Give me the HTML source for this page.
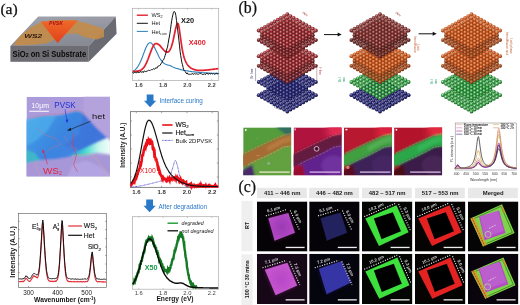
<!DOCTYPE html><html><head><meta charset="utf-8"><title>Figure</title><style>html,body{margin:0;padding:0;background:#fff;width:520px;height:305px;overflow:hidden}svg{display:block}text{font-family:'Liberation Sans', Arial, sans-serif}.sf{font-family:'Liberation Serif', 'Times New Roman', serif}</style></head><body>
<svg width="520" height="305" viewBox="0 0 520 305">
<defs><filter id="bl1" x="-20%" y="-20%" width="140%" height="140%"><feGaussianBlur stdDeviation="1"/></filter><filter id="bl2" x="-20%" y="-20%" width="140%" height="140%"><feGaussianBlur stdDeviation="2"/></filter><filter id="bl05" x="-20%" y="-20%" width="140%" height="140%"><feGaussianBlur stdDeviation="0.5"/></filter></defs>
<rect width="520" height="305" fill="#fff"/>
<text class="sf" x="0.4" y="13.6" font-size="15.6" fill="#111" stroke="#111" stroke-width="0.25">(a)</text>
<defs><linearGradient id="topf" x1="0" y1="0" x2="0.3" y2="1"><stop offset="0" stop-color="#a0a3ae"/><stop offset="1" stop-color="#888a94"/></linearGradient><linearGradient id="pvg" x1="0" y1="0" x2="0" y2="1"><stop offset="0" stop-color="#ee6a2a"/><stop offset="1" stop-color="#e2401a"/></linearGradient></defs>
<g>
<polygon points="38.2,16.6 115.7,16.6 88.8,46 10.4,46" fill="url(#topf)"/>
<rect x="10.4" y="46" width="78.4" height="15.8" fill="#6d6d73"/>
<polygon points="88.8,46 115.7,16.6 116.6,33.8 88.8,61.8" fill="#6a6a72"/>
<polygon filter="url(#bl05)" points="14,44 20,36 30,28 40,22.5 52,20 72,20 86,23 100,27.5 104,30 104,37 97,39.5 86,37.5 76,33.5 66,34 56,39 46,43.5 30,45 16,45.5" fill="#c48c48" opacity="0.9"/>
<polygon filter="url(#bl05)" points="40.5,21.5 78,20.2 57.5,43" fill="url(#pvg)"/>
<text x="49" y="25" font-size="4.6" font-weight="bold" font-style="italic" fill="#a3141a" textLength="14" lengthAdjust="spacingAndGlyphs">PVSK</text>
<text x="24.2" y="38" font-size="5.2" font-weight="bold" font-style="italic" fill="#2e1c0e" textLength="18" lengthAdjust="spacingAndGlyphs">WS2</text>
<text x="12.6" y="56.9" font-size="8.6" font-weight="bold" fill="#0a0a0a" textLength="73.6" lengthAdjust="spacingAndGlyphs">SiO<tspan font-size="6">2</tspan> on Si Substrate</text>
</g>
<g>
<rect x="132.4" y="8.3" width="86.3" height="72.2" fill="none" stroke="#aaa" stroke-width="0.7"/>
<line x1="138.8" y1="80.5" x2="138.8" y2="79" stroke="#999" stroke-width="0.5"/>
<line x1="138.8" y1="8.3" x2="138.8" y2="9.8" stroke="#999" stroke-width="0.5"/>
<text x="138.8" y="87.2" font-size="5.8" font-weight="bold" fill="#444" text-anchor="middle">1.6</text>
<line x1="163.1" y1="80.5" x2="163.1" y2="79" stroke="#999" stroke-width="0.5"/>
<line x1="163.1" y1="8.3" x2="163.1" y2="9.8" stroke="#999" stroke-width="0.5"/>
<text x="163.1" y="87.2" font-size="5.8" font-weight="bold" fill="#444" text-anchor="middle">1.8</text>
<line x1="187.4" y1="80.5" x2="187.4" y2="79" stroke="#999" stroke-width="0.5"/>
<line x1="187.4" y1="8.3" x2="187.4" y2="9.8" stroke="#999" stroke-width="0.5"/>
<text x="187.4" y="87.2" font-size="5.8" font-weight="bold" fill="#444" text-anchor="middle">2.0</text>
<line x1="211.7" y1="80.5" x2="211.7" y2="79" stroke="#999" stroke-width="0.5"/>
<line x1="211.7" y1="8.3" x2="211.7" y2="9.8" stroke="#999" stroke-width="0.5"/>
<text x="211.7" y="87.2" font-size="5.8" font-weight="bold" fill="#444" text-anchor="middle">2.2</text>
<path d="M132.7,71.5 133.3,71.2 133.9,70.8 134.5,70.3 135.1,69.8 135.7,69.2 136.3,68.6 136.9,67.8 137.5,67 138.1,66.1 138.7,65.1 139.3,64 139.9,62.8 140.5,61.5 141.1,60.2 141.7,58.7 142.3,57.2 142.9,55.6 143.5,54 144.1,52.4 144.7,50.8 145.3,49.3 145.9,47.8 146.5,46.5 147.1,45.4 147.7,44.4 148.3,43.6 148.9,43.1 149.5,42.8 150.1,42.7 150.7,42.8 151.3,43.2 151.9,43.7 152.5,44.3 153.1,45.1 153.7,46.1 154.3,47.1 154.9,48.3 155.5,49.5 156.1,50.8 156.7,52 157.3,53.3 157.9,54.5 158.5,55.7 159.1,56.9 159.7,58 160.3,59 160.9,59.9 161.5,60.7 162.1,61.5 162.7,62.1 163.3,62.7 163.9,63.2 164.5,63.6 165.1,64 165.7,64.3 166.3,64.5 166.9,64.7 167.5,64.9 168.1,65.1 168.7,65.2 169.3,65.3 169.9,65.5 170.5,65.8 171.1,66.1 171.7,66.5 172.3,66.8 172.9,67 173.5,67.3 174.1,67.5 174.7,67.8 175.3,68 175.9,68.2 176.5,68.4 177.1,68.6 177.7,68.8 178.3,68.9 178.9,69.1 179.5,69.3 180.1,69.4 180.7,69.6 181.3,69.7 181.9,69.9 182.5,70 183.1,70.1 183.7,70.3 184.3,70.4 184.9,70.5 185.5,70.6 186.1,70.7 186.7,70.8 187.3,70.9 187.9,71 188.5,71.1 189.1,71.2 189.7,71.3 190.3,71.4 190.9,71.5 191.5,71.6 192.1,71.7 192.7,71.7 193.3,71.8 193.9,71.9 194.5,71.9 195.1,72 195.7,72.1 196.3,72.1 196.9,72.2 197.5,72.3 198.1,72.3 198.7,72.4 199.3,72.4 199.9,72.5 200.5,72.5 201.1,72.6 201.7,72.6 202.3,72.7 202.9,72.7 203.5,72.8 204.1,72.8 204.7,72.8 205.3,72.9 205.9,72.9 206.5,72.9 207.1,73 207.7,73 208.3,73 208.9,73.1 209.5,73.1 210.1,73.1 210.7,73.2 211.3,73.2 211.9,73.2 212.5,73.2 213.1,73.3 213.7,73.3 214.3,73.3 214.9,73.3 215.5,73.4 216.1,73.4 216.7,73.4 217.3,73.4 217.9,73.4 218.5,73.5" fill="none" stroke="#2a7fb8" stroke-width="1.1"/>
<path d="M132.7,71.5 133.2,71.4 133.7,71.4 134.2,71.4 134.7,71.4 135.2,71.4 135.7,71.3 136.2,71.3 136.7,71.2 137.2,71.2 137.7,71.1 138.2,71 138.7,70.9 139.2,70.8 139.7,70.6 140.2,70.4 140.7,70.2 141.2,69.9 141.7,69.5 142.2,69.1 142.7,68.7 143.2,68.2 143.7,67.6 144.2,66.9 144.7,66.2 145.2,65.3 145.7,64.4 146.2,63.4 146.7,62.4 147.2,61.2 147.7,60 148.2,58.7 148.7,57.4 149.2,56 149.7,54.6 150.2,53.3 150.7,51.9 151.2,50.6 151.7,49.3 152.2,48.2 152.7,47.1 153.2,46.1 153.7,45.3 154.2,44.6 154.7,44.1 155.2,43.8 155.7,43.6 156.2,43.6 156.7,43.6 157.2,43.7 157.7,43.9 158.2,44.2 158.7,44.6 159.2,45 159.7,45.4 160.2,45.9 160.7,46.5 161.2,47.1 161.7,47.7 162.2,48.3 162.7,48.9 163.2,49.5 163.7,50 164.2,50.5 164.7,51 165.2,51.4 165.7,51.8 166.2,52 166.7,52.2 167.2,52.2 167.7,52.1 168.2,51.9 168.7,51.6 169.2,51.1 169.7,50.4 170.2,49.5 170.7,48.5 171.2,47.2 171.7,45.7 172.2,44.1 172.7,42.2 173.2,40.1 173.7,37.8 174.2,35.4 174.7,33 175.2,30.6 175.7,28.3 176.2,26.4 176.7,24.9 177.2,23.9 177.7,23.5 178.2,24 178.7,25.7 179.2,28.4 179.7,31.8 180.2,35.5 180.7,39.2 181.2,42.7 181.7,46 182.2,49 182.7,51.6 183.2,53.9 183.7,55.9 184.2,57.7 184.7,59.2 185.2,60.5 185.7,61.7 186.2,62.7 186.7,63.6 187.2,64.4 187.7,65.1 188.2,65.7 188.7,66.2 189.2,66.7 189.7,67.1 190.2,67.5 190.7,67.9 191.2,68.2 191.7,68.5 192.2,68.7 192.7,68.9 193.2,69.2 193.7,69.3 194.2,69.5 194.7,69.7 195.2,69.8 195.7,70 196.2,70.1 196.7,70.2 197.2,70.3 197.7,70.4 198.2,70.4 198.7,70.4 199.2,70.4 199.7,70.4 200.2,70.4 200.7,70.4 201.2,70.4 201.7,70.4 202.2,70.4 202.7,70.3 203.2,70.3 203.7,70.3 204.2,70.2 204.7,70.2 205.2,70.1 205.7,70.1 206.2,70.1 206.7,70 207.2,70 207.7,69.9 208.2,69.9 208.7,69.8 209.2,69.8 209.7,69.7 210.2,69.6 210.7,69.6 211.2,69.5 211.7,69.5 212.2,69.4 212.7,69.3 213.2,69.3 213.7,69.2 214.2,69.2 214.7,69.1 215.2,69 215.7,69 216.2,68.9 216.7,68.8 217.2,68.8 217.7,68.7 218.2,68.6" fill="none" stroke="#e2202e" stroke-width="1.7"/>
<path d="M132.7,72.2 133.3,73.2 133.9,73.1 134.5,72.3 135.1,72.6 135.7,72.5 136.3,72.7 136.9,72.9 137.5,71.9 138.1,71.7 138.7,72.8 139.3,72.2 139.9,72.6 140.5,71.4 141.1,72 141.7,72.3 142.3,71.5 142.9,72.5 143.5,72.3 144.1,71 144.7,70.9 145.3,71.6 145.9,72 146.5,71.1 147.1,70.8 147.7,70.9 148.3,70.3 148.9,70.4 149.5,70.5 150.1,70.5 150.7,69.9 151.3,69.7 151.9,69.5 152.5,69.6 153.1,69.2 153.7,68.5 154.3,69.4 154.9,68.7 155.5,68.5 156.1,67.5 156.7,68.3 157.3,67.7 157.9,66.2 158.5,66 159.1,66 159.7,65.4 160.3,65.1 160.9,63.6 161.5,63.3 162.1,62.2 162.7,60.7 163.3,59.9 163.9,59.1 164.5,57.6 165.1,55.5 165.7,53.8 166.3,50.9 166.9,48.9 167.5,47.1 168.1,43.6 168.7,40 169.3,37 169.9,33.4 170.5,29.3 171.1,24.8 171.7,20.8 172.3,17.3 172.9,14.7 173.5,12.3 174.1,11.3 174.7,11.8 175.3,12.9 175.9,15.7 176.5,20.4 177.1,25.4 177.7,29.9 178.3,35 178.9,40.1 179.5,45.8 180.1,51.3 180.7,55.5 181.3,59.1 181.9,62.8 182.5,64.7 183.1,67.4 183.7,69.8 184.3,70.6 184.9,71.5 185.5,72 186.1,72.9 186.7,73.9 187.3,72.8 187.9,74.1 188.5,74.3 189.1,74.4 189.7,74.3 190.3,74.4 190.9,74 191.5,74.1 192.1,73.9 192.7,73.4 193.3,74.5 193.9,74.1 194.5,73.6 195.1,74 195.7,74 196.3,73.8 196.9,73.8 197.5,74.1 198.1,74.2 198.7,74.2 199.3,73.9 199.9,73.3 200.5,73.6 201.1,73.5 201.7,74.1 202.3,74.5 202.9,74.4 203.5,74.4 204.1,74.4 204.7,73.7 205.3,74.5 205.9,74.2 206.5,73.4 207.1,73.3 207.7,73.3 208.3,74.4 208.9,73.6 209.5,73.5 210.1,74.2 210.7,73.8 211.3,73.4 211.9,73.5 212.5,74 213.1,73.5 213.7,73.7 214.3,74.3 214.9,73.9 215.5,73.8 216.1,74 216.7,73.3 217.3,73.8 217.9,73.9 218.5,73.6" fill="none" stroke="#111" stroke-width="1"/>
<line x1="136.8" y1="15.2" x2="147.9" y2="15.2" stroke="#e2202e" stroke-width="1.4"/>
<line x1="136.8" y1="23.3" x2="147.9" y2="23.3" stroke="#111" stroke-width="1"/>
<line x1="136.8" y1="31.4" x2="147.9" y2="31.4" stroke="#2a7fb8" stroke-width="1"/>
<text x="151.4" y="17.3" font-size="5.6" fill="#222">WS<tspan font-size="3.8" dy="1">2</tspan></text>
<text x="151.4" y="25.4" font-size="5.6" fill="#222">Het</text>
<text x="151.4" y="33.5" font-size="5.6" fill="#222">Het<tspan font-size="3.5" dy="1">cure</tspan></text>
<text x="181.1" y="23" font-size="7.6" font-weight="bold" fill="#111" textLength="13.1" lengthAdjust="spacingAndGlyphs">X20</text>
<text x="188.8" y="45" font-size="7.6" font-weight="bold" fill="#e2202e" textLength="16.9" lengthAdjust="spacingAndGlyphs">X400</text>
</g>
<path d="M146.7,94.5 h6.8 v6.3 h2.7 l-6.1,6.4 l-6.1,-6.4 h2.7 z" fill="#2a78c8"/>
<text x="159.4" y="103" font-size="6.3" fill="#2a78c8" textLength="43.4" lengthAdjust="spacingAndGlyphs">Interface curing</text>
<path d="M146.2,199.5 h6.8 v6.3 h2.7 l-6.1,6.4 l-6.1,-6.4 h2.7 z" fill="#2a78c8"/>
<text x="158.4" y="208.6" font-size="6.4" fill="#2a78c8" textLength="48.6" lengthAdjust="spacingAndGlyphs">After degradation</text>
<g>
<rect x="130.6" y="111.7" width="87.6" height="75.6" fill="none" stroke="#555" stroke-width="0.7"/>
<line x1="136.3" y1="187.3" x2="136.3" y2="185.8" stroke="#555" stroke-width="0.5"/>
<line x1="136.3" y1="111.7" x2="136.3" y2="113.2" stroke="#555" stroke-width="0.5"/>
<text x="136.3" y="194" font-size="6" font-weight="bold" fill="#333" text-anchor="middle">1.6</text>
<line x1="161.6" y1="187.3" x2="161.6" y2="185.8" stroke="#555" stroke-width="0.5"/>
<line x1="161.6" y1="111.7" x2="161.6" y2="113.2" stroke="#555" stroke-width="0.5"/>
<text x="161.6" y="194" font-size="6" font-weight="bold" fill="#333" text-anchor="middle">1.8</text>
<line x1="186.9" y1="187.3" x2="186.9" y2="185.8" stroke="#555" stroke-width="0.5"/>
<line x1="186.9" y1="111.7" x2="186.9" y2="113.2" stroke="#555" stroke-width="0.5"/>
<text x="186.9" y="194" font-size="6" font-weight="bold" fill="#333" text-anchor="middle">2.0</text>
<line x1="212.2" y1="187.3" x2="212.2" y2="185.8" stroke="#555" stroke-width="0.5"/>
<line x1="212.2" y1="111.7" x2="212.2" y2="113.2" stroke="#555" stroke-width="0.5"/>
<text x="212.2" y="194" font-size="6" font-weight="bold" fill="#333" text-anchor="middle">2.2</text>
<line x1="130.6" y1="121" x2="132" y2="121" stroke="#555" stroke-width="0.5"/>
<line x1="218.2" y1="121" x2="216.8" y2="121" stroke="#555" stroke-width="0.5"/>
<line x1="130.6" y1="135" x2="132" y2="135" stroke="#555" stroke-width="0.5"/>
<line x1="218.2" y1="135" x2="216.8" y2="135" stroke="#555" stroke-width="0.5"/>
<line x1="130.6" y1="149" x2="132" y2="149" stroke="#555" stroke-width="0.5"/>
<line x1="218.2" y1="149" x2="216.8" y2="149" stroke="#555" stroke-width="0.5"/>
<line x1="130.6" y1="163" x2="132" y2="163" stroke="#555" stroke-width="0.5"/>
<line x1="218.2" y1="163" x2="216.8" y2="163" stroke="#555" stroke-width="0.5"/>
<line x1="130.6" y1="177" x2="132" y2="177" stroke="#555" stroke-width="0.5"/>
<line x1="218.2" y1="177" x2="216.8" y2="177" stroke="#555" stroke-width="0.5"/>
<text transform="translate(125.4,145.2) rotate(-90)" font-size="6.7" font-weight="bold" fill="#222" text-anchor="middle" textLength="45" lengthAdjust="spacingAndGlyphs">Intensity (A.U.)</text>
<path d="M130.8,187.2 C132.3,187 136.8,186.6 140,186 C143.2,185.4 146.7,184.6 150,183.8 C153.3,183 157.3,182 160,181.2 C162.7,180.4 164.3,180.1 166,179.2 C167.7,178.2 168.9,177.4 170,175.5 C171.1,173.6 171.9,170 172.8,167.5 C173.7,165 174.5,160.7 175.3,160.5 C176.1,160.3 176.8,163.8 177.6,166.5 C178.3,169.2 179,173.8 179.8,176.5 C180.6,179.2 181.3,181.4 182.3,183 C183.3,184.6 184.7,185.6 186,186.3 C187.3,187 189.3,186.9 190,187" fill="none" stroke="#4a4ad0" stroke-width="0.85" stroke-dasharray="0.9,0.45"/>
<path d="M130.9,184.2 131.2,184.7 131.5,184.1 131.8,184.4 132.1,184.2 132.4,182.6 132.7,182.1 133,183.8 133.3,182 133.6,181.6 133.9,183.1 134.2,181.3 134.5,181.8 134.8,180.3 135.1,180.2 135.4,178.3 135.7,179 136,179 136.3,177.4 136.6,177.3 136.9,176.3 137.2,173.7 137.5,175 137.8,173.6 138.1,171.8 138.4,169.9 138.7,171.7 139,169.3 139.3,169.1 139.6,168.6 139.9,167 140.2,166.6 140.5,163.5 140.8,163.9 141.1,161.3 141.4,162.1 141.7,160.7 142,156.3 142.3,155.2 142.6,154.3 142.9,156.4 143.2,152.9 143.5,152.6 143.8,150 144.1,149.8 144.4,148.2 144.7,147 145,147.1 145.3,146.2 145.6,147 145.9,145.1 146.2,145.6 146.5,144.6 146.8,144.7 147.1,142.4 147.4,139.2 147.7,142.6 148,142.9 148.3,142.3 148.6,140.4 148.9,141.1 149.2,138.4 149.5,141.9 149.8,140.7 150.1,139.5 150.4,138.7 150.7,143.4 151,144.7 151.3,140.6 151.6,145 151.9,143.8 152.2,143.3 152.5,145 152.8,148.4 153.1,149.9 153.4,146.9 153.7,150.8 154,149.3 154.3,153.6 154.6,153 154.9,156.6 155.2,158.3 155.5,157.4 155.8,160.7 156.1,159 156.4,159.3 156.7,162.5 157,161.5 157.3,163.3 157.6,165.2 157.9,167 158.2,166.4 158.5,167 158.8,170.8 159.1,169.8 159.4,172.8 159.7,173.3 160,172.4 160.3,173.4 160.6,174.3 160.9,175.3 161.2,175.7 161.5,176.1 161.8,176.8 162.1,178.1 162.4,177.3 162.7,177.5 163,178.6 163.3,177.5 163.6,178 163.9,180 164.2,179 164.5,179.2 164.8,177.9 165.1,179.1 165.4,179.6 165.7,178.2 166,179.8 166.3,179.9 166.6,178.3 166.9,179.9 167.2,179.4 167.5,179.9 167.8,179 168.1,179.9 168.4,180 168.7,178 169,178 169.3,179.6 169.6,180.3 169.9,178.3 170.2,178.8 170.5,179.1 170.8,178.3 171.1,178.4 171.4,178.2 171.7,178.3 172,178.9 172.3,178 172.6,178.2 172.9,179.2 173.2,177.2 173.5,178.7 173.8,179.1 174.1,177.9 174.4,177.7 174.7,179.3 175,177.8 175.3,177.7 175.6,178.4 175.9,179.2 176.2,177.6 176.5,178.3 176.8,178.4 177.1,179.9 177.4,178.9 177.7,180.1 178,178.4 178.3,178.9 178.6,179.9 178.9,180.6 179.2,179.6 179.5,179.1 179.8,179 180.1,180.2 180.4,179.5 180.7,181.2 181,181.5 181.3,179.9 181.6,180.3 181.9,181.9 182.2,181.6 182.5,182.2 182.8,181.1 183.1,180.8 183.4,181.3 183.7,182.8 184,181.6 184.3,182 184.6,182.3 184.9,182.5 185.2,182.6 185.5,184 185.8,182.3 186.1,182.1 186.4,184.5 186.7,184.5 187,184.8 187.3,183.7 187.6,185 187.9,185.1 188.2,183.5 188.5,184.9 188.8,185.2 189.1,184.9 189.4,184.7 189.7,184.3 190,184.5 190.3,184.3 190.6,184 190.9,185.3 191.2,184.7 191.5,186 191.8,184.3 192.1,186.4 192.4,185.9 192.7,186.4 193,186.4 193.3,186.4 193.6,185.9 193.9,184.7 194.2,186.4 194.5,185.2 194.8,185.5 195.1,186.4 195.4,186.1 195.7,185.9 196,186.4 196.3,186.4 196.6,185.8 196.9,185.6 197.2,186.4 197.5,186.2 197.8,186.4 198.1,185.9 198.4,185.6 198.7,186.4 199,186.4 199.3,185.6 199.6,186.4 199.9,186.4 200.2,186.4 200.5,186.4 200.8,185.3 201.1,186.4 201.4,186.4 201.7,185.4 202,185.9 202.3,185.9 202.6,186.4 202.9,186.3 203.2,186.4 203.5,186.4 203.8,185.4 204.1,185.5 204.4,185.7 204.7,185.6 205,185.5 205.3,186.4 205.6,186.4 205.9,185.6 206.2,186.4 206.5,186.1 206.8,186.1 207.1,186.2 207.4,186.4 207.7,186.4 208,186.2 208.3,185.8 208.6,186.1 208.9,185.7 209.2,186.4 209.5,186.4 209.8,186.2 210.1,185.6 210.4,185.8 210.7,186.2 211,186.4 211.3,186.4 211.6,186.2 211.9,186.4 212.2,186.4 212.5,186.3 212.8,186.2 213.1,186.4 213.4,186.4 213.7,186.3 214,186.4 214.3,186.4 214.6,185.9 214.9,186.4 215.2,186.4 215.5,185.6 215.8,186.3 216.1,186.3 216.4,186.4 216.7,186.4 217,186.2 217.3,186.4 217.6,186.4 217.9,186" fill="none" stroke="#ee1018" stroke-width="2.6"/>
<path d="M130.9,183.3 131.4,182.8 131.9,182.1 132.4,181.3 132.9,180.5 133.4,179.5 133.9,178.5 134.4,177.3 134.9,176 135.4,174.5 135.9,172.9 136.4,171.2 136.9,169.3 137.4,167.3 137.9,165.2 138.4,162.9 138.9,160.6 139.4,158.1 139.9,155.5 140.4,152.8 140.9,150.1 141.4,147.4 141.9,144.6 142.4,141.9 142.9,139.2 143.4,136.6 143.9,134.1 144.4,131.7 144.9,129.4 145.4,127.4 145.9,125.6 146.4,124 146.9,122.6 147.4,121.6 147.9,120.8 148.4,120.4 148.9,120.2 149.4,120.3 149.9,120.6 150.4,121 150.9,121.6 151.4,122.4 151.9,123.3 152.4,124.4 152.9,125.6 153.4,127 153.9,128.4 154.4,130 154.9,131.6 155.4,133.3 155.9,135.1 156.4,136.9 156.9,138.7 157.4,140.5 157.9,142.4 158.4,144.2 158.9,146.1 159.4,147.9 159.9,149.6 160.4,151.3 160.9,153 161.4,154.6 161.9,156.2 162.4,157.7 162.9,159.1 163.4,160.5 163.9,161.8 164.4,163 164.9,164.2 165.4,165.3 165.9,166.4 166.4,167.4 166.9,168.3 167.4,169.2 167.9,170 168.4,170.8 168.9,171.6 169.4,172.3 169.9,173 170.4,173.6 170.9,174.2 171.4,174.8 171.9,175.3 172.4,175.8 172.9,176.3 173.4,176.8 173.9,177.3 174.4,177.7 174.9,178.1 175.4,178.5 175.9,178.9 176.4,179.3 176.9,179.6 177.4,180 177.9,180.3 178.4,180.6 178.9,180.9 179.4,181.2 179.9,181.5 180.4,181.8 180.9,182 181.4,182.3 181.9,182.5 182.4,182.7 182.9,182.9 183.4,183.1 183.9,183.3 184.4,183.5 184.9,183.7 185.4,183.9 185.9,184 186.4,184.2 186.9,184.3 187.4,184.5 187.9,184.6 188.4,184.7 188.9,184.8 189.4,185 189.9,185.1 190.4,185.2 190.9,185.3 191.4,185.3 191.9,185.4 192.4,185.5 192.9,185.6 193.4,185.6 193.9,185.7 194.4,185.8 194.9,185.8 195.4,185.9 195.9,185.9 196.4,186 196.9,186 197.4,186.1 197.9,186.1 198.4,186.1 198.9,186.2 199.4,186.2 199.9,186.2 200.4,186.2 200.9,186.3 201.4,186.3 201.9,186.3 202.4,186.3 202.9,186.3 203.4,186.3 203.9,186.4 204.4,186.4 204.9,186.4 205.4,186.4 205.9,186.4 206.4,186.4 206.9,186.4 207.4,186.4 207.9,186.4 208.4,186.4 208.9,186.4 209.4,186.5 209.9,186.5 210.4,186.5 210.9,186.5 211.4,186.5 211.9,186.5 212.4,186.5 212.9,186.5 213.4,186.5 213.9,186.5 214.4,186.5 214.9,186.5 215.4,186.5 215.9,186.5 216.4,186.5 216.9,186.5 217.4,186.5 217.9,186.5" fill="none" stroke="#111" stroke-width="1.2"/>
<line x1="162.2" y1="125" x2="172.5" y2="125" stroke="#ee1018" stroke-width="1.6"/>
<line x1="162.2" y1="133" x2="172.5" y2="133" stroke="#111" stroke-width="1.2"/>
<line x1="162.2" y1="140.4" x2="172.5" y2="140.4" stroke="#4a4ad0" stroke-width="0.9" stroke-dasharray="0.9,0.5"/>
<text x="175.5" y="127.4" font-size="6.6" fill="#111" stroke="#111" stroke-width="0.15">WS<tspan font-size="4.4" dy="1">2</tspan></text>
<text x="175.5" y="135.4" font-size="6.6" fill="#111" stroke="#111" stroke-width="0.15">Het<tspan font-size="4.4" dy="1">cure</tspan></text>
<text x="175.5" y="142.6" font-size="6.2" fill="#222" textLength="36.8" lengthAdjust="spacingAndGlyphs">Bulk 2DPVSK</text>
<text x="140" y="172.9" font-size="6.6" fill="#ee1018" textLength="15.8" lengthAdjust="spacingAndGlyphs">X100</text>
</g>
<g>
<rect x="132.4" y="216.7" width="86.3" height="72.5" fill="none" stroke="#aaa" stroke-width="0.7"/>
<line x1="138.8" y1="289.2" x2="138.8" y2="287.8" stroke="#999" stroke-width="0.5"/>
<line x1="138.8" y1="216.7" x2="138.8" y2="218.1" stroke="#999" stroke-width="0.5"/>
<text x="138.8" y="295.2" font-size="5.8" fill="#444" text-anchor="middle">1.6</text>
<line x1="163.1" y1="289.2" x2="163.1" y2="287.8" stroke="#999" stroke-width="0.5"/>
<line x1="163.1" y1="216.7" x2="163.1" y2="218.1" stroke="#999" stroke-width="0.5"/>
<text x="163.1" y="295.2" font-size="5.8" fill="#444" text-anchor="middle">1.8</text>
<line x1="187.4" y1="289.2" x2="187.4" y2="287.8" stroke="#999" stroke-width="0.5"/>
<line x1="187.4" y1="216.7" x2="187.4" y2="218.1" stroke="#999" stroke-width="0.5"/>
<text x="187.4" y="295.2" font-size="5.8" fill="#444" text-anchor="middle">2.0</text>
<line x1="211.7" y1="289.2" x2="211.7" y2="287.8" stroke="#999" stroke-width="0.5"/>
<line x1="211.7" y1="216.7" x2="211.7" y2="218.1" stroke="#999" stroke-width="0.5"/>
<text x="211.7" y="295.2" font-size="5.8" fill="#444" text-anchor="middle">2.2</text>
<path d="M132.6,284.3 132.9,284.2 133.2,283.9 133.5,283.8 133.8,282.9 134.1,282.9 134.4,280.4 134.7,280.8 135,281.4 135.3,280.1 135.6,280.1 135.9,277.5 136.2,277.7 136.5,276.4 136.8,276.4 137.1,275.7 137.4,273.3 137.7,273 138,272.2 138.3,273.2 138.6,271.8 138.9,268.9 139.2,269.9 139.5,266.8 139.8,267.2 140.1,264.5 140.4,262.9 140.7,264.8 141,261.3 141.3,260.2 141.6,261.9 141.9,260.3 142.2,256.9 142.5,258.4 142.8,255.5 143.1,254.9 143.4,251.8 143.7,253.8 144,251.7 144.3,251.8 144.6,250.5 144.9,246.7 145.2,246 145.5,244.2 145.8,243.1 146.1,241.9 146.4,242.2 146.7,243 147,239.3 147.3,242.1 147.6,239.8 147.9,239.2 148.2,241.4 148.5,239.3 148.8,238.2 149.1,238.9 149.4,239.9 149.7,236.5 150,241.3 150.3,236.4 150.6,240.3 150.9,241 151.2,236.9 151.5,241.2 151.8,239.4 152.1,240.8 152.4,238.3 152.7,239 153,240.2 153.3,244.6 153.6,241.5 153.9,244.8 154.2,246.3 154.5,247.1 154.8,244.9 155.1,245.7 155.4,247.3 155.7,249.2 156,247 156.3,250.7 156.6,251.8 156.9,252.9 157.2,250.2 157.5,254.9 157.8,252.2 158.1,254.2 158.4,256.1 158.7,258.2 159,256.8 159.3,259.9 159.6,259.3 159.9,259.3 160.2,260.1 160.5,260.4 160.8,260.8 161.1,261.9 161.4,264.5 161.7,266.3 162,264.1 162.3,264.4 162.6,268.1 162.9,267.2 163.2,267.3 163.5,267.3 163.8,268.9 164.1,270.1 164.4,269.3 164.7,269.6 165,268.8 165.3,271.6 165.6,269.2 165.9,270.7 166.2,271.9 166.5,269.8 166.8,271.6 167.1,272.2 167.4,271.2 167.7,271.5 168,269.2 168.3,269.9 168.6,268.7 168.9,270.4 169.2,268.3 169.5,268.3 169.8,269.4 170.1,268.4 170.4,268.1 170.7,265.6 171,265 171.3,264.9 171.6,263.2 171.9,261.6 172.2,261 172.5,259 172.8,258.7 173.1,260 173.4,258.8 173.7,256.3 174,254.6 174.3,252.7 174.6,250.4 174.9,249.9 175.2,250.9 175.5,250.1 175.8,246.6 176.1,247.4 176.4,246.2 176.7,244.6 177,243.4 177.3,242.8 177.6,239.8 177.9,240.6 178.2,237.5 178.5,237.7 178.8,238.4 179.1,237.3 179.4,234.5 179.7,237.6 180,235.5 180.3,234.8 180.6,231.3 180.9,234.2 181.2,232.4 181.5,234.8 181.8,233.9 182.1,236.3 182.4,236.1 182.7,237.9 183,236.7 183.3,239.8 183.6,241.9 183.9,244.2 184.2,243.8 184.5,248.3 184.8,250.6 185.1,252 185.4,255.5 185.7,257.7 186,258.2 186.3,260.6 186.6,261.5 186.9,266.1 187.2,268.4 187.5,268.9 187.8,271.4 188.1,273.3 188.4,274.9 188.7,274.9 189,277.9 189.3,278.7 189.6,280 189.9,280.5 190.2,281.9 190.5,283 190.8,283.5 191.1,284.3 191.4,283.4 191.7,284.2 192,285.2 192.3,286 192.6,285.4 192.9,286.6 193.2,286.7 193.5,285.8 193.8,286.8 194.1,286.5 194.4,286.3 194.7,286.5 195,286.9 195.3,286.7 195.6,286.8 195.9,286.6 196.2,287.4 196.5,287.3 196.8,287.8" fill="none" stroke="#147a24" stroke-width="2.4"/>
<path d="M132.6,284 133.1,283.4 133.6,282.7 134.1,281.9 134.6,281.1 135.1,280.1 135.6,279.1 136.1,278 136.6,276.8 137.1,275.5 137.6,274.1 138.1,272.6 138.6,271 139.1,269.3 139.6,267.6 140.1,265.8 140.6,263.9 141.1,262 141.6,260.1 142.1,258.1 142.6,256.1 143.1,254.2 143.6,252.3 144.1,250.5 144.6,248.7 145.1,247 145.6,245.4 146.1,244 146.6,242.7 147.1,241.6 147.6,240.6 148.1,239.9 148.6,239.3 149.1,239 149.6,238.8 150.1,238.9 150.6,239.1 151.1,239.5 151.6,240 152.1,240.8 152.6,241.6 153.1,242.6 153.6,243.8 154.1,245 154.6,246.4 155.1,247.8 155.6,249.3 156.1,250.9 156.6,252.5 157.1,254.1 157.6,255.7 158.1,257.4 158.6,259 159.1,260.6 159.6,262.1 160.1,263.6 160.6,265.1 161.1,266.5 161.6,267.8 162.1,269.1 162.6,270.2 163.1,271.4 163.6,272.4 164.1,273.4 164.6,274.3 165.1,275.2 165.6,275.9 166.1,276.7 166.6,277.3 167.1,278 167.6,278.5 168.1,279 168.6,279.5 169.1,280 169.6,280.4 170.1,280.8 170.6,281.1 171.1,281.4 171.6,281.7 172.1,282 172.6,282.2 173.1,282.5 173.6,282.7 174.1,282.8 174.6,283 175.1,283.1 175.6,283.2 176.1,283.2 176.6,283.3 177.1,283.2 177.6,283.2 178.1,283.2 178.6,283.1 179.1,283 179.6,283 180.1,282.9 180.6,282.9 181.1,283 181.6,283 182.1,283.1 182.6,283.3 183.1,283.5 183.6,283.7 184.1,284 184.6,284.3 185.1,284.6 185.6,284.9 186.1,285.2 186.6,285.5 187.1,285.7 187.6,286 188.1,286.2 188.6,286.4 189.1,286.6 189.6,286.7 190.1,286.9 190.6,287 191.1,287.1 191.6,287.1 192.1,287.2 192.6,287.3 193.1,287.3 193.6,287.4 194.1,287.4 194.6,287.5 195.1,287.5 195.6,287.5 196.1,287.6 196.6,287.6 197.1,287.6 197.6,287.7 198.1,287.7 198.6,287.7 199.1,287.7 199.6,287.7 200.1,287.8 200.6,287.8 201.1,287.8 201.6,287.8 202.1,287.8 202.6,287.8 203.1,287.9 203.6,287.9 204.1,287.9 204.6,287.9 205.1,287.9 205.6,287.9 206.1,287.9 206.6,287.9 207.1,287.9 207.6,287.9 208.1,287.9 208.6,287.9 209.1,287.9 209.6,288 210.1,288 210.6,288 211.1,288 211.6,288 212.1,288 212.6,288 213.1,288 213.6,288 214.1,288 214.6,288 215.1,288 215.6,288 216.1,288 216.6,288 217.1,288 217.6,288 218.1,288" fill="none" stroke="#0a0a0a" stroke-width="1.4"/>
<line x1="167.5" y1="223.2" x2="178" y2="223.2" stroke="#2aa040" stroke-width="1.5"/>
<line x1="167.5" y1="230.8" x2="178" y2="230.8" stroke="#111" stroke-width="1.3"/>
<text x="181.6" y="225.2" font-size="5.6" fill="#222" font-style="italic" textLength="22" lengthAdjust="spacingAndGlyphs">degraded</text>
<text x="181.6" y="232.8" font-size="5.6" fill="#222" font-style="italic" textLength="31.8" lengthAdjust="spacingAndGlyphs">not degraded</text>
<text x="144.7" y="269.5" font-size="7.6" font-weight="bold" fill="#1a9a4a" textLength="12.8" lengthAdjust="spacingAndGlyphs">X50</text>
<text x="156.4" y="301.3" font-size="7" font-weight="bold" fill="#1a1a1a" textLength="37.2" lengthAdjust="spacingAndGlyphs">Energy (eV)</text>
</g>
<g>
<rect x="18.5" y="213.3" width="87.9" height="74.2" fill="none" stroke="#555" stroke-width="0.6"/>
<text x="28.5" y="295.2" font-size="6.4" fill="#222" text-anchor="middle">300</text>
<line x1="28.5" y1="287.5" x2="28.5" y2="286" stroke="#555" stroke-width="0.5"/>
<text x="57.6" y="295.2" font-size="6.4" fill="#222" text-anchor="middle">400</text>
<line x1="57.6" y1="287.5" x2="57.6" y2="286" stroke="#555" stroke-width="0.5"/>
<text x="86.7" y="295.2" font-size="6.4" fill="#222" text-anchor="middle">500</text>
<line x1="86.7" y1="287.5" x2="86.7" y2="286" stroke="#555" stroke-width="0.5"/>
<line x1="18.5" y1="221.4" x2="19.8" y2="221.4" stroke="#555" stroke-width="0.5"/>
<line x1="106.4" y1="221.4" x2="105.1" y2="221.4" stroke="#555" stroke-width="0.5"/>
<line x1="18.5" y1="229.6" x2="19.8" y2="229.6" stroke="#555" stroke-width="0.5"/>
<line x1="106.4" y1="229.6" x2="105.1" y2="229.6" stroke="#555" stroke-width="0.5"/>
<line x1="18.5" y1="238.6" x2="19.8" y2="238.6" stroke="#555" stroke-width="0.5"/>
<line x1="106.4" y1="238.6" x2="105.1" y2="238.6" stroke="#555" stroke-width="0.5"/>
<line x1="18.5" y1="247" x2="19.8" y2="247" stroke="#555" stroke-width="0.5"/>
<line x1="106.4" y1="247" x2="105.1" y2="247" stroke="#555" stroke-width="0.5"/>
<line x1="18.5" y1="255.5" x2="19.8" y2="255.5" stroke="#555" stroke-width="0.5"/>
<line x1="106.4" y1="255.5" x2="105.1" y2="255.5" stroke="#555" stroke-width="0.5"/>
<line x1="18.5" y1="264" x2="19.8" y2="264" stroke="#555" stroke-width="0.5"/>
<line x1="106.4" y1="264" x2="105.1" y2="264" stroke="#555" stroke-width="0.5"/>
<line x1="18.5" y1="272.5" x2="19.8" y2="272.5" stroke="#555" stroke-width="0.5"/>
<line x1="106.4" y1="272.5" x2="105.1" y2="272.5" stroke="#555" stroke-width="0.5"/>
<text transform="translate(14.8,251.9) rotate(-90)" font-size="7" font-weight="bold" fill="#222" text-anchor="middle" textLength="51.5" lengthAdjust="spacingAndGlyphs">Intensity (A.U.)</text>
<path d="M18.8,281.5 19.1,281.6 19.4,281.8 19.7,281.5 20,281.6 20.3,281.6 20.6,281.4 20.9,281.6 21.2,281.6 21.5,281.7 21.8,281.3 22.1,281.4 22.4,281.3 22.7,281.7 23,281.6 23.3,281.1 23.6,281.6 23.9,281.4 24.2,281 24.5,280.6 24.8,280 25.1,279.4 25.4,279.3 25.7,278.6 26,278.5 26.3,278.4 26.6,278.4 26.9,278.9 27.2,279.2 27.5,279.9 27.8,280.2 28.1,280.6 28.4,280.9 28.7,281.2 29,281.2 29.3,281.1 29.6,281.5 29.9,281.4 30.2,281.2 30.5,280.8 30.8,280.3 31.1,279.8 31.4,279.4 31.7,278.7 32,278.6 32.3,277.8 32.6,277.5 32.9,276.7 33.2,276.6 33.5,276.3 33.8,275.6 34.1,275.7 34.4,276.2 34.7,276.1 35,276.7 35.3,276.5 35.6,276.6 35.9,277.1 36.2,277.4 36.5,277.3 36.8,277.3 37.1,277.5 37.4,277.8 37.7,277.4 38,276.6 38.3,275.9 38.6,274.7 38.9,273.1 39.2,271.5 39.5,268.6 39.8,265.7 40.1,262 40.4,257.8 40.7,253.7 41,248.6 41.3,243.9 41.6,238.4 41.9,233.3 42.2,228.1 42.5,224.1 42.8,222.9 43.1,224.4 43.4,228.2 43.7,233.6 44,238.4 44.3,243.7 44.6,249 44.9,253.7 45.2,257.9 45.5,262.5 45.8,265.7 46.1,269 46.4,272 46.7,274 47,275.8 47.3,277.1 47.6,278.2 47.9,279.3 48.2,279.7 48.5,280.4 48.8,280.5 49.1,280.8 49.4,281.3 49.7,281.1 50,281.2 50.3,281.4 50.6,281.1 50.9,281.1 51.2,281.5 51.5,281.5 51.8,281.2 52.1,281.2 52.4,281.5 52.7,281.6 53,281.2 53.3,281.6 53.6,281.6 53.9,281.4 54.2,281.3 54.5,281.1 54.8,281 55.1,281.5 55.4,281.1 55.7,281.3 56,280.9 56.3,281.1 56.6,280.8 56.9,280.3 57.2,279.8 57.5,279.4 57.8,278.1 58.1,276.9 58.4,275.4 58.7,273.4 59,270.5 59.3,267 59.6,263.5 59.9,258.6 60.2,253.5 60.5,248.3 60.8,242.8 61.1,236.8 61.4,231 61.7,225.9 62,223 62.3,223.4 62.6,227.5 62.9,233.4 63.2,239.3 63.5,244.8 63.8,250.4 64.1,255.6 64.4,260.1 64.7,264.4 65,268.1 65.3,271.8 65.6,274.2 65.9,276.4 66.2,277.4 66.5,278.9 66.8,279.6 67.1,280.4 67.4,280.5 67.7,281.2 68,280.8 68.3,281.3 68.6,281.5 68.9,281.6 69.2,281.6 69.5,281.6 69.8,281.7 70.1,281.8 70.4,281.4 70.7,281.7 71,281.8 71.3,281.8 71.6,281.5 71.9,281.8 72.2,281.8 72.5,281.7 72.8,281.7 73.1,281.6 73.4,281.7 73.7,281.7 74,281.4 74.3,281.8 74.6,282 74.9,281.9 75.2,281.8 75.5,281.6 75.8,281.8 76.1,281.7 76.4,281.7 76.7,281.9 77,281.5 77.3,281.9 77.6,281.4 77.9,281.8 78.2,281.7 78.5,281.6 78.8,281.8 79.1,281.7 79.4,281.8 79.7,282 80,281.6 80.3,281.4 80.6,281.6 80.9,281.8 81.2,281.5 81.5,281.5 81.8,282 82.1,281.8 82.4,281.7 82.7,282 83,281.6 83.3,281.8 83.6,281.5 83.9,281.7 84.2,281.9 84.5,281.9 84.8,281.9 85.1,281.6 85.4,281.7 85.7,281.5 86,281.4 86.3,281.6 86.6,281.7 86.9,281.7 87.2,281.5 87.5,281.4 87.8,280.8 88.1,280.3 88.4,279.9 88.7,279 89,277.9 89.3,276.6 89.6,275 89.9,272.8 90.2,270.3 90.5,267.9 90.8,265.1 91.1,261.7 91.4,258.4 91.7,255.8 92,254.7 92.3,254.5 92.6,257 92.9,259.7 93.2,262.6 93.5,265.9 93.8,268.3 94.1,271.1 94.4,273.6 94.7,275.3 95,277.4 95.3,278.4 95.6,279.3 95.9,279.9 96.2,280.8 96.5,281 96.8,281.4 97.1,281.5 97.4,281.7 97.7,281.9 98,281.8 98.3,281.5 98.6,281.7 98.9,281.5 99.2,281.5 99.5,281.8 99.8,281.9 100.1,281.6 100.4,281.7 100.7,281.7 101,281.9 101.3,281.8 101.6,281.9 101.9,282 102.2,281.8 102.5,282 102.8,282.1 103.1,281.6 103.4,282.1 103.7,282 104,281.7 104.3,281.8 104.6,282 104.9,282.1 105.2,281.8 105.5,281.9 105.8,282.1 106.1,282.1" fill="none" stroke="#e3303a" stroke-width="1.1" stroke-linejoin="round"/>
<path d="M18.8,278.9 19.1,279.1 19.4,279.1 19.7,278.7 20,278.7 20.3,278.9 20.6,278.8 20.9,279.1 21.2,279.1 21.5,279 21.8,279 22.1,279 22.4,278.7 22.7,278.9 23,278.7 23.3,279.1 23.6,278.4 23.9,278.7 24.2,278 24.5,278.1 24.8,277.5 25.1,277.1 25.4,276.9 25.7,276 26,275.8 26.3,276.2 26.6,276 26.9,276 27.2,277 27.5,277.4 27.8,277.3 28.1,277.9 28.4,278 28.7,278.4 29,278.7 29.3,278.4 29.6,278.7 29.9,278.3 30.2,278.2 30.5,278.3 30.8,277.7 31.1,277.4 31.4,277 31.7,276.4 32,275.7 32.3,274.9 32.6,274.8 32.9,274.4 33.2,274 33.5,273.6 33.8,273.3 34.1,273.2 34.4,273.5 34.7,273.7 35,273.5 35.3,273.8 35.6,274.1 35.9,274.4 36.2,274.8 36.5,274.8 36.8,274.6 37.1,275.1 37.4,274.8 37.7,274.7 38,274 38.3,273.4 38.6,272.3 38.9,270.9 39.2,268.5 39.5,266.2 39.8,262.9 40.1,259.6 40.4,255.1 40.7,250.8 41,246.1 41.3,241.3 41.6,235.7 41.9,230.7 42.2,225.5 42.5,221.5 42.8,220 43.1,221.9 43.4,225.7 43.7,231 44,235.8 44.3,241.5 44.6,246.1 44.9,250.8 45.2,255.6 45.5,259.9 45.8,263 46.1,266.4 46.4,269.4 46.7,271.4 47,273.1 47.3,274.4 47.6,275.5 47.9,276.7 48.2,277.6 48.5,278 48.8,278 49.1,277.9 49.4,278.3 49.7,278.7 50,278.8 50.3,278.7 50.6,278.5 50.9,278.7 51.2,278.7 51.5,278.8 51.8,278.6 52.1,279 52.4,279 52.7,278.5 53,278.6 53.3,279 53.6,278.6 53.9,279 54.2,278.7 54.5,278.8 54.8,278.8 55.1,278.5 55.4,278.5 55.7,278.4 56,278.6 56.3,278.4 56.6,277.9 56.9,278 57.2,277.3 57.5,276.5 57.8,275.7 58.1,274.8 58.4,272.8 58.7,270.7 59,268.1 59.3,264.8 59.6,260.8 59.9,256.1 60.2,251.2 60.5,246.1 60.8,240.4 61.1,234.5 61.4,228.5 61.7,223.3 62,220.5 62.3,221 62.6,224.7 62.9,230.7 63.2,236.6 63.5,242.3 63.8,247.9 64.1,253.2 64.4,257.7 64.7,262.2 65,265.7 65.3,268.7 65.6,271.4 65.9,273.4 66.2,275.3 66.5,276.3 66.8,277.1 67.1,277.7 67.4,277.8 67.7,278.3 68,278.6 68.3,278.6 68.6,278.6 68.9,278.7 69.2,278.7 69.5,279 69.8,278.7 70.1,278.7 70.4,278.8 70.7,279.1 71,279.1 71.3,279.1 71.6,279.2 71.9,278.9 72.2,278.7 72.5,279 72.8,279 73.1,278.8 73.4,279.1 73.7,279 74,278.9 74.3,279 74.6,279.3 74.9,278.8 75.2,279 75.5,279 75.8,278.9 76.1,279.1 76.4,278.9 76.7,279.4 77,279.1 77.3,279.2 77.6,278.9 77.9,279.1 78.2,279.2 78.5,279.3 78.8,279 79.1,279.1 79.4,279.3 79.7,279.3 80,279 80.3,279.2 80.6,279.3 80.9,279.1 81.2,279.2 81.5,279.2 81.8,279.4 82.1,279.2 82.4,279.2 82.7,279 83,279.3 83.3,279 83.6,279.1 83.9,279 84.2,279 84.5,278.9 84.8,278.9 85.1,279.1 85.4,278.9 85.7,278.8 86,279.2 86.3,278.9 86.6,279.2 86.9,278.9 87.2,278.7 87.5,278.8 87.8,278.6 88.1,277.8 88.4,277.1 88.7,276.6 89,275.7 89.3,274.2 89.6,272.5 89.9,270.2 90.2,267.9 90.5,264.9 90.8,262.1 91.1,259.1 91.4,256 91.7,253.4 92,252.1 92.3,252 92.6,254.1 92.9,257 93.2,260.4 93.5,263.2 93.8,265.8 94.1,268.9 94.4,271.2 94.7,273.2 95,274.5 95.3,276.1 95.6,276.8 95.9,277.4 96.2,278.3 96.5,278.7 96.8,278.5 97.1,279.1 97.4,278.7 97.7,278.9 98,278.8 98.3,278.9 98.6,278.9 98.9,279.3 99.2,279 99.5,279 99.8,279 100.1,279.1 100.4,279.4 100.7,279.3 101,279 101.3,279.3 101.6,279.3 101.9,279.2 102.2,279.3 102.5,279.3 102.8,279.4 103.1,279.3 103.4,279.3 103.7,279.2 104,279.4 104.3,279.2 104.6,279.2 104.9,279.3 105.2,279.4 105.5,279.2 105.8,279.5 106.1,279.3" fill="none" stroke="#111" stroke-width="1" stroke-linejoin="round"/>
<line x1="68.2" y1="226" x2="82.1" y2="226" stroke="#e3303a" stroke-width="1.2"/>
<line x1="68.2" y1="235.3" x2="82.1" y2="235.3" stroke="#111" stroke-width="1.2"/>
<text x="83.8" y="228.4" font-size="6.8" fill="#1a1a1a" stroke="#1a1a1a" stroke-width="0.15">WS<tspan font-size="4.4" dy="1.2">2</tspan></text>
<text x="83.8" y="237.7" font-size="6.8" fill="#1a1a1a" stroke="#1a1a1a" stroke-width="0.15">Het</text>
<text x="87.9" y="249.3" font-size="6.4" fill="#1a1a1a" stroke="#1a1a1a" stroke-width="0.15">SiO<tspan font-size="4.4" dy="1.2">2</tspan></text>
<text x="32" y="228.5" font-size="6.8" fill="#111" stroke="#111" stroke-width="0.15">E<tspan font-size="3.6" dy="-2.6">1</tspan><tspan font-size="3.6" dx="-2" dy="3.8">2g</tspan></text>
<text x="52.8" y="228.5" font-size="6.8" fill="#111" stroke="#111" stroke-width="0.15">A<tspan font-size="3.6" dy="-2.6">1</tspan><tspan font-size="3.6" dx="-2" dy="3.8">g</tspan></text>
<text x="34.1" y="302.2" font-size="7" font-weight="bold" fill="#111" textLength="61.7" lengthAdjust="spacingAndGlyphs">Wavenumber (cm<tspan font-size="4.6" dy="-2.6">-1</tspan><tspan dy="2.6">)</tspan></text>
</g>
<svg x="26.5" y="96.8" width="83.4" height="79.6" viewBox="0 0 83.4 79.6" overflow="hidden">
<defs><linearGradient id="mbl" x1="0" y1="0" x2="1" y2="0.4"><stop offset="0" stop-color="#46a4e6"/><stop offset="0.5" stop-color="#3a86e0"/><stop offset="1" stop-color="#4a7ee0"/></linearGradient><linearGradient id="mcy" x1="0" y1="0" x2="1" y2="0"><stop offset="0" stop-color="#38b8e0" stop-opacity="0.2"/><stop offset="0.4" stop-color="#40d8d0"/><stop offset="0.7" stop-color="#c8f6ee"/><stop offset="1" stop-color="#fafffc"/></linearGradient></defs>
<rect width="83.4" height="79.6" fill="#ab9bda"/>
<g filter="url(#bl1)">
<polygon points="-3,25 14,19.8 34,18.4 50,14.5 57,16.5 70,31 86,46 86,52 60,57 45,59.8 30,62.5 14,63.5 -3,67" fill="url(#mbl)"/>
<polygon points="38,48 52,38 57,17 70,31 86,45 86,50 60,56" fill="#3c72d8" opacity="0.7"/>
<polygon points="-3,52 8,56 14,63.5 -3,67" fill="#40c4c0" opacity="0.75"/>
<polygon points="-3,22 14,19.8 30,19 20,35 8,45 -3,50" fill="#52b4ec" opacity="0.6"/>
<polygon points="40,59 55,53 70,46 86,39 86,58 70,56 54,60" fill="url(#mcy)"/>
<polygon points="57,-3 57,16.5 70,31 86,46 86,-3" fill="#b4a2dc"/>
<polygon points="-3,67 14,63.5 30,62.5 45,60.5 60,58.5 86,59 86,83 -3,83" fill="#a897d8"/>
<polygon points="40,83 46,68 60,64 74,70 86,80 86,83" fill="#b2a4e2"/>
</g>
<g fill="none" stroke-width="0.7" stroke-dasharray="1.4,0.9">
<path d="M3,21.5 Q20,17 34,17 L50,13 L57,15.5 L58,20" stroke="#e07482"/>
<path d="M10,31 L18,38 L30,42 L34,48 L25,51 L20,55 M38,40 L44,49 L50,52" stroke="#d06e82"/>
<path d="M45.5,59.3 L62.4,56.4 L70,62 L82,79" stroke="#e2b070"/>
<path d="M8.8,64.9 L10,72 L14,79" stroke="#e0a080"/>
</g>
<path d="M47,36 L46,48 L50,58 L47,68 L51,75" fill="none" stroke="#d84058" stroke-width="0.6"/>
<text x="5" y="11.4" font-size="6.6" fill="#fff" textLength="17.4" lengthAdjust="spacingAndGlyphs">10μm</text>
<line x1="2.8" y1="14.4" x2="22.4" y2="14.4" stroke="#fff" stroke-width="1.1"/>
<text x="27.8" y="11.2" font-size="8.4" fill="#2030d8" textLength="21.4" lengthAdjust="spacingAndGlyphs">PVSK</text>
<line x1="38.5" y1="12.5" x2="40.5" y2="24" stroke="#2030d8" stroke-width="0.6"/>
<polygon points="40.6,26.5 39.2,23 42,22.7" fill="#2030d8"/>
<text x="65.5" y="22.6" font-size="7.6" fill="#111" textLength="13" lengthAdjust="spacingAndGlyphs">het</text>
<line x1="64" y1="24.5" x2="43" y2="33" stroke="#111" stroke-width="0.6"/>
<polygon points="40.5,34 44,31 44.8,33.6" fill="#111"/>
<text x="16.4" y="76.8" font-size="8.4" fill="#e8203c" textLength="16" lengthAdjust="spacingAndGlyphs">WS</text>
<text x="32.6" y="78.4" font-size="5" fill="#e8203c">2</text>
<line x1="21" y1="67.5" x2="17" y2="55" stroke="#e8203c" stroke-width="0.6"/>
<polygon points="16.3,52.5 15.6,56 18.2,55.4" fill="#e8203c"/>
</svg>
<text class="sf" x="238.6" y="12.5" font-size="15.8" fill="#111" stroke="#111" stroke-width="0.25">(b)</text>
<defs><radialGradient id="s_red" cx="0.4" cy="0.36" r="0.62"><stop offset="0" stop-color="#e0a0a2"/><stop offset="0.5" stop-color="#a23438"/><stop offset="1" stop-color="#561618"/></radialGradient><radialGradient id="d_red" cx="0.4" cy="0.36" r="0.62"><stop offset="0" stop-color="#be8889"/><stop offset="0.5" stop-color="#81292c"/><stop offset="1" stop-color="#441113"/></radialGradient><radialGradient id="s_maroon" cx="0.4" cy="0.36" r="0.62"><stop offset="0" stop-color="#d09a96"/><stop offset="0.5" stop-color="#8a3a38"/><stop offset="1" stop-color="#4c1c1a"/></radialGradient><radialGradient id="d_maroon" cx="0.4" cy="0.36" r="0.62"><stop offset="0" stop-color="#b0827f"/><stop offset="0.5" stop-color="#6e2e2c"/><stop offset="1" stop-color="#3c1614"/></radialGradient><radialGradient id="s_orange" cx="0.4" cy="0.36" r="0.62"><stop offset="0" stop-color="#f4b07a"/><stop offset="0.5" stop-color="#d2622c"/><stop offset="1" stop-color="#84320e"/></radialGradient><radialGradient id="d_orange" cx="0.4" cy="0.36" r="0.62"><stop offset="0" stop-color="#cf9567"/><stop offset="0.5" stop-color="#a84e23"/><stop offset="1" stop-color="#69280b"/></radialGradient><radialGradient id="s_green" cx="0.4" cy="0.36" r="0.62"><stop offset="0" stop-color="#c8f0c8"/><stop offset="0.5" stop-color="#38a046"/><stop offset="1" stop-color="#125a20"/></radialGradient><radialGradient id="d_green" cx="0.4" cy="0.36" r="0.62"><stop offset="0" stop-color="#aaccaa"/><stop offset="0.5" stop-color="#2c8038"/><stop offset="1" stop-color="#0e4819"/></radialGradient><radialGradient id="s_blue" cx="0.4" cy="0.36" r="0.62"><stop offset="0" stop-color="#9090d0"/><stop offset="0.5" stop-color="#2a2a72"/><stop offset="1" stop-color="#0e0e3a"/></radialGradient><radialGradient id="d_blue" cx="0.4" cy="0.36" r="0.62"><stop offset="0" stop-color="#7a7ab0"/><stop offset="0.5" stop-color="#21215b"/><stop offset="1" stop-color="#0b0b2e"/></radialGradient></defs>
<g><g fill="url(#s_blue)"><circle cx="287.3" cy="79" r="1.9"/><circle cx="284.1" cy="80.8" r="1.9"/><circle cx="290.5" cy="80.8" r="1.9"/><circle cx="280.9" cy="82.6" r="1.9"/><circle cx="287.3" cy="82.6" r="1.9"/><circle cx="293.7" cy="82.6" r="1.9"/><circle cx="277.8" cy="84.4" r="1.9"/><circle cx="284.1" cy="84.4" r="1.9"/><circle cx="290.5" cy="84.4" r="1.9"/><circle cx="296.9" cy="84.4" r="1.9"/><circle cx="274.6" cy="86.2" r="1.9"/><circle cx="280.9" cy="86.2" r="1.9"/><circle cx="287.3" cy="86.2" r="1.9"/><circle cx="293.7" cy="86.2" r="1.9"/><circle cx="300" cy="86.2" r="1.9"/><circle cx="271.4" cy="88" r="1.9"/><circle cx="277.8" cy="88" r="1.9"/><circle cx="284.1" cy="88" r="1.9"/><circle cx="290.5" cy="88" r="1.9"/><circle cx="296.9" cy="88" r="1.9"/><circle cx="303.2" cy="88" r="1.9"/><circle cx="268.2" cy="89.8" r="1.9"/><circle cx="274.6" cy="89.8" r="1.9"/><circle cx="280.9" cy="89.8" r="1.9"/><circle cx="287.3" cy="89.8" r="1.9"/><circle cx="293.7" cy="89.8" r="1.9"/><circle cx="300" cy="89.8" r="1.9"/><circle cx="306.4" cy="89.8" r="1.9"/><circle cx="265" cy="91.6" r="1.9"/><circle cx="271.4" cy="91.6" r="1.9"/><circle cx="277.8" cy="91.6" r="1.9"/><circle cx="284.1" cy="91.6" r="1.9"/><circle cx="290.5" cy="91.6" r="1.9"/><circle cx="296.9" cy="91.6" r="1.9"/><circle cx="303.2" cy="91.6" r="1.9"/><circle cx="309.6" cy="91.6" r="1.9"/><circle cx="261.8" cy="93.4" r="1.9"/><circle cx="268.2" cy="93.4" r="1.9"/><circle cx="274.6" cy="93.4" r="1.9"/><circle cx="280.9" cy="93.4" r="1.9"/><circle cx="287.3" cy="93.4" r="1.9"/><circle cx="293.7" cy="93.4" r="1.9"/><circle cx="300" cy="93.4" r="1.9"/><circle cx="306.4" cy="93.4" r="1.9"/><circle cx="312.8" cy="93.4" r="1.9"/><circle cx="258.7" cy="95.2" r="1.9"/><circle cx="265" cy="95.2" r="1.9"/><circle cx="271.4" cy="95.2" r="1.9"/><circle cx="277.8" cy="95.2" r="1.9"/><circle cx="284.1" cy="95.2" r="1.9"/><circle cx="290.5" cy="95.2" r="1.9"/><circle cx="296.9" cy="95.2" r="1.9"/><circle cx="303.2" cy="95.2" r="1.9"/><circle cx="309.6" cy="95.2" r="1.9"/><circle cx="315.9" cy="95.2" r="1.9"/><circle cx="261.8" cy="97" r="1.9"/><circle cx="268.2" cy="97" r="1.9"/><circle cx="274.6" cy="97" r="1.9"/><circle cx="280.9" cy="97" r="1.9"/><circle cx="287.3" cy="97" r="1.9"/><circle cx="293.7" cy="97" r="1.9"/><circle cx="300" cy="97" r="1.9"/><circle cx="306.4" cy="97" r="1.9"/><circle cx="312.8" cy="97" r="1.9"/><circle cx="265" cy="98.8" r="1.9"/><circle cx="271.4" cy="98.8" r="1.9"/><circle cx="277.8" cy="98.8" r="1.9"/><circle cx="284.1" cy="98.8" r="1.9"/><circle cx="290.5" cy="98.8" r="1.9"/><circle cx="296.9" cy="98.8" r="1.9"/><circle cx="303.2" cy="98.8" r="1.9"/><circle cx="309.6" cy="98.8" r="1.9"/><circle cx="268.2" cy="100.6" r="1.9"/><circle cx="274.6" cy="100.6" r="1.9"/><circle cx="280.9" cy="100.6" r="1.9"/><circle cx="287.3" cy="100.6" r="1.9"/><circle cx="293.7" cy="100.6" r="1.9"/><circle cx="300" cy="100.6" r="1.9"/><circle cx="306.4" cy="100.6" r="1.9"/><circle cx="271.4" cy="102.4" r="1.9"/><circle cx="277.8" cy="102.4" r="1.9"/><circle cx="284.1" cy="102.4" r="1.9"/><circle cx="290.5" cy="102.4" r="1.9"/><circle cx="296.9" cy="102.4" r="1.9"/><circle cx="303.2" cy="102.4" r="1.9"/><circle cx="274.6" cy="104.2" r="1.9"/><circle cx="280.9" cy="104.2" r="1.9"/><circle cx="287.3" cy="104.2" r="1.9"/><circle cx="293.7" cy="104.2" r="1.9"/><circle cx="300" cy="104.2" r="1.9"/><circle cx="277.8" cy="106" r="1.9"/><circle cx="284.1" cy="106" r="1.9"/><circle cx="290.5" cy="106" r="1.9"/><circle cx="296.9" cy="106" r="1.9"/><circle cx="280.9" cy="107.8" r="1.9"/><circle cx="287.3" cy="107.8" r="1.9"/><circle cx="293.7" cy="107.8" r="1.9"/><circle cx="284.1" cy="109.6" r="1.9"/><circle cx="290.5" cy="109.6" r="1.9"/><circle cx="287.3" cy="111.5" r="1.9"/></g></g>
<g><g fill="url(#s_blue)"><circle cx="287.3" cy="65.8" r="1.9"/><circle cx="284.1" cy="67.6" r="1.9"/><circle cx="290.5" cy="67.6" r="1.9"/><circle cx="280.9" cy="69.4" r="1.9"/><circle cx="287.3" cy="69.4" r="1.9"/><circle cx="293.7" cy="69.4" r="1.9"/><circle cx="277.8" cy="71.2" r="1.9"/><circle cx="284.1" cy="71.2" r="1.9"/><circle cx="290.5" cy="71.2" r="1.9"/><circle cx="296.9" cy="71.2" r="1.9"/><circle cx="274.6" cy="73" r="1.9"/><circle cx="280.9" cy="73" r="1.9"/><circle cx="287.3" cy="73" r="1.9"/><circle cx="293.7" cy="73" r="1.9"/><circle cx="300" cy="73" r="1.9"/><circle cx="271.4" cy="74.8" r="1.9"/><circle cx="277.8" cy="74.8" r="1.9"/><circle cx="284.1" cy="74.8" r="1.9"/><circle cx="290.5" cy="74.8" r="1.9"/><circle cx="296.9" cy="74.8" r="1.9"/><circle cx="303.2" cy="74.8" r="1.9"/><circle cx="268.2" cy="76.6" r="1.9"/><circle cx="274.6" cy="76.6" r="1.9"/><circle cx="280.9" cy="76.6" r="1.9"/><circle cx="287.3" cy="76.6" r="1.9"/><circle cx="293.7" cy="76.6" r="1.9"/><circle cx="300" cy="76.6" r="1.9"/><circle cx="306.4" cy="76.6" r="1.9"/><circle cx="265" cy="78.4" r="1.9"/><circle cx="271.4" cy="78.4" r="1.9"/><circle cx="277.8" cy="78.4" r="1.9"/><circle cx="284.1" cy="78.4" r="1.9"/><circle cx="290.5" cy="78.4" r="1.9"/><circle cx="296.9" cy="78.4" r="1.9"/><circle cx="303.2" cy="78.4" r="1.9"/><circle cx="309.6" cy="78.4" r="1.9"/><circle cx="261.8" cy="80.2" r="1.9"/><circle cx="268.2" cy="80.2" r="1.9"/><circle cx="274.6" cy="80.2" r="1.9"/><circle cx="280.9" cy="80.2" r="1.9"/><circle cx="287.3" cy="80.2" r="1.9"/><circle cx="293.7" cy="80.2" r="1.9"/><circle cx="300" cy="80.2" r="1.9"/><circle cx="306.4" cy="80.2" r="1.9"/><circle cx="312.8" cy="80.2" r="1.9"/><circle cx="258.7" cy="82" r="1.9"/><circle cx="265" cy="82" r="1.9"/><circle cx="271.4" cy="82" r="1.9"/><circle cx="277.8" cy="82" r="1.9"/><circle cx="284.1" cy="82" r="1.9"/><circle cx="290.5" cy="82" r="1.9"/><circle cx="296.9" cy="82" r="1.9"/><circle cx="303.2" cy="82" r="1.9"/><circle cx="309.6" cy="82" r="1.9"/><circle cx="315.9" cy="82" r="1.9"/><circle cx="261.8" cy="83.8" r="1.9"/><circle cx="268.2" cy="83.8" r="1.9"/><circle cx="274.6" cy="83.8" r="1.9"/><circle cx="280.9" cy="83.8" r="1.9"/><circle cx="287.3" cy="83.8" r="1.9"/><circle cx="293.7" cy="83.8" r="1.9"/><circle cx="300" cy="83.8" r="1.9"/><circle cx="306.4" cy="83.8" r="1.9"/><circle cx="312.8" cy="83.8" r="1.9"/><circle cx="265" cy="85.6" r="1.9"/><circle cx="271.4" cy="85.6" r="1.9"/><circle cx="277.8" cy="85.6" r="1.9"/><circle cx="284.1" cy="85.6" r="1.9"/><circle cx="290.5" cy="85.6" r="1.9"/><circle cx="296.9" cy="85.6" r="1.9"/><circle cx="303.2" cy="85.6" r="1.9"/><circle cx="309.6" cy="85.6" r="1.9"/><circle cx="268.2" cy="87.4" r="1.9"/><circle cx="274.6" cy="87.4" r="1.9"/><circle cx="280.9" cy="87.4" r="1.9"/><circle cx="287.3" cy="87.4" r="1.9"/><circle cx="293.7" cy="87.4" r="1.9"/><circle cx="300" cy="87.4" r="1.9"/><circle cx="306.4" cy="87.4" r="1.9"/><circle cx="271.4" cy="89.2" r="1.9"/><circle cx="277.8" cy="89.2" r="1.9"/><circle cx="284.1" cy="89.2" r="1.9"/><circle cx="290.5" cy="89.2" r="1.9"/><circle cx="296.9" cy="89.2" r="1.9"/><circle cx="303.2" cy="89.2" r="1.9"/><circle cx="274.6" cy="91" r="1.9"/><circle cx="280.9" cy="91" r="1.9"/><circle cx="287.3" cy="91" r="1.9"/><circle cx="293.7" cy="91" r="1.9"/><circle cx="300" cy="91" r="1.9"/><circle cx="277.8" cy="92.8" r="1.9"/><circle cx="284.1" cy="92.8" r="1.9"/><circle cx="290.5" cy="92.8" r="1.9"/><circle cx="296.9" cy="92.8" r="1.9"/><circle cx="280.9" cy="94.6" r="1.9"/><circle cx="287.3" cy="94.6" r="1.9"/><circle cx="293.7" cy="94.6" r="1.9"/><circle cx="284.1" cy="96.4" r="1.9"/><circle cx="290.5" cy="96.4" r="1.9"/><circle cx="287.3" cy="98.2" r="1.9"/></g></g>
<g><g fill="url(#d_red)"><circle cx="287.3" cy="49.6" r="1.9"/><circle cx="284.1" cy="51.4" r="1.9"/><circle cx="290.5" cy="51.4" r="1.9"/><circle cx="280.9" cy="53.2" r="1.9"/><circle cx="287.3" cy="53.2" r="1.9"/><circle cx="293.7" cy="53.2" r="1.9"/><circle cx="277.8" cy="55" r="1.9"/><circle cx="284.1" cy="55" r="1.9"/><circle cx="290.5" cy="55" r="1.9"/><circle cx="296.9" cy="55" r="1.9"/><circle cx="274.6" cy="56.8" r="1.9"/><circle cx="280.9" cy="56.8" r="1.9"/><circle cx="287.3" cy="56.8" r="1.9"/><circle cx="293.7" cy="56.8" r="1.9"/><circle cx="300" cy="56.8" r="1.9"/><circle cx="271.4" cy="58.6" r="1.9"/><circle cx="277.8" cy="58.6" r="1.9"/><circle cx="284.1" cy="58.6" r="1.9"/><circle cx="290.5" cy="58.6" r="1.9"/><circle cx="296.9" cy="58.6" r="1.9"/><circle cx="303.2" cy="58.6" r="1.9"/><circle cx="268.2" cy="60.4" r="1.9"/><circle cx="274.6" cy="60.4" r="1.9"/><circle cx="280.9" cy="60.4" r="1.9"/><circle cx="287.3" cy="60.4" r="1.9"/><circle cx="293.7" cy="60.4" r="1.9"/><circle cx="300" cy="60.4" r="1.9"/><circle cx="306.4" cy="60.4" r="1.9"/><circle cx="265" cy="62.2" r="1.9"/><circle cx="271.4" cy="62.2" r="1.9"/><circle cx="277.8" cy="62.2" r="1.9"/><circle cx="284.1" cy="62.2" r="1.9"/><circle cx="290.5" cy="62.2" r="1.9"/><circle cx="296.9" cy="62.2" r="1.9"/><circle cx="303.2" cy="62.2" r="1.9"/><circle cx="309.6" cy="62.2" r="1.9"/><circle cx="261.8" cy="64" r="1.9"/><circle cx="268.2" cy="64" r="1.9"/><circle cx="274.6" cy="64" r="1.9"/><circle cx="280.9" cy="64" r="1.9"/><circle cx="287.3" cy="64" r="1.9"/><circle cx="293.7" cy="64" r="1.9"/><circle cx="300" cy="64" r="1.9"/><circle cx="306.4" cy="64" r="1.9"/><circle cx="312.8" cy="64" r="1.9"/><circle cx="258.7" cy="65.8" r="1.9"/><circle cx="265" cy="65.8" r="1.9"/><circle cx="271.4" cy="65.8" r="1.9"/><circle cx="277.8" cy="65.8" r="1.9"/><circle cx="284.1" cy="65.8" r="1.9"/><circle cx="290.5" cy="65.8" r="1.9"/><circle cx="296.9" cy="65.8" r="1.9"/><circle cx="303.2" cy="65.8" r="1.9"/><circle cx="309.6" cy="65.8" r="1.9"/><circle cx="315.9" cy="65.8" r="1.9"/><circle cx="261.8" cy="67.6" r="1.9"/><circle cx="268.2" cy="67.6" r="1.9"/><circle cx="274.6" cy="67.6" r="1.9"/><circle cx="280.9" cy="67.6" r="1.9"/><circle cx="287.3" cy="67.6" r="1.9"/><circle cx="293.7" cy="67.6" r="1.9"/><circle cx="300" cy="67.6" r="1.9"/><circle cx="306.4" cy="67.6" r="1.9"/><circle cx="312.8" cy="67.6" r="1.9"/><circle cx="265" cy="69.4" r="1.9"/><circle cx="271.4" cy="69.4" r="1.9"/><circle cx="277.8" cy="69.4" r="1.9"/><circle cx="284.1" cy="69.4" r="1.9"/><circle cx="290.5" cy="69.4" r="1.9"/><circle cx="296.9" cy="69.4" r="1.9"/><circle cx="303.2" cy="69.4" r="1.9"/><circle cx="309.6" cy="69.4" r="1.9"/><circle cx="268.2" cy="71.2" r="1.9"/><circle cx="274.6" cy="71.2" r="1.9"/><circle cx="280.9" cy="71.2" r="1.9"/><circle cx="287.3" cy="71.2" r="1.9"/><circle cx="293.7" cy="71.2" r="1.9"/><circle cx="300" cy="71.2" r="1.9"/><circle cx="306.4" cy="71.2" r="1.9"/><circle cx="271.4" cy="73" r="1.9"/><circle cx="277.8" cy="73" r="1.9"/><circle cx="284.1" cy="73" r="1.9"/><circle cx="290.5" cy="73" r="1.9"/><circle cx="296.9" cy="73" r="1.9"/><circle cx="303.2" cy="73" r="1.9"/><circle cx="274.6" cy="74.8" r="1.9"/><circle cx="280.9" cy="74.8" r="1.9"/><circle cx="287.3" cy="74.8" r="1.9"/><circle cx="293.7" cy="74.8" r="1.9"/><circle cx="300" cy="74.8" r="1.9"/><circle cx="277.8" cy="76.6" r="1.9"/><circle cx="284.1" cy="76.6" r="1.9"/><circle cx="290.5" cy="76.6" r="1.9"/><circle cx="296.9" cy="76.6" r="1.9"/><circle cx="280.9" cy="78.4" r="1.9"/><circle cx="287.3" cy="78.4" r="1.9"/><circle cx="293.7" cy="78.4" r="1.9"/><circle cx="284.1" cy="80.2" r="1.9"/><circle cx="290.5" cy="80.2" r="1.9"/><circle cx="287.3" cy="82" r="1.9"/></g><g fill="url(#d_red)"><circle cx="287.3" cy="46.6" r="1.9"/><circle cx="284.1" cy="48.4" r="1.9"/><circle cx="290.5" cy="48.4" r="1.9"/><circle cx="280.9" cy="50.2" r="1.9"/><circle cx="287.3" cy="50.2" r="1.9"/><circle cx="293.7" cy="50.2" r="1.9"/><circle cx="277.8" cy="52" r="1.9"/><circle cx="284.1" cy="52" r="1.9"/><circle cx="290.5" cy="52" r="1.9"/><circle cx="296.9" cy="52" r="1.9"/><circle cx="274.6" cy="53.8" r="1.9"/><circle cx="280.9" cy="53.8" r="1.9"/><circle cx="287.3" cy="53.8" r="1.9"/><circle cx="293.7" cy="53.8" r="1.9"/><circle cx="300" cy="53.8" r="1.9"/><circle cx="271.4" cy="55.6" r="1.9"/><circle cx="277.8" cy="55.6" r="1.9"/><circle cx="284.1" cy="55.6" r="1.9"/><circle cx="290.5" cy="55.6" r="1.9"/><circle cx="296.9" cy="55.6" r="1.9"/><circle cx="303.2" cy="55.6" r="1.9"/><circle cx="268.2" cy="57.4" r="1.9"/><circle cx="274.6" cy="57.4" r="1.9"/><circle cx="280.9" cy="57.4" r="1.9"/><circle cx="287.3" cy="57.4" r="1.9"/><circle cx="293.7" cy="57.4" r="1.9"/><circle cx="300" cy="57.4" r="1.9"/><circle cx="306.4" cy="57.4" r="1.9"/><circle cx="265" cy="59.2" r="1.9"/><circle cx="271.4" cy="59.2" r="1.9"/><circle cx="277.8" cy="59.2" r="1.9"/><circle cx="284.1" cy="59.2" r="1.9"/><circle cx="290.5" cy="59.2" r="1.9"/><circle cx="296.9" cy="59.2" r="1.9"/><circle cx="303.2" cy="59.2" r="1.9"/><circle cx="309.6" cy="59.2" r="1.9"/><circle cx="261.8" cy="61" r="1.9"/><circle cx="268.2" cy="61" r="1.9"/><circle cx="274.6" cy="61" r="1.9"/><circle cx="280.9" cy="61" r="1.9"/><circle cx="287.3" cy="61" r="1.9"/><circle cx="293.7" cy="61" r="1.9"/><circle cx="300" cy="61" r="1.9"/><circle cx="306.4" cy="61" r="1.9"/><circle cx="312.8" cy="61" r="1.9"/><circle cx="265" cy="62.8" r="1.9"/><circle cx="271.4" cy="62.8" r="1.9"/><circle cx="277.8" cy="62.8" r="1.9"/><circle cx="284.1" cy="62.8" r="1.9"/><circle cx="290.5" cy="62.8" r="1.9"/><circle cx="296.9" cy="62.8" r="1.9"/><circle cx="303.2" cy="62.8" r="1.9"/><circle cx="309.6" cy="62.8" r="1.9"/><circle cx="268.2" cy="64.6" r="1.9"/><circle cx="274.6" cy="64.6" r="1.9"/><circle cx="280.9" cy="64.6" r="1.9"/><circle cx="287.3" cy="64.6" r="1.9"/><circle cx="293.7" cy="64.6" r="1.9"/><circle cx="300" cy="64.6" r="1.9"/><circle cx="306.4" cy="64.6" r="1.9"/><circle cx="271.4" cy="66.4" r="1.9"/><circle cx="277.8" cy="66.4" r="1.9"/><circle cx="284.1" cy="66.4" r="1.9"/><circle cx="290.5" cy="66.4" r="1.9"/><circle cx="296.9" cy="66.4" r="1.9"/><circle cx="303.2" cy="66.4" r="1.9"/><circle cx="274.6" cy="68.2" r="1.9"/><circle cx="280.9" cy="68.2" r="1.9"/><circle cx="287.3" cy="68.2" r="1.9"/><circle cx="293.7" cy="68.2" r="1.9"/><circle cx="300" cy="68.2" r="1.9"/><circle cx="277.8" cy="70" r="1.9"/><circle cx="284.1" cy="70" r="1.9"/><circle cx="290.5" cy="70" r="1.9"/><circle cx="296.9" cy="70" r="1.9"/><circle cx="280.9" cy="71.8" r="1.9"/><circle cx="287.3" cy="71.8" r="1.9"/><circle cx="293.7" cy="71.8" r="1.9"/><circle cx="284.1" cy="73.6" r="1.9"/><circle cx="290.5" cy="73.6" r="1.9"/><circle cx="287.3" cy="75.4" r="1.9"/></g><g fill="url(#s_red)"><circle cx="287.3" cy="40" r="1.9"/><circle cx="284.1" cy="41.8" r="1.9"/><circle cx="290.5" cy="41.8" r="1.9"/><circle cx="280.9" cy="43.6" r="1.9"/><circle cx="287.3" cy="43.6" r="1.9"/><circle cx="293.7" cy="43.6" r="1.9"/><circle cx="277.8" cy="45.4" r="1.9"/><circle cx="284.1" cy="45.4" r="1.9"/><circle cx="290.5" cy="45.4" r="1.9"/><circle cx="296.9" cy="45.4" r="1.9"/><circle cx="274.6" cy="47.2" r="1.9"/><circle cx="280.9" cy="47.2" r="1.9"/><circle cx="287.3" cy="47.2" r="1.9"/><circle cx="293.7" cy="47.2" r="1.9"/><circle cx="300" cy="47.2" r="1.9"/><circle cx="271.4" cy="49" r="1.9"/><circle cx="277.8" cy="49" r="1.9"/><circle cx="284.1" cy="49" r="1.9"/><circle cx="290.5" cy="49" r="1.9"/><circle cx="296.9" cy="49" r="1.9"/><circle cx="303.2" cy="49" r="1.9"/><circle cx="268.2" cy="50.8" r="1.9"/><circle cx="274.6" cy="50.8" r="1.9"/><circle cx="280.9" cy="50.8" r="1.9"/><circle cx="287.3" cy="50.8" r="1.9"/><circle cx="293.7" cy="50.8" r="1.9"/><circle cx="300" cy="50.8" r="1.9"/><circle cx="306.4" cy="50.8" r="1.9"/><circle cx="265" cy="52.6" r="1.9"/><circle cx="271.4" cy="52.6" r="1.9"/><circle cx="277.8" cy="52.6" r="1.9"/><circle cx="284.1" cy="52.6" r="1.9"/><circle cx="290.5" cy="52.6" r="1.9"/><circle cx="296.9" cy="52.6" r="1.9"/><circle cx="303.2" cy="52.6" r="1.9"/><circle cx="309.6" cy="52.6" r="1.9"/><circle cx="261.8" cy="54.4" r="1.9"/><circle cx="268.2" cy="54.4" r="1.9"/><circle cx="274.6" cy="54.4" r="1.9"/><circle cx="280.9" cy="54.4" r="1.9"/><circle cx="287.3" cy="54.4" r="1.9"/><circle cx="293.7" cy="54.4" r="1.9"/><circle cx="300" cy="54.4" r="1.9"/><circle cx="306.4" cy="54.4" r="1.9"/><circle cx="312.8" cy="54.4" r="1.9"/><circle cx="258.7" cy="56.2" r="1.9"/><circle cx="265" cy="56.2" r="1.9"/><circle cx="271.4" cy="56.2" r="1.9"/><circle cx="277.8" cy="56.2" r="1.9"/><circle cx="284.1" cy="56.2" r="1.9"/><circle cx="290.5" cy="56.2" r="1.9"/><circle cx="296.9" cy="56.2" r="1.9"/><circle cx="303.2" cy="56.2" r="1.9"/><circle cx="309.6" cy="56.2" r="1.9"/><circle cx="315.9" cy="56.2" r="1.9"/><circle cx="261.8" cy="58" r="1.9"/><circle cx="268.2" cy="58" r="1.9"/><circle cx="274.6" cy="58" r="1.9"/><circle cx="280.9" cy="58" r="1.9"/><circle cx="287.3" cy="58" r="1.9"/><circle cx="293.7" cy="58" r="1.9"/><circle cx="300" cy="58" r="1.9"/><circle cx="306.4" cy="58" r="1.9"/><circle cx="312.8" cy="58" r="1.9"/><circle cx="265" cy="59.8" r="1.9"/><circle cx="271.4" cy="59.8" r="1.9"/><circle cx="277.8" cy="59.8" r="1.9"/><circle cx="284.1" cy="59.8" r="1.9"/><circle cx="290.5" cy="59.8" r="1.9"/><circle cx="296.9" cy="59.8" r="1.9"/><circle cx="303.2" cy="59.8" r="1.9"/><circle cx="309.6" cy="59.8" r="1.9"/><circle cx="268.2" cy="61.6" r="1.9"/><circle cx="274.6" cy="61.6" r="1.9"/><circle cx="280.9" cy="61.6" r="1.9"/><circle cx="287.3" cy="61.6" r="1.9"/><circle cx="293.7" cy="61.6" r="1.9"/><circle cx="300" cy="61.6" r="1.9"/><circle cx="306.4" cy="61.6" r="1.9"/><circle cx="271.4" cy="63.4" r="1.9"/><circle cx="277.8" cy="63.4" r="1.9"/><circle cx="284.1" cy="63.4" r="1.9"/><circle cx="290.5" cy="63.4" r="1.9"/><circle cx="296.9" cy="63.4" r="1.9"/><circle cx="303.2" cy="63.4" r="1.9"/><circle cx="274.6" cy="65.2" r="1.9"/><circle cx="280.9" cy="65.2" r="1.9"/><circle cx="287.3" cy="65.2" r="1.9"/><circle cx="293.7" cy="65.2" r="1.9"/><circle cx="300" cy="65.2" r="1.9"/><circle cx="277.8" cy="67" r="1.9"/><circle cx="284.1" cy="67" r="1.9"/><circle cx="290.5" cy="67" r="1.9"/><circle cx="296.9" cy="67" r="1.9"/><circle cx="280.9" cy="68.8" r="1.9"/><circle cx="287.3" cy="68.8" r="1.9"/><circle cx="293.7" cy="68.8" r="1.9"/><circle cx="284.1" cy="70.6" r="1.9"/><circle cx="290.5" cy="70.6" r="1.9"/><circle cx="287.3" cy="72.5" r="1.9"/></g></g>
<g><g fill="url(#d_red)"><circle cx="287.3" cy="23.9" r="1.9"/><circle cx="284.1" cy="25.7" r="1.9"/><circle cx="290.5" cy="25.7" r="1.9"/><circle cx="280.9" cy="27.5" r="1.9"/><circle cx="287.3" cy="27.5" r="1.9"/><circle cx="293.7" cy="27.5" r="1.9"/><circle cx="277.8" cy="29.3" r="1.9"/><circle cx="284.1" cy="29.3" r="1.9"/><circle cx="290.5" cy="29.3" r="1.9"/><circle cx="296.9" cy="29.3" r="1.9"/><circle cx="274.6" cy="31.1" r="1.9"/><circle cx="280.9" cy="31.1" r="1.9"/><circle cx="287.3" cy="31.1" r="1.9"/><circle cx="293.7" cy="31.1" r="1.9"/><circle cx="300" cy="31.1" r="1.9"/><circle cx="271.4" cy="32.9" r="1.9"/><circle cx="277.8" cy="32.9" r="1.9"/><circle cx="284.1" cy="32.9" r="1.9"/><circle cx="290.5" cy="32.9" r="1.9"/><circle cx="296.9" cy="32.9" r="1.9"/><circle cx="303.2" cy="32.9" r="1.9"/><circle cx="268.2" cy="34.7" r="1.9"/><circle cx="274.6" cy="34.7" r="1.9"/><circle cx="280.9" cy="34.7" r="1.9"/><circle cx="287.3" cy="34.7" r="1.9"/><circle cx="293.7" cy="34.7" r="1.9"/><circle cx="300" cy="34.7" r="1.9"/><circle cx="306.4" cy="34.7" r="1.9"/><circle cx="265" cy="36.5" r="1.9"/><circle cx="271.4" cy="36.5" r="1.9"/><circle cx="277.8" cy="36.5" r="1.9"/><circle cx="284.1" cy="36.5" r="1.9"/><circle cx="290.5" cy="36.5" r="1.9"/><circle cx="296.9" cy="36.5" r="1.9"/><circle cx="303.2" cy="36.5" r="1.9"/><circle cx="309.6" cy="36.5" r="1.9"/><circle cx="261.8" cy="38.3" r="1.9"/><circle cx="268.2" cy="38.3" r="1.9"/><circle cx="274.6" cy="38.3" r="1.9"/><circle cx="280.9" cy="38.3" r="1.9"/><circle cx="287.3" cy="38.3" r="1.9"/><circle cx="293.7" cy="38.3" r="1.9"/><circle cx="300" cy="38.3" r="1.9"/><circle cx="306.4" cy="38.3" r="1.9"/><circle cx="312.8" cy="38.3" r="1.9"/><circle cx="258.7" cy="40.1" r="1.9"/><circle cx="265" cy="40.1" r="1.9"/><circle cx="271.4" cy="40.1" r="1.9"/><circle cx="277.8" cy="40.1" r="1.9"/><circle cx="284.1" cy="40.1" r="1.9"/><circle cx="290.5" cy="40.1" r="1.9"/><circle cx="296.9" cy="40.1" r="1.9"/><circle cx="303.2" cy="40.1" r="1.9"/><circle cx="309.6" cy="40.1" r="1.9"/><circle cx="315.9" cy="40.1" r="1.9"/><circle cx="261.8" cy="41.9" r="1.9"/><circle cx="268.2" cy="41.9" r="1.9"/><circle cx="274.6" cy="41.9" r="1.9"/><circle cx="280.9" cy="41.9" r="1.9"/><circle cx="287.3" cy="41.9" r="1.9"/><circle cx="293.7" cy="41.9" r="1.9"/><circle cx="300" cy="41.9" r="1.9"/><circle cx="306.4" cy="41.9" r="1.9"/><circle cx="312.8" cy="41.9" r="1.9"/><circle cx="265" cy="43.7" r="1.9"/><circle cx="271.4" cy="43.7" r="1.9"/><circle cx="277.8" cy="43.7" r="1.9"/><circle cx="284.1" cy="43.7" r="1.9"/><circle cx="290.5" cy="43.7" r="1.9"/><circle cx="296.9" cy="43.7" r="1.9"/><circle cx="303.2" cy="43.7" r="1.9"/><circle cx="309.6" cy="43.7" r="1.9"/><circle cx="268.2" cy="45.5" r="1.9"/><circle cx="274.6" cy="45.5" r="1.9"/><circle cx="280.9" cy="45.5" r="1.9"/><circle cx="287.3" cy="45.5" r="1.9"/><circle cx="293.7" cy="45.5" r="1.9"/><circle cx="300" cy="45.5" r="1.9"/><circle cx="306.4" cy="45.5" r="1.9"/><circle cx="271.4" cy="47.3" r="1.9"/><circle cx="277.8" cy="47.3" r="1.9"/><circle cx="284.1" cy="47.3" r="1.9"/><circle cx="290.5" cy="47.3" r="1.9"/><circle cx="296.9" cy="47.3" r="1.9"/><circle cx="303.2" cy="47.3" r="1.9"/><circle cx="274.6" cy="49.1" r="1.9"/><circle cx="280.9" cy="49.1" r="1.9"/><circle cx="287.3" cy="49.1" r="1.9"/><circle cx="293.7" cy="49.1" r="1.9"/><circle cx="300" cy="49.1" r="1.9"/><circle cx="277.8" cy="50.9" r="1.9"/><circle cx="284.1" cy="50.9" r="1.9"/><circle cx="290.5" cy="50.9" r="1.9"/><circle cx="296.9" cy="50.9" r="1.9"/><circle cx="280.9" cy="52.7" r="1.9"/><circle cx="287.3" cy="52.7" r="1.9"/><circle cx="293.7" cy="52.7" r="1.9"/><circle cx="284.1" cy="54.5" r="1.9"/><circle cx="290.5" cy="54.5" r="1.9"/><circle cx="287.3" cy="56.4" r="1.9"/></g><g fill="url(#d_red)"><circle cx="287.3" cy="20.9" r="1.9"/><circle cx="284.1" cy="22.7" r="1.9"/><circle cx="290.5" cy="22.7" r="1.9"/><circle cx="280.9" cy="24.5" r="1.9"/><circle cx="287.3" cy="24.5" r="1.9"/><circle cx="293.7" cy="24.5" r="1.9"/><circle cx="277.8" cy="26.3" r="1.9"/><circle cx="284.1" cy="26.3" r="1.9"/><circle cx="290.5" cy="26.3" r="1.9"/><circle cx="296.9" cy="26.3" r="1.9"/><circle cx="274.6" cy="28.1" r="1.9"/><circle cx="280.9" cy="28.1" r="1.9"/><circle cx="287.3" cy="28.1" r="1.9"/><circle cx="293.7" cy="28.1" r="1.9"/><circle cx="300" cy="28.1" r="1.9"/><circle cx="271.4" cy="29.9" r="1.9"/><circle cx="277.8" cy="29.9" r="1.9"/><circle cx="284.1" cy="29.9" r="1.9"/><circle cx="290.5" cy="29.9" r="1.9"/><circle cx="296.9" cy="29.9" r="1.9"/><circle cx="303.2" cy="29.9" r="1.9"/><circle cx="268.2" cy="31.7" r="1.9"/><circle cx="274.6" cy="31.7" r="1.9"/><circle cx="280.9" cy="31.7" r="1.9"/><circle cx="287.3" cy="31.7" r="1.9"/><circle cx="293.7" cy="31.7" r="1.9"/><circle cx="300" cy="31.7" r="1.9"/><circle cx="306.4" cy="31.7" r="1.9"/><circle cx="265" cy="33.5" r="1.9"/><circle cx="271.4" cy="33.5" r="1.9"/><circle cx="277.8" cy="33.5" r="1.9"/><circle cx="284.1" cy="33.5" r="1.9"/><circle cx="290.5" cy="33.5" r="1.9"/><circle cx="296.9" cy="33.5" r="1.9"/><circle cx="303.2" cy="33.5" r="1.9"/><circle cx="309.6" cy="33.5" r="1.9"/><circle cx="261.8" cy="35.3" r="1.9"/><circle cx="268.2" cy="35.3" r="1.9"/><circle cx="274.6" cy="35.3" r="1.9"/><circle cx="280.9" cy="35.3" r="1.9"/><circle cx="287.3" cy="35.3" r="1.9"/><circle cx="293.7" cy="35.3" r="1.9"/><circle cx="300" cy="35.3" r="1.9"/><circle cx="306.4" cy="35.3" r="1.9"/><circle cx="312.8" cy="35.3" r="1.9"/><circle cx="265" cy="37.1" r="1.9"/><circle cx="271.4" cy="37.1" r="1.9"/><circle cx="277.8" cy="37.1" r="1.9"/><circle cx="284.1" cy="37.1" r="1.9"/><circle cx="290.5" cy="37.1" r="1.9"/><circle cx="296.9" cy="37.1" r="1.9"/><circle cx="303.2" cy="37.1" r="1.9"/><circle cx="309.6" cy="37.1" r="1.9"/><circle cx="268.2" cy="38.9" r="1.9"/><circle cx="274.6" cy="38.9" r="1.9"/><circle cx="280.9" cy="38.9" r="1.9"/><circle cx="287.3" cy="38.9" r="1.9"/><circle cx="293.7" cy="38.9" r="1.9"/><circle cx="300" cy="38.9" r="1.9"/><circle cx="306.4" cy="38.9" r="1.9"/><circle cx="271.4" cy="40.7" r="1.9"/><circle cx="277.8" cy="40.7" r="1.9"/><circle cx="284.1" cy="40.7" r="1.9"/><circle cx="290.5" cy="40.7" r="1.9"/><circle cx="296.9" cy="40.7" r="1.9"/><circle cx="303.2" cy="40.7" r="1.9"/><circle cx="274.6" cy="42.5" r="1.9"/><circle cx="280.9" cy="42.5" r="1.9"/><circle cx="287.3" cy="42.5" r="1.9"/><circle cx="293.7" cy="42.5" r="1.9"/><circle cx="300" cy="42.5" r="1.9"/><circle cx="277.8" cy="44.3" r="1.9"/><circle cx="284.1" cy="44.3" r="1.9"/><circle cx="290.5" cy="44.3" r="1.9"/><circle cx="296.9" cy="44.3" r="1.9"/><circle cx="280.9" cy="46.1" r="1.9"/><circle cx="287.3" cy="46.1" r="1.9"/><circle cx="293.7" cy="46.1" r="1.9"/><circle cx="284.1" cy="47.9" r="1.9"/><circle cx="290.5" cy="47.9" r="1.9"/><circle cx="287.3" cy="49.7" r="1.9"/></g><g fill="url(#s_red)"><circle cx="287.3" cy="14.2" r="1.9"/><circle cx="284.1" cy="16.1" r="1.9"/><circle cx="290.5" cy="16.1" r="1.9"/><circle cx="280.9" cy="17.9" r="1.9"/><circle cx="287.3" cy="17.9" r="1.9"/><circle cx="293.7" cy="17.9" r="1.9"/><circle cx="277.8" cy="19.7" r="1.9"/><circle cx="284.1" cy="19.7" r="1.9"/><circle cx="290.5" cy="19.7" r="1.9"/><circle cx="296.9" cy="19.7" r="1.9"/><circle cx="274.6" cy="21.5" r="1.9"/><circle cx="280.9" cy="21.5" r="1.9"/><circle cx="287.3" cy="21.5" r="1.9"/><circle cx="293.7" cy="21.5" r="1.9"/><circle cx="300" cy="21.5" r="1.9"/><circle cx="271.4" cy="23.3" r="1.9"/><circle cx="277.8" cy="23.3" r="1.9"/><circle cx="284.1" cy="23.3" r="1.9"/><circle cx="290.5" cy="23.3" r="1.9"/><circle cx="296.9" cy="23.3" r="1.9"/><circle cx="303.2" cy="23.3" r="1.9"/><circle cx="268.2" cy="25.1" r="1.9"/><circle cx="274.6" cy="25.1" r="1.9"/><circle cx="280.9" cy="25.1" r="1.9"/><circle cx="287.3" cy="25.1" r="1.9"/><circle cx="293.7" cy="25.1" r="1.9"/><circle cx="300" cy="25.1" r="1.9"/><circle cx="306.4" cy="25.1" r="1.9"/><circle cx="265" cy="26.9" r="1.9"/><circle cx="271.4" cy="26.9" r="1.9"/><circle cx="277.8" cy="26.9" r="1.9"/><circle cx="284.1" cy="26.9" r="1.9"/><circle cx="290.5" cy="26.9" r="1.9"/><circle cx="296.9" cy="26.9" r="1.9"/><circle cx="303.2" cy="26.9" r="1.9"/><circle cx="309.6" cy="26.9" r="1.9"/><circle cx="261.8" cy="28.7" r="1.9"/><circle cx="268.2" cy="28.7" r="1.9"/><circle cx="274.6" cy="28.7" r="1.9"/><circle cx="280.9" cy="28.7" r="1.9"/><circle cx="287.3" cy="28.7" r="1.9"/><circle cx="293.7" cy="28.7" r="1.9"/><circle cx="300" cy="28.7" r="1.9"/><circle cx="306.4" cy="28.7" r="1.9"/><circle cx="312.8" cy="28.7" r="1.9"/><circle cx="258.7" cy="30.5" r="1.9"/><circle cx="265" cy="30.5" r="1.9"/><circle cx="271.4" cy="30.5" r="1.9"/><circle cx="277.8" cy="30.5" r="1.9"/><circle cx="284.1" cy="30.5" r="1.9"/><circle cx="290.5" cy="30.5" r="1.9"/><circle cx="296.9" cy="30.5" r="1.9"/><circle cx="303.2" cy="30.5" r="1.9"/><circle cx="309.6" cy="30.5" r="1.9"/><circle cx="315.9" cy="30.5" r="1.9"/><circle cx="261.8" cy="32.3" r="1.9"/><circle cx="268.2" cy="32.3" r="1.9"/><circle cx="274.6" cy="32.3" r="1.9"/><circle cx="280.9" cy="32.3" r="1.9"/><circle cx="287.3" cy="32.3" r="1.9"/><circle cx="293.7" cy="32.3" r="1.9"/><circle cx="300" cy="32.3" r="1.9"/><circle cx="306.4" cy="32.3" r="1.9"/><circle cx="312.8" cy="32.3" r="1.9"/><circle cx="265" cy="34.1" r="1.9"/><circle cx="271.4" cy="34.1" r="1.9"/><circle cx="277.8" cy="34.1" r="1.9"/><circle cx="284.1" cy="34.1" r="1.9"/><circle cx="290.5" cy="34.1" r="1.9"/><circle cx="296.9" cy="34.1" r="1.9"/><circle cx="303.2" cy="34.1" r="1.9"/><circle cx="309.6" cy="34.1" r="1.9"/><circle cx="268.2" cy="35.9" r="1.9"/><circle cx="274.6" cy="35.9" r="1.9"/><circle cx="280.9" cy="35.9" r="1.9"/><circle cx="287.3" cy="35.9" r="1.9"/><circle cx="293.7" cy="35.9" r="1.9"/><circle cx="300" cy="35.9" r="1.9"/><circle cx="306.4" cy="35.9" r="1.9"/><circle cx="271.4" cy="37.7" r="1.9"/><circle cx="277.8" cy="37.7" r="1.9"/><circle cx="284.1" cy="37.7" r="1.9"/><circle cx="290.5" cy="37.7" r="1.9"/><circle cx="296.9" cy="37.7" r="1.9"/><circle cx="303.2" cy="37.7" r="1.9"/><circle cx="274.6" cy="39.5" r="1.9"/><circle cx="280.9" cy="39.5" r="1.9"/><circle cx="287.3" cy="39.5" r="1.9"/><circle cx="293.7" cy="39.5" r="1.9"/><circle cx="300" cy="39.5" r="1.9"/><circle cx="277.8" cy="41.3" r="1.9"/><circle cx="284.1" cy="41.3" r="1.9"/><circle cx="290.5" cy="41.3" r="1.9"/><circle cx="296.9" cy="41.3" r="1.9"/><circle cx="280.9" cy="43.1" r="1.9"/><circle cx="287.3" cy="43.1" r="1.9"/><circle cx="293.7" cy="43.1" r="1.9"/><circle cx="284.1" cy="44.9" r="1.9"/><circle cx="290.5" cy="44.9" r="1.9"/><circle cx="287.3" cy="46.8" r="1.9"/></g></g>
<g><g fill="url(#s_blue)"><circle cx="380" cy="79" r="1.9"/><circle cx="376.8" cy="80.8" r="1.9"/><circle cx="383.2" cy="80.8" r="1.9"/><circle cx="373.6" cy="82.6" r="1.9"/><circle cx="380" cy="82.6" r="1.9"/><circle cx="386.4" cy="82.6" r="1.9"/><circle cx="370.4" cy="84.4" r="1.9"/><circle cx="376.8" cy="84.4" r="1.9"/><circle cx="383.2" cy="84.4" r="1.9"/><circle cx="389.6" cy="84.4" r="1.9"/><circle cx="367.3" cy="86.2" r="1.9"/><circle cx="373.6" cy="86.2" r="1.9"/><circle cx="380" cy="86.2" r="1.9"/><circle cx="386.4" cy="86.2" r="1.9"/><circle cx="392.7" cy="86.2" r="1.9"/><circle cx="364.1" cy="88" r="1.9"/><circle cx="370.4" cy="88" r="1.9"/><circle cx="376.8" cy="88" r="1.9"/><circle cx="383.2" cy="88" r="1.9"/><circle cx="389.6" cy="88" r="1.9"/><circle cx="395.9" cy="88" r="1.9"/><circle cx="360.9" cy="89.8" r="1.9"/><circle cx="367.3" cy="89.8" r="1.9"/><circle cx="373.6" cy="89.8" r="1.9"/><circle cx="380" cy="89.8" r="1.9"/><circle cx="386.4" cy="89.8" r="1.9"/><circle cx="392.7" cy="89.8" r="1.9"/><circle cx="399.1" cy="89.8" r="1.9"/><circle cx="357.7" cy="91.6" r="1.9"/><circle cx="364.1" cy="91.6" r="1.9"/><circle cx="370.4" cy="91.6" r="1.9"/><circle cx="376.8" cy="91.6" r="1.9"/><circle cx="383.2" cy="91.6" r="1.9"/><circle cx="389.6" cy="91.6" r="1.9"/><circle cx="395.9" cy="91.6" r="1.9"/><circle cx="402.3" cy="91.6" r="1.9"/><circle cx="354.5" cy="93.4" r="1.9"/><circle cx="360.9" cy="93.4" r="1.9"/><circle cx="367.3" cy="93.4" r="1.9"/><circle cx="373.6" cy="93.4" r="1.9"/><circle cx="380" cy="93.4" r="1.9"/><circle cx="386.4" cy="93.4" r="1.9"/><circle cx="392.7" cy="93.4" r="1.9"/><circle cx="399.1" cy="93.4" r="1.9"/><circle cx="405.5" cy="93.4" r="1.9"/><circle cx="351.4" cy="95.2" r="1.9"/><circle cx="357.7" cy="95.2" r="1.9"/><circle cx="364.1" cy="95.2" r="1.9"/><circle cx="370.4" cy="95.2" r="1.9"/><circle cx="376.8" cy="95.2" r="1.9"/><circle cx="383.2" cy="95.2" r="1.9"/><circle cx="389.6" cy="95.2" r="1.9"/><circle cx="395.9" cy="95.2" r="1.9"/><circle cx="402.3" cy="95.2" r="1.9"/><circle cx="408.6" cy="95.2" r="1.9"/><circle cx="354.5" cy="97" r="1.9"/><circle cx="360.9" cy="97" r="1.9"/><circle cx="367.3" cy="97" r="1.9"/><circle cx="373.6" cy="97" r="1.9"/><circle cx="380" cy="97" r="1.9"/><circle cx="386.4" cy="97" r="1.9"/><circle cx="392.7" cy="97" r="1.9"/><circle cx="399.1" cy="97" r="1.9"/><circle cx="405.5" cy="97" r="1.9"/><circle cx="357.7" cy="98.8" r="1.9"/><circle cx="364.1" cy="98.8" r="1.9"/><circle cx="370.4" cy="98.8" r="1.9"/><circle cx="376.8" cy="98.8" r="1.9"/><circle cx="383.2" cy="98.8" r="1.9"/><circle cx="389.6" cy="98.8" r="1.9"/><circle cx="395.9" cy="98.8" r="1.9"/><circle cx="402.3" cy="98.8" r="1.9"/><circle cx="360.9" cy="100.6" r="1.9"/><circle cx="367.3" cy="100.6" r="1.9"/><circle cx="373.6" cy="100.6" r="1.9"/><circle cx="380" cy="100.6" r="1.9"/><circle cx="386.4" cy="100.6" r="1.9"/><circle cx="392.7" cy="100.6" r="1.9"/><circle cx="399.1" cy="100.6" r="1.9"/><circle cx="364.1" cy="102.4" r="1.9"/><circle cx="370.4" cy="102.4" r="1.9"/><circle cx="376.8" cy="102.4" r="1.9"/><circle cx="383.2" cy="102.4" r="1.9"/><circle cx="389.6" cy="102.4" r="1.9"/><circle cx="395.9" cy="102.4" r="1.9"/><circle cx="367.3" cy="104.2" r="1.9"/><circle cx="373.6" cy="104.2" r="1.9"/><circle cx="380" cy="104.2" r="1.9"/><circle cx="386.4" cy="104.2" r="1.9"/><circle cx="392.7" cy="104.2" r="1.9"/><circle cx="370.4" cy="106" r="1.9"/><circle cx="376.8" cy="106" r="1.9"/><circle cx="383.2" cy="106" r="1.9"/><circle cx="389.6" cy="106" r="1.9"/><circle cx="373.6" cy="107.8" r="1.9"/><circle cx="380" cy="107.8" r="1.9"/><circle cx="386.4" cy="107.8" r="1.9"/><circle cx="376.8" cy="109.6" r="1.9"/><circle cx="383.2" cy="109.6" r="1.9"/><circle cx="380" cy="111.5" r="1.9"/></g></g>
<g><g fill="url(#s_green)"><circle cx="380" cy="65.8" r="1.9"/><circle cx="376.8" cy="67.6" r="1.9"/><circle cx="383.2" cy="67.6" r="1.9"/><circle cx="373.6" cy="69.4" r="1.9"/><circle cx="380" cy="69.4" r="1.9"/><circle cx="386.4" cy="69.4" r="1.9"/><circle cx="370.4" cy="71.2" r="1.9"/><circle cx="376.8" cy="71.2" r="1.9"/><circle cx="383.2" cy="71.2" r="1.9"/><circle cx="389.6" cy="71.2" r="1.9"/><circle cx="367.3" cy="73" r="1.9"/><circle cx="373.6" cy="73" r="1.9"/><circle cx="380" cy="73" r="1.9"/><circle cx="386.4" cy="73" r="1.9"/><circle cx="392.7" cy="73" r="1.9"/><circle cx="364.1" cy="74.8" r="1.9"/><circle cx="370.4" cy="74.8" r="1.9"/><circle cx="376.8" cy="74.8" r="1.9"/><circle cx="383.2" cy="74.8" r="1.9"/><circle cx="389.6" cy="74.8" r="1.9"/><circle cx="395.9" cy="74.8" r="1.9"/><circle cx="360.9" cy="76.6" r="1.9"/><circle cx="367.3" cy="76.6" r="1.9"/><circle cx="373.6" cy="76.6" r="1.9"/><circle cx="380" cy="76.6" r="1.9"/><circle cx="386.4" cy="76.6" r="1.9"/><circle cx="392.7" cy="76.6" r="1.9"/><circle cx="399.1" cy="76.6" r="1.9"/><circle cx="357.7" cy="78.4" r="1.9"/><circle cx="364.1" cy="78.4" r="1.9"/><circle cx="370.4" cy="78.4" r="1.9"/><circle cx="376.8" cy="78.4" r="1.9"/><circle cx="383.2" cy="78.4" r="1.9"/><circle cx="389.6" cy="78.4" r="1.9"/><circle cx="395.9" cy="78.4" r="1.9"/><circle cx="402.3" cy="78.4" r="1.9"/><circle cx="354.5" cy="80.2" r="1.9"/><circle cx="360.9" cy="80.2" r="1.9"/><circle cx="367.3" cy="80.2" r="1.9"/><circle cx="373.6" cy="80.2" r="1.9"/><circle cx="380" cy="80.2" r="1.9"/><circle cx="386.4" cy="80.2" r="1.9"/><circle cx="392.7" cy="80.2" r="1.9"/><circle cx="399.1" cy="80.2" r="1.9"/><circle cx="405.5" cy="80.2" r="1.9"/><circle cx="351.4" cy="82" r="1.9"/><circle cx="357.7" cy="82" r="1.9"/><circle cx="364.1" cy="82" r="1.9"/><circle cx="370.4" cy="82" r="1.9"/><circle cx="376.8" cy="82" r="1.9"/><circle cx="383.2" cy="82" r="1.9"/><circle cx="389.6" cy="82" r="1.9"/><circle cx="395.9" cy="82" r="1.9"/><circle cx="402.3" cy="82" r="1.9"/><circle cx="408.6" cy="82" r="1.9"/><circle cx="354.5" cy="83.8" r="1.9"/><circle cx="360.9" cy="83.8" r="1.9"/><circle cx="367.3" cy="83.8" r="1.9"/><circle cx="373.6" cy="83.8" r="1.9"/><circle cx="380" cy="83.8" r="1.9"/><circle cx="386.4" cy="83.8" r="1.9"/><circle cx="392.7" cy="83.8" r="1.9"/><circle cx="399.1" cy="83.8" r="1.9"/><circle cx="405.5" cy="83.8" r="1.9"/><circle cx="357.7" cy="85.6" r="1.9"/><circle cx="364.1" cy="85.6" r="1.9"/><circle cx="370.4" cy="85.6" r="1.9"/><circle cx="376.8" cy="85.6" r="1.9"/><circle cx="383.2" cy="85.6" r="1.9"/><circle cx="389.6" cy="85.6" r="1.9"/><circle cx="395.9" cy="85.6" r="1.9"/><circle cx="402.3" cy="85.6" r="1.9"/><circle cx="360.9" cy="87.4" r="1.9"/><circle cx="367.3" cy="87.4" r="1.9"/><circle cx="373.6" cy="87.4" r="1.9"/><circle cx="380" cy="87.4" r="1.9"/><circle cx="386.4" cy="87.4" r="1.9"/><circle cx="392.7" cy="87.4" r="1.9"/><circle cx="399.1" cy="87.4" r="1.9"/><circle cx="364.1" cy="89.2" r="1.9"/><circle cx="370.4" cy="89.2" r="1.9"/><circle cx="376.8" cy="89.2" r="1.9"/><circle cx="383.2" cy="89.2" r="1.9"/><circle cx="389.6" cy="89.2" r="1.9"/><circle cx="395.9" cy="89.2" r="1.9"/><circle cx="367.3" cy="91" r="1.9"/><circle cx="373.6" cy="91" r="1.9"/><circle cx="380" cy="91" r="1.9"/><circle cx="386.4" cy="91" r="1.9"/><circle cx="392.7" cy="91" r="1.9"/><circle cx="370.4" cy="92.8" r="1.9"/><circle cx="376.8" cy="92.8" r="1.9"/><circle cx="383.2" cy="92.8" r="1.9"/><circle cx="389.6" cy="92.8" r="1.9"/><circle cx="373.6" cy="94.6" r="1.9"/><circle cx="380" cy="94.6" r="1.9"/><circle cx="386.4" cy="94.6" r="1.9"/><circle cx="376.8" cy="96.4" r="1.9"/><circle cx="383.2" cy="96.4" r="1.9"/><circle cx="380" cy="98.2" r="1.9"/></g></g>
<g><g fill="url(#d_orange)"><circle cx="380" cy="49.6" r="1.9"/><circle cx="376.8" cy="51.4" r="1.9"/><circle cx="383.2" cy="51.4" r="1.9"/><circle cx="373.6" cy="53.2" r="1.9"/><circle cx="380" cy="53.2" r="1.9"/><circle cx="386.4" cy="53.2" r="1.9"/><circle cx="370.4" cy="55" r="1.9"/><circle cx="376.8" cy="55" r="1.9"/><circle cx="383.2" cy="55" r="1.9"/><circle cx="389.6" cy="55" r="1.9"/><circle cx="367.3" cy="56.8" r="1.9"/><circle cx="373.6" cy="56.8" r="1.9"/><circle cx="380" cy="56.8" r="1.9"/><circle cx="386.4" cy="56.8" r="1.9"/><circle cx="392.7" cy="56.8" r="1.9"/><circle cx="364.1" cy="58.6" r="1.9"/><circle cx="370.4" cy="58.6" r="1.9"/><circle cx="376.8" cy="58.6" r="1.9"/><circle cx="383.2" cy="58.6" r="1.9"/><circle cx="389.6" cy="58.6" r="1.9"/><circle cx="395.9" cy="58.6" r="1.9"/><circle cx="360.9" cy="60.4" r="1.9"/><circle cx="367.3" cy="60.4" r="1.9"/><circle cx="373.6" cy="60.4" r="1.9"/><circle cx="380" cy="60.4" r="1.9"/><circle cx="386.4" cy="60.4" r="1.9"/><circle cx="392.7" cy="60.4" r="1.9"/><circle cx="399.1" cy="60.4" r="1.9"/><circle cx="357.7" cy="62.2" r="1.9"/><circle cx="364.1" cy="62.2" r="1.9"/><circle cx="370.4" cy="62.2" r="1.9"/><circle cx="376.8" cy="62.2" r="1.9"/><circle cx="383.2" cy="62.2" r="1.9"/><circle cx="389.6" cy="62.2" r="1.9"/><circle cx="395.9" cy="62.2" r="1.9"/><circle cx="402.3" cy="62.2" r="1.9"/><circle cx="354.5" cy="64" r="1.9"/><circle cx="360.9" cy="64" r="1.9"/><circle cx="367.3" cy="64" r="1.9"/><circle cx="373.6" cy="64" r="1.9"/><circle cx="380" cy="64" r="1.9"/><circle cx="386.4" cy="64" r="1.9"/><circle cx="392.7" cy="64" r="1.9"/><circle cx="399.1" cy="64" r="1.9"/><circle cx="405.5" cy="64" r="1.9"/><circle cx="351.4" cy="65.8" r="1.9"/><circle cx="357.7" cy="65.8" r="1.9"/><circle cx="364.1" cy="65.8" r="1.9"/><circle cx="370.4" cy="65.8" r="1.9"/><circle cx="376.8" cy="65.8" r="1.9"/><circle cx="383.2" cy="65.8" r="1.9"/><circle cx="389.6" cy="65.8" r="1.9"/><circle cx="395.9" cy="65.8" r="1.9"/><circle cx="402.3" cy="65.8" r="1.9"/><circle cx="408.6" cy="65.8" r="1.9"/><circle cx="354.5" cy="67.6" r="1.9"/><circle cx="360.9" cy="67.6" r="1.9"/><circle cx="367.3" cy="67.6" r="1.9"/><circle cx="373.6" cy="67.6" r="1.9"/><circle cx="380" cy="67.6" r="1.9"/><circle cx="386.4" cy="67.6" r="1.9"/><circle cx="392.7" cy="67.6" r="1.9"/><circle cx="399.1" cy="67.6" r="1.9"/><circle cx="405.5" cy="67.6" r="1.9"/><circle cx="357.7" cy="69.4" r="1.9"/><circle cx="364.1" cy="69.4" r="1.9"/><circle cx="370.4" cy="69.4" r="1.9"/><circle cx="376.8" cy="69.4" r="1.9"/><circle cx="383.2" cy="69.4" r="1.9"/><circle cx="389.6" cy="69.4" r="1.9"/><circle cx="395.9" cy="69.4" r="1.9"/><circle cx="402.3" cy="69.4" r="1.9"/><circle cx="360.9" cy="71.2" r="1.9"/><circle cx="367.3" cy="71.2" r="1.9"/><circle cx="373.6" cy="71.2" r="1.9"/><circle cx="380" cy="71.2" r="1.9"/><circle cx="386.4" cy="71.2" r="1.9"/><circle cx="392.7" cy="71.2" r="1.9"/><circle cx="399.1" cy="71.2" r="1.9"/><circle cx="364.1" cy="73" r="1.9"/><circle cx="370.4" cy="73" r="1.9"/><circle cx="376.8" cy="73" r="1.9"/><circle cx="383.2" cy="73" r="1.9"/><circle cx="389.6" cy="73" r="1.9"/><circle cx="395.9" cy="73" r="1.9"/><circle cx="367.3" cy="74.8" r="1.9"/><circle cx="373.6" cy="74.8" r="1.9"/><circle cx="380" cy="74.8" r="1.9"/><circle cx="386.4" cy="74.8" r="1.9"/><circle cx="392.7" cy="74.8" r="1.9"/><circle cx="370.4" cy="76.6" r="1.9"/><circle cx="376.8" cy="76.6" r="1.9"/><circle cx="383.2" cy="76.6" r="1.9"/><circle cx="389.6" cy="76.6" r="1.9"/><circle cx="373.6" cy="78.4" r="1.9"/><circle cx="380" cy="78.4" r="1.9"/><circle cx="386.4" cy="78.4" r="1.9"/><circle cx="376.8" cy="80.2" r="1.9"/><circle cx="383.2" cy="80.2" r="1.9"/><circle cx="380" cy="82" r="1.9"/></g><g fill="url(#d_orange)"><circle cx="380" cy="46.6" r="1.9"/><circle cx="376.8" cy="48.4" r="1.9"/><circle cx="383.2" cy="48.4" r="1.9"/><circle cx="373.6" cy="50.2" r="1.9"/><circle cx="380" cy="50.2" r="1.9"/><circle cx="386.4" cy="50.2" r="1.9"/><circle cx="370.4" cy="52" r="1.9"/><circle cx="376.8" cy="52" r="1.9"/><circle cx="383.2" cy="52" r="1.9"/><circle cx="389.6" cy="52" r="1.9"/><circle cx="367.3" cy="53.8" r="1.9"/><circle cx="373.6" cy="53.8" r="1.9"/><circle cx="380" cy="53.8" r="1.9"/><circle cx="386.4" cy="53.8" r="1.9"/><circle cx="392.7" cy="53.8" r="1.9"/><circle cx="364.1" cy="55.6" r="1.9"/><circle cx="370.4" cy="55.6" r="1.9"/><circle cx="376.8" cy="55.6" r="1.9"/><circle cx="383.2" cy="55.6" r="1.9"/><circle cx="389.6" cy="55.6" r="1.9"/><circle cx="395.9" cy="55.6" r="1.9"/><circle cx="360.9" cy="57.4" r="1.9"/><circle cx="367.3" cy="57.4" r="1.9"/><circle cx="373.6" cy="57.4" r="1.9"/><circle cx="380" cy="57.4" r="1.9"/><circle cx="386.4" cy="57.4" r="1.9"/><circle cx="392.7" cy="57.4" r="1.9"/><circle cx="399.1" cy="57.4" r="1.9"/><circle cx="357.7" cy="59.2" r="1.9"/><circle cx="364.1" cy="59.2" r="1.9"/><circle cx="370.4" cy="59.2" r="1.9"/><circle cx="376.8" cy="59.2" r="1.9"/><circle cx="383.2" cy="59.2" r="1.9"/><circle cx="389.6" cy="59.2" r="1.9"/><circle cx="395.9" cy="59.2" r="1.9"/><circle cx="402.3" cy="59.2" r="1.9"/><circle cx="354.5" cy="61" r="1.9"/><circle cx="360.9" cy="61" r="1.9"/><circle cx="367.3" cy="61" r="1.9"/><circle cx="373.6" cy="61" r="1.9"/><circle cx="380" cy="61" r="1.9"/><circle cx="386.4" cy="61" r="1.9"/><circle cx="392.7" cy="61" r="1.9"/><circle cx="399.1" cy="61" r="1.9"/><circle cx="405.5" cy="61" r="1.9"/><circle cx="357.7" cy="62.8" r="1.9"/><circle cx="364.1" cy="62.8" r="1.9"/><circle cx="370.4" cy="62.8" r="1.9"/><circle cx="376.8" cy="62.8" r="1.9"/><circle cx="383.2" cy="62.8" r="1.9"/><circle cx="389.6" cy="62.8" r="1.9"/><circle cx="395.9" cy="62.8" r="1.9"/><circle cx="402.3" cy="62.8" r="1.9"/><circle cx="360.9" cy="64.6" r="1.9"/><circle cx="367.3" cy="64.6" r="1.9"/><circle cx="373.6" cy="64.6" r="1.9"/><circle cx="380" cy="64.6" r="1.9"/><circle cx="386.4" cy="64.6" r="1.9"/><circle cx="392.7" cy="64.6" r="1.9"/><circle cx="399.1" cy="64.6" r="1.9"/><circle cx="364.1" cy="66.4" r="1.9"/><circle cx="370.4" cy="66.4" r="1.9"/><circle cx="376.8" cy="66.4" r="1.9"/><circle cx="383.2" cy="66.4" r="1.9"/><circle cx="389.6" cy="66.4" r="1.9"/><circle cx="395.9" cy="66.4" r="1.9"/><circle cx="367.3" cy="68.2" r="1.9"/><circle cx="373.6" cy="68.2" r="1.9"/><circle cx="380" cy="68.2" r="1.9"/><circle cx="386.4" cy="68.2" r="1.9"/><circle cx="392.7" cy="68.2" r="1.9"/><circle cx="370.4" cy="70" r="1.9"/><circle cx="376.8" cy="70" r="1.9"/><circle cx="383.2" cy="70" r="1.9"/><circle cx="389.6" cy="70" r="1.9"/><circle cx="373.6" cy="71.8" r="1.9"/><circle cx="380" cy="71.8" r="1.9"/><circle cx="386.4" cy="71.8" r="1.9"/><circle cx="376.8" cy="73.6" r="1.9"/><circle cx="383.2" cy="73.6" r="1.9"/><circle cx="380" cy="75.4" r="1.9"/></g><g fill="url(#s_orange)"><circle cx="380" cy="40" r="1.9"/><circle cx="376.8" cy="41.8" r="1.9"/><circle cx="383.2" cy="41.8" r="1.9"/><circle cx="373.6" cy="43.6" r="1.9"/><circle cx="380" cy="43.6" r="1.9"/><circle cx="386.4" cy="43.6" r="1.9"/><circle cx="370.4" cy="45.4" r="1.9"/><circle cx="376.8" cy="45.4" r="1.9"/><circle cx="383.2" cy="45.4" r="1.9"/><circle cx="389.6" cy="45.4" r="1.9"/><circle cx="367.3" cy="47.2" r="1.9"/><circle cx="373.6" cy="47.2" r="1.9"/><circle cx="380" cy="47.2" r="1.9"/><circle cx="386.4" cy="47.2" r="1.9"/><circle cx="392.7" cy="47.2" r="1.9"/><circle cx="364.1" cy="49" r="1.9"/><circle cx="370.4" cy="49" r="1.9"/><circle cx="376.8" cy="49" r="1.9"/><circle cx="383.2" cy="49" r="1.9"/><circle cx="389.6" cy="49" r="1.9"/><circle cx="395.9" cy="49" r="1.9"/><circle cx="360.9" cy="50.8" r="1.9"/><circle cx="367.3" cy="50.8" r="1.9"/><circle cx="373.6" cy="50.8" r="1.9"/><circle cx="380" cy="50.8" r="1.9"/><circle cx="386.4" cy="50.8" r="1.9"/><circle cx="392.7" cy="50.8" r="1.9"/><circle cx="399.1" cy="50.8" r="1.9"/><circle cx="357.7" cy="52.6" r="1.9"/><circle cx="364.1" cy="52.6" r="1.9"/><circle cx="370.4" cy="52.6" r="1.9"/><circle cx="376.8" cy="52.6" r="1.9"/><circle cx="383.2" cy="52.6" r="1.9"/><circle cx="389.6" cy="52.6" r="1.9"/><circle cx="395.9" cy="52.6" r="1.9"/><circle cx="402.3" cy="52.6" r="1.9"/><circle cx="354.5" cy="54.4" r="1.9"/><circle cx="360.9" cy="54.4" r="1.9"/><circle cx="367.3" cy="54.4" r="1.9"/><circle cx="373.6" cy="54.4" r="1.9"/><circle cx="380" cy="54.4" r="1.9"/><circle cx="386.4" cy="54.4" r="1.9"/><circle cx="392.7" cy="54.4" r="1.9"/><circle cx="399.1" cy="54.4" r="1.9"/><circle cx="405.5" cy="54.4" r="1.9"/><circle cx="351.4" cy="56.2" r="1.9"/><circle cx="357.7" cy="56.2" r="1.9"/><circle cx="364.1" cy="56.2" r="1.9"/><circle cx="370.4" cy="56.2" r="1.9"/><circle cx="376.8" cy="56.2" r="1.9"/><circle cx="383.2" cy="56.2" r="1.9"/><circle cx="389.6" cy="56.2" r="1.9"/><circle cx="395.9" cy="56.2" r="1.9"/><circle cx="402.3" cy="56.2" r="1.9"/><circle cx="408.6" cy="56.2" r="1.9"/><circle cx="354.5" cy="58" r="1.9"/><circle cx="360.9" cy="58" r="1.9"/><circle cx="367.3" cy="58" r="1.9"/><circle cx="373.6" cy="58" r="1.9"/><circle cx="380" cy="58" r="1.9"/><circle cx="386.4" cy="58" r="1.9"/><circle cx="392.7" cy="58" r="1.9"/><circle cx="399.1" cy="58" r="1.9"/><circle cx="405.5" cy="58" r="1.9"/><circle cx="357.7" cy="59.8" r="1.9"/><circle cx="364.1" cy="59.8" r="1.9"/><circle cx="370.4" cy="59.8" r="1.9"/><circle cx="376.8" cy="59.8" r="1.9"/><circle cx="383.2" cy="59.8" r="1.9"/><circle cx="389.6" cy="59.8" r="1.9"/><circle cx="395.9" cy="59.8" r="1.9"/><circle cx="402.3" cy="59.8" r="1.9"/><circle cx="360.9" cy="61.6" r="1.9"/><circle cx="367.3" cy="61.6" r="1.9"/><circle cx="373.6" cy="61.6" r="1.9"/><circle cx="380" cy="61.6" r="1.9"/><circle cx="386.4" cy="61.6" r="1.9"/><circle cx="392.7" cy="61.6" r="1.9"/><circle cx="399.1" cy="61.6" r="1.9"/><circle cx="364.1" cy="63.4" r="1.9"/><circle cx="370.4" cy="63.4" r="1.9"/><circle cx="376.8" cy="63.4" r="1.9"/><circle cx="383.2" cy="63.4" r="1.9"/><circle cx="389.6" cy="63.4" r="1.9"/><circle cx="395.9" cy="63.4" r="1.9"/><circle cx="367.3" cy="65.2" r="1.9"/><circle cx="373.6" cy="65.2" r="1.9"/><circle cx="380" cy="65.2" r="1.9"/><circle cx="386.4" cy="65.2" r="1.9"/><circle cx="392.7" cy="65.2" r="1.9"/><circle cx="370.4" cy="67" r="1.9"/><circle cx="376.8" cy="67" r="1.9"/><circle cx="383.2" cy="67" r="1.9"/><circle cx="389.6" cy="67" r="1.9"/><circle cx="373.6" cy="68.8" r="1.9"/><circle cx="380" cy="68.8" r="1.9"/><circle cx="386.4" cy="68.8" r="1.9"/><circle cx="376.8" cy="70.6" r="1.9"/><circle cx="383.2" cy="70.6" r="1.9"/><circle cx="380" cy="72.5" r="1.9"/></g></g>
<g><g fill="url(#d_maroon)"><circle cx="380" cy="23.9" r="1.9"/><circle cx="376.8" cy="25.7" r="1.9"/><circle cx="383.2" cy="25.7" r="1.9"/><circle cx="373.6" cy="27.5" r="1.9"/><circle cx="380" cy="27.5" r="1.9"/><circle cx="386.4" cy="27.5" r="1.9"/><circle cx="370.4" cy="29.3" r="1.9"/><circle cx="376.8" cy="29.3" r="1.9"/><circle cx="383.2" cy="29.3" r="1.9"/><circle cx="389.6" cy="29.3" r="1.9"/><circle cx="367.3" cy="31.1" r="1.9"/><circle cx="373.6" cy="31.1" r="1.9"/><circle cx="380" cy="31.1" r="1.9"/><circle cx="386.4" cy="31.1" r="1.9"/><circle cx="392.7" cy="31.1" r="1.9"/><circle cx="364.1" cy="32.9" r="1.9"/><circle cx="370.4" cy="32.9" r="1.9"/><circle cx="376.8" cy="32.9" r="1.9"/><circle cx="383.2" cy="32.9" r="1.9"/><circle cx="389.6" cy="32.9" r="1.9"/><circle cx="395.9" cy="32.9" r="1.9"/><circle cx="360.9" cy="34.7" r="1.9"/><circle cx="367.3" cy="34.7" r="1.9"/><circle cx="373.6" cy="34.7" r="1.9"/><circle cx="380" cy="34.7" r="1.9"/><circle cx="386.4" cy="34.7" r="1.9"/><circle cx="392.7" cy="34.7" r="1.9"/><circle cx="399.1" cy="34.7" r="1.9"/><circle cx="357.7" cy="36.5" r="1.9"/><circle cx="364.1" cy="36.5" r="1.9"/><circle cx="370.4" cy="36.5" r="1.9"/><circle cx="376.8" cy="36.5" r="1.9"/><circle cx="383.2" cy="36.5" r="1.9"/><circle cx="389.6" cy="36.5" r="1.9"/><circle cx="395.9" cy="36.5" r="1.9"/><circle cx="402.3" cy="36.5" r="1.9"/><circle cx="354.5" cy="38.3" r="1.9"/><circle cx="360.9" cy="38.3" r="1.9"/><circle cx="367.3" cy="38.3" r="1.9"/><circle cx="373.6" cy="38.3" r="1.9"/><circle cx="380" cy="38.3" r="1.9"/><circle cx="386.4" cy="38.3" r="1.9"/><circle cx="392.7" cy="38.3" r="1.9"/><circle cx="399.1" cy="38.3" r="1.9"/><circle cx="405.5" cy="38.3" r="1.9"/><circle cx="351.4" cy="40.1" r="1.9"/><circle cx="357.7" cy="40.1" r="1.9"/><circle cx="364.1" cy="40.1" r="1.9"/><circle cx="370.4" cy="40.1" r="1.9"/><circle cx="376.8" cy="40.1" r="1.9"/><circle cx="383.2" cy="40.1" r="1.9"/><circle cx="389.6" cy="40.1" r="1.9"/><circle cx="395.9" cy="40.1" r="1.9"/><circle cx="402.3" cy="40.1" r="1.9"/><circle cx="408.6" cy="40.1" r="1.9"/><circle cx="354.5" cy="41.9" r="1.9"/><circle cx="360.9" cy="41.9" r="1.9"/><circle cx="367.3" cy="41.9" r="1.9"/><circle cx="373.6" cy="41.9" r="1.9"/><circle cx="380" cy="41.9" r="1.9"/><circle cx="386.4" cy="41.9" r="1.9"/><circle cx="392.7" cy="41.9" r="1.9"/><circle cx="399.1" cy="41.9" r="1.9"/><circle cx="405.5" cy="41.9" r="1.9"/><circle cx="357.7" cy="43.7" r="1.9"/><circle cx="364.1" cy="43.7" r="1.9"/><circle cx="370.4" cy="43.7" r="1.9"/><circle cx="376.8" cy="43.7" r="1.9"/><circle cx="383.2" cy="43.7" r="1.9"/><circle cx="389.6" cy="43.7" r="1.9"/><circle cx="395.9" cy="43.7" r="1.9"/><circle cx="402.3" cy="43.7" r="1.9"/><circle cx="360.9" cy="45.5" r="1.9"/><circle cx="367.3" cy="45.5" r="1.9"/><circle cx="373.6" cy="45.5" r="1.9"/><circle cx="380" cy="45.5" r="1.9"/><circle cx="386.4" cy="45.5" r="1.9"/><circle cx="392.7" cy="45.5" r="1.9"/><circle cx="399.1" cy="45.5" r="1.9"/><circle cx="364.1" cy="47.3" r="1.9"/><circle cx="370.4" cy="47.3" r="1.9"/><circle cx="376.8" cy="47.3" r="1.9"/><circle cx="383.2" cy="47.3" r="1.9"/><circle cx="389.6" cy="47.3" r="1.9"/><circle cx="395.9" cy="47.3" r="1.9"/><circle cx="367.3" cy="49.1" r="1.9"/><circle cx="373.6" cy="49.1" r="1.9"/><circle cx="380" cy="49.1" r="1.9"/><circle cx="386.4" cy="49.1" r="1.9"/><circle cx="392.7" cy="49.1" r="1.9"/><circle cx="370.4" cy="50.9" r="1.9"/><circle cx="376.8" cy="50.9" r="1.9"/><circle cx="383.2" cy="50.9" r="1.9"/><circle cx="389.6" cy="50.9" r="1.9"/><circle cx="373.6" cy="52.7" r="1.9"/><circle cx="380" cy="52.7" r="1.9"/><circle cx="386.4" cy="52.7" r="1.9"/><circle cx="376.8" cy="54.5" r="1.9"/><circle cx="383.2" cy="54.5" r="1.9"/><circle cx="380" cy="56.4" r="1.9"/></g><g fill="url(#d_maroon)"><circle cx="380" cy="20.9" r="1.9"/><circle cx="376.8" cy="22.7" r="1.9"/><circle cx="383.2" cy="22.7" r="1.9"/><circle cx="373.6" cy="24.5" r="1.9"/><circle cx="380" cy="24.5" r="1.9"/><circle cx="386.4" cy="24.5" r="1.9"/><circle cx="370.4" cy="26.3" r="1.9"/><circle cx="376.8" cy="26.3" r="1.9"/><circle cx="383.2" cy="26.3" r="1.9"/><circle cx="389.6" cy="26.3" r="1.9"/><circle cx="367.3" cy="28.1" r="1.9"/><circle cx="373.6" cy="28.1" r="1.9"/><circle cx="380" cy="28.1" r="1.9"/><circle cx="386.4" cy="28.1" r="1.9"/><circle cx="392.7" cy="28.1" r="1.9"/><circle cx="364.1" cy="29.9" r="1.9"/><circle cx="370.4" cy="29.9" r="1.9"/><circle cx="376.8" cy="29.9" r="1.9"/><circle cx="383.2" cy="29.9" r="1.9"/><circle cx="389.6" cy="29.9" r="1.9"/><circle cx="395.9" cy="29.9" r="1.9"/><circle cx="360.9" cy="31.7" r="1.9"/><circle cx="367.3" cy="31.7" r="1.9"/><circle cx="373.6" cy="31.7" r="1.9"/><circle cx="380" cy="31.7" r="1.9"/><circle cx="386.4" cy="31.7" r="1.9"/><circle cx="392.7" cy="31.7" r="1.9"/><circle cx="399.1" cy="31.7" r="1.9"/><circle cx="357.7" cy="33.5" r="1.9"/><circle cx="364.1" cy="33.5" r="1.9"/><circle cx="370.4" cy="33.5" r="1.9"/><circle cx="376.8" cy="33.5" r="1.9"/><circle cx="383.2" cy="33.5" r="1.9"/><circle cx="389.6" cy="33.5" r="1.9"/><circle cx="395.9" cy="33.5" r="1.9"/><circle cx="402.3" cy="33.5" r="1.9"/><circle cx="354.5" cy="35.3" r="1.9"/><circle cx="360.9" cy="35.3" r="1.9"/><circle cx="367.3" cy="35.3" r="1.9"/><circle cx="373.6" cy="35.3" r="1.9"/><circle cx="380" cy="35.3" r="1.9"/><circle cx="386.4" cy="35.3" r="1.9"/><circle cx="392.7" cy="35.3" r="1.9"/><circle cx="399.1" cy="35.3" r="1.9"/><circle cx="405.5" cy="35.3" r="1.9"/><circle cx="357.7" cy="37.1" r="1.9"/><circle cx="364.1" cy="37.1" r="1.9"/><circle cx="370.4" cy="37.1" r="1.9"/><circle cx="376.8" cy="37.1" r="1.9"/><circle cx="383.2" cy="37.1" r="1.9"/><circle cx="389.6" cy="37.1" r="1.9"/><circle cx="395.9" cy="37.1" r="1.9"/><circle cx="402.3" cy="37.1" r="1.9"/><circle cx="360.9" cy="38.9" r="1.9"/><circle cx="367.3" cy="38.9" r="1.9"/><circle cx="373.6" cy="38.9" r="1.9"/><circle cx="380" cy="38.9" r="1.9"/><circle cx="386.4" cy="38.9" r="1.9"/><circle cx="392.7" cy="38.9" r="1.9"/><circle cx="399.1" cy="38.9" r="1.9"/><circle cx="364.1" cy="40.7" r="1.9"/><circle cx="370.4" cy="40.7" r="1.9"/><circle cx="376.8" cy="40.7" r="1.9"/><circle cx="383.2" cy="40.7" r="1.9"/><circle cx="389.6" cy="40.7" r="1.9"/><circle cx="395.9" cy="40.7" r="1.9"/><circle cx="367.3" cy="42.5" r="1.9"/><circle cx="373.6" cy="42.5" r="1.9"/><circle cx="380" cy="42.5" r="1.9"/><circle cx="386.4" cy="42.5" r="1.9"/><circle cx="392.7" cy="42.5" r="1.9"/><circle cx="370.4" cy="44.3" r="1.9"/><circle cx="376.8" cy="44.3" r="1.9"/><circle cx="383.2" cy="44.3" r="1.9"/><circle cx="389.6" cy="44.3" r="1.9"/><circle cx="373.6" cy="46.1" r="1.9"/><circle cx="380" cy="46.1" r="1.9"/><circle cx="386.4" cy="46.1" r="1.9"/><circle cx="376.8" cy="47.9" r="1.9"/><circle cx="383.2" cy="47.9" r="1.9"/><circle cx="380" cy="49.7" r="1.9"/></g><g fill="url(#s_maroon)"><circle cx="380" cy="14.2" r="1.9"/><circle cx="376.8" cy="16.1" r="1.9"/><circle cx="383.2" cy="16.1" r="1.9"/><circle cx="373.6" cy="17.9" r="1.9"/><circle cx="380" cy="17.9" r="1.9"/><circle cx="386.4" cy="17.9" r="1.9"/><circle cx="370.4" cy="19.7" r="1.9"/><circle cx="376.8" cy="19.7" r="1.9"/><circle cx="383.2" cy="19.7" r="1.9"/><circle cx="389.6" cy="19.7" r="1.9"/><circle cx="367.3" cy="21.5" r="1.9"/><circle cx="373.6" cy="21.5" r="1.9"/><circle cx="380" cy="21.5" r="1.9"/><circle cx="386.4" cy="21.5" r="1.9"/><circle cx="392.7" cy="21.5" r="1.9"/><circle cx="364.1" cy="23.3" r="1.9"/><circle cx="370.4" cy="23.3" r="1.9"/><circle cx="376.8" cy="23.3" r="1.9"/><circle cx="383.2" cy="23.3" r="1.9"/><circle cx="389.6" cy="23.3" r="1.9"/><circle cx="395.9" cy="23.3" r="1.9"/><circle cx="360.9" cy="25.1" r="1.9"/><circle cx="367.3" cy="25.1" r="1.9"/><circle cx="373.6" cy="25.1" r="1.9"/><circle cx="380" cy="25.1" r="1.9"/><circle cx="386.4" cy="25.1" r="1.9"/><circle cx="392.7" cy="25.1" r="1.9"/><circle cx="399.1" cy="25.1" r="1.9"/><circle cx="357.7" cy="26.9" r="1.9"/><circle cx="364.1" cy="26.9" r="1.9"/><circle cx="370.4" cy="26.9" r="1.9"/><circle cx="376.8" cy="26.9" r="1.9"/><circle cx="383.2" cy="26.9" r="1.9"/><circle cx="389.6" cy="26.9" r="1.9"/><circle cx="395.9" cy="26.9" r="1.9"/><circle cx="402.3" cy="26.9" r="1.9"/><circle cx="354.5" cy="28.7" r="1.9"/><circle cx="360.9" cy="28.7" r="1.9"/><circle cx="367.3" cy="28.7" r="1.9"/><circle cx="373.6" cy="28.7" r="1.9"/><circle cx="380" cy="28.7" r="1.9"/><circle cx="386.4" cy="28.7" r="1.9"/><circle cx="392.7" cy="28.7" r="1.9"/><circle cx="399.1" cy="28.7" r="1.9"/><circle cx="405.5" cy="28.7" r="1.9"/><circle cx="351.4" cy="30.5" r="1.9"/><circle cx="357.7" cy="30.5" r="1.9"/><circle cx="364.1" cy="30.5" r="1.9"/><circle cx="370.4" cy="30.5" r="1.9"/><circle cx="376.8" cy="30.5" r="1.9"/><circle cx="383.2" cy="30.5" r="1.9"/><circle cx="389.6" cy="30.5" r="1.9"/><circle cx="395.9" cy="30.5" r="1.9"/><circle cx="402.3" cy="30.5" r="1.9"/><circle cx="408.6" cy="30.5" r="1.9"/><circle cx="354.5" cy="32.3" r="1.9"/><circle cx="360.9" cy="32.3" r="1.9"/><circle cx="367.3" cy="32.3" r="1.9"/><circle cx="373.6" cy="32.3" r="1.9"/><circle cx="380" cy="32.3" r="1.9"/><circle cx="386.4" cy="32.3" r="1.9"/><circle cx="392.7" cy="32.3" r="1.9"/><circle cx="399.1" cy="32.3" r="1.9"/><circle cx="405.5" cy="32.3" r="1.9"/><circle cx="357.7" cy="34.1" r="1.9"/><circle cx="364.1" cy="34.1" r="1.9"/><circle cx="370.4" cy="34.1" r="1.9"/><circle cx="376.8" cy="34.1" r="1.9"/><circle cx="383.2" cy="34.1" r="1.9"/><circle cx="389.6" cy="34.1" r="1.9"/><circle cx="395.9" cy="34.1" r="1.9"/><circle cx="402.3" cy="34.1" r="1.9"/><circle cx="360.9" cy="35.9" r="1.9"/><circle cx="367.3" cy="35.9" r="1.9"/><circle cx="373.6" cy="35.9" r="1.9"/><circle cx="380" cy="35.9" r="1.9"/><circle cx="386.4" cy="35.9" r="1.9"/><circle cx="392.7" cy="35.9" r="1.9"/><circle cx="399.1" cy="35.9" r="1.9"/><circle cx="364.1" cy="37.7" r="1.9"/><circle cx="370.4" cy="37.7" r="1.9"/><circle cx="376.8" cy="37.7" r="1.9"/><circle cx="383.2" cy="37.7" r="1.9"/><circle cx="389.6" cy="37.7" r="1.9"/><circle cx="395.9" cy="37.7" r="1.9"/><circle cx="367.3" cy="39.5" r="1.9"/><circle cx="373.6" cy="39.5" r="1.9"/><circle cx="380" cy="39.5" r="1.9"/><circle cx="386.4" cy="39.5" r="1.9"/><circle cx="392.7" cy="39.5" r="1.9"/><circle cx="370.4" cy="41.3" r="1.9"/><circle cx="376.8" cy="41.3" r="1.9"/><circle cx="383.2" cy="41.3" r="1.9"/><circle cx="389.6" cy="41.3" r="1.9"/><circle cx="373.6" cy="43.1" r="1.9"/><circle cx="380" cy="43.1" r="1.9"/><circle cx="386.4" cy="43.1" r="1.9"/><circle cx="376.8" cy="44.9" r="1.9"/><circle cx="383.2" cy="44.9" r="1.9"/><circle cx="380" cy="46.8" r="1.9"/></g></g>
<g><g fill="url(#s_green)"><circle cx="471.5" cy="79" r="1.9"/><circle cx="468.3" cy="80.8" r="1.9"/><circle cx="474.7" cy="80.8" r="1.9"/><circle cx="465.1" cy="82.6" r="1.9"/><circle cx="471.5" cy="82.6" r="1.9"/><circle cx="477.9" cy="82.6" r="1.9"/><circle cx="461.9" cy="84.4" r="1.9"/><circle cx="468.3" cy="84.4" r="1.9"/><circle cx="474.7" cy="84.4" r="1.9"/><circle cx="481.1" cy="84.4" r="1.9"/><circle cx="458.8" cy="86.2" r="1.9"/><circle cx="465.1" cy="86.2" r="1.9"/><circle cx="471.5" cy="86.2" r="1.9"/><circle cx="477.9" cy="86.2" r="1.9"/><circle cx="484.2" cy="86.2" r="1.9"/><circle cx="455.6" cy="88" r="1.9"/><circle cx="461.9" cy="88" r="1.9"/><circle cx="468.3" cy="88" r="1.9"/><circle cx="474.7" cy="88" r="1.9"/><circle cx="481.1" cy="88" r="1.9"/><circle cx="487.4" cy="88" r="1.9"/><circle cx="452.4" cy="89.8" r="1.9"/><circle cx="458.8" cy="89.8" r="1.9"/><circle cx="465.1" cy="89.8" r="1.9"/><circle cx="471.5" cy="89.8" r="1.9"/><circle cx="477.9" cy="89.8" r="1.9"/><circle cx="484.2" cy="89.8" r="1.9"/><circle cx="490.6" cy="89.8" r="1.9"/><circle cx="449.2" cy="91.6" r="1.9"/><circle cx="455.6" cy="91.6" r="1.9"/><circle cx="461.9" cy="91.6" r="1.9"/><circle cx="468.3" cy="91.6" r="1.9"/><circle cx="474.7" cy="91.6" r="1.9"/><circle cx="481.1" cy="91.6" r="1.9"/><circle cx="487.4" cy="91.6" r="1.9"/><circle cx="493.8" cy="91.6" r="1.9"/><circle cx="446" cy="93.4" r="1.9"/><circle cx="452.4" cy="93.4" r="1.9"/><circle cx="458.8" cy="93.4" r="1.9"/><circle cx="465.1" cy="93.4" r="1.9"/><circle cx="471.5" cy="93.4" r="1.9"/><circle cx="477.9" cy="93.4" r="1.9"/><circle cx="484.2" cy="93.4" r="1.9"/><circle cx="490.6" cy="93.4" r="1.9"/><circle cx="497" cy="93.4" r="1.9"/><circle cx="442.9" cy="95.2" r="1.9"/><circle cx="449.2" cy="95.2" r="1.9"/><circle cx="455.6" cy="95.2" r="1.9"/><circle cx="461.9" cy="95.2" r="1.9"/><circle cx="468.3" cy="95.2" r="1.9"/><circle cx="474.7" cy="95.2" r="1.9"/><circle cx="481.1" cy="95.2" r="1.9"/><circle cx="487.4" cy="95.2" r="1.9"/><circle cx="493.8" cy="95.2" r="1.9"/><circle cx="500.1" cy="95.2" r="1.9"/><circle cx="446" cy="97" r="1.9"/><circle cx="452.4" cy="97" r="1.9"/><circle cx="458.8" cy="97" r="1.9"/><circle cx="465.1" cy="97" r="1.9"/><circle cx="471.5" cy="97" r="1.9"/><circle cx="477.9" cy="97" r="1.9"/><circle cx="484.2" cy="97" r="1.9"/><circle cx="490.6" cy="97" r="1.9"/><circle cx="497" cy="97" r="1.9"/><circle cx="449.2" cy="98.8" r="1.9"/><circle cx="455.6" cy="98.8" r="1.9"/><circle cx="461.9" cy="98.8" r="1.9"/><circle cx="468.3" cy="98.8" r="1.9"/><circle cx="474.7" cy="98.8" r="1.9"/><circle cx="481.1" cy="98.8" r="1.9"/><circle cx="487.4" cy="98.8" r="1.9"/><circle cx="493.8" cy="98.8" r="1.9"/><circle cx="452.4" cy="100.6" r="1.9"/><circle cx="458.8" cy="100.6" r="1.9"/><circle cx="465.1" cy="100.6" r="1.9"/><circle cx="471.5" cy="100.6" r="1.9"/><circle cx="477.9" cy="100.6" r="1.9"/><circle cx="484.2" cy="100.6" r="1.9"/><circle cx="490.6" cy="100.6" r="1.9"/><circle cx="455.6" cy="102.4" r="1.9"/><circle cx="461.9" cy="102.4" r="1.9"/><circle cx="468.3" cy="102.4" r="1.9"/><circle cx="474.7" cy="102.4" r="1.9"/><circle cx="481.1" cy="102.4" r="1.9"/><circle cx="487.4" cy="102.4" r="1.9"/><circle cx="458.8" cy="104.2" r="1.9"/><circle cx="465.1" cy="104.2" r="1.9"/><circle cx="471.5" cy="104.2" r="1.9"/><circle cx="477.9" cy="104.2" r="1.9"/><circle cx="484.2" cy="104.2" r="1.9"/><circle cx="461.9" cy="106" r="1.9"/><circle cx="468.3" cy="106" r="1.9"/><circle cx="474.7" cy="106" r="1.9"/><circle cx="481.1" cy="106" r="1.9"/><circle cx="465.1" cy="107.8" r="1.9"/><circle cx="471.5" cy="107.8" r="1.9"/><circle cx="477.9" cy="107.8" r="1.9"/><circle cx="468.3" cy="109.6" r="1.9"/><circle cx="474.7" cy="109.6" r="1.9"/><circle cx="471.5" cy="111.5" r="1.9"/></g></g>
<g><g fill="url(#s_green)"><circle cx="471.5" cy="65.8" r="1.9"/><circle cx="468.3" cy="67.6" r="1.9"/><circle cx="474.7" cy="67.6" r="1.9"/><circle cx="465.1" cy="69.4" r="1.9"/><circle cx="471.5" cy="69.4" r="1.9"/><circle cx="477.9" cy="69.4" r="1.9"/><circle cx="461.9" cy="71.2" r="1.9"/><circle cx="468.3" cy="71.2" r="1.9"/><circle cx="474.7" cy="71.2" r="1.9"/><circle cx="481.1" cy="71.2" r="1.9"/><circle cx="458.8" cy="73" r="1.9"/><circle cx="465.1" cy="73" r="1.9"/><circle cx="471.5" cy="73" r="1.9"/><circle cx="477.9" cy="73" r="1.9"/><circle cx="484.2" cy="73" r="1.9"/><circle cx="455.6" cy="74.8" r="1.9"/><circle cx="461.9" cy="74.8" r="1.9"/><circle cx="468.3" cy="74.8" r="1.9"/><circle cx="474.7" cy="74.8" r="1.9"/><circle cx="481.1" cy="74.8" r="1.9"/><circle cx="487.4" cy="74.8" r="1.9"/><circle cx="452.4" cy="76.6" r="1.9"/><circle cx="458.8" cy="76.6" r="1.9"/><circle cx="465.1" cy="76.6" r="1.9"/><circle cx="471.5" cy="76.6" r="1.9"/><circle cx="477.9" cy="76.6" r="1.9"/><circle cx="484.2" cy="76.6" r="1.9"/><circle cx="490.6" cy="76.6" r="1.9"/><circle cx="449.2" cy="78.4" r="1.9"/><circle cx="455.6" cy="78.4" r="1.9"/><circle cx="461.9" cy="78.4" r="1.9"/><circle cx="468.3" cy="78.4" r="1.9"/><circle cx="474.7" cy="78.4" r="1.9"/><circle cx="481.1" cy="78.4" r="1.9"/><circle cx="487.4" cy="78.4" r="1.9"/><circle cx="493.8" cy="78.4" r="1.9"/><circle cx="446" cy="80.2" r="1.9"/><circle cx="452.4" cy="80.2" r="1.9"/><circle cx="458.8" cy="80.2" r="1.9"/><circle cx="465.1" cy="80.2" r="1.9"/><circle cx="471.5" cy="80.2" r="1.9"/><circle cx="477.9" cy="80.2" r="1.9"/><circle cx="484.2" cy="80.2" r="1.9"/><circle cx="490.6" cy="80.2" r="1.9"/><circle cx="497" cy="80.2" r="1.9"/><circle cx="442.9" cy="82" r="1.9"/><circle cx="449.2" cy="82" r="1.9"/><circle cx="455.6" cy="82" r="1.9"/><circle cx="461.9" cy="82" r="1.9"/><circle cx="468.3" cy="82" r="1.9"/><circle cx="474.7" cy="82" r="1.9"/><circle cx="481.1" cy="82" r="1.9"/><circle cx="487.4" cy="82" r="1.9"/><circle cx="493.8" cy="82" r="1.9"/><circle cx="500.1" cy="82" r="1.9"/><circle cx="446" cy="83.8" r="1.9"/><circle cx="452.4" cy="83.8" r="1.9"/><circle cx="458.8" cy="83.8" r="1.9"/><circle cx="465.1" cy="83.8" r="1.9"/><circle cx="471.5" cy="83.8" r="1.9"/><circle cx="477.9" cy="83.8" r="1.9"/><circle cx="484.2" cy="83.8" r="1.9"/><circle cx="490.6" cy="83.8" r="1.9"/><circle cx="497" cy="83.8" r="1.9"/><circle cx="449.2" cy="85.6" r="1.9"/><circle cx="455.6" cy="85.6" r="1.9"/><circle cx="461.9" cy="85.6" r="1.9"/><circle cx="468.3" cy="85.6" r="1.9"/><circle cx="474.7" cy="85.6" r="1.9"/><circle cx="481.1" cy="85.6" r="1.9"/><circle cx="487.4" cy="85.6" r="1.9"/><circle cx="493.8" cy="85.6" r="1.9"/><circle cx="452.4" cy="87.4" r="1.9"/><circle cx="458.8" cy="87.4" r="1.9"/><circle cx="465.1" cy="87.4" r="1.9"/><circle cx="471.5" cy="87.4" r="1.9"/><circle cx="477.9" cy="87.4" r="1.9"/><circle cx="484.2" cy="87.4" r="1.9"/><circle cx="490.6" cy="87.4" r="1.9"/><circle cx="455.6" cy="89.2" r="1.9"/><circle cx="461.9" cy="89.2" r="1.9"/><circle cx="468.3" cy="89.2" r="1.9"/><circle cx="474.7" cy="89.2" r="1.9"/><circle cx="481.1" cy="89.2" r="1.9"/><circle cx="487.4" cy="89.2" r="1.9"/><circle cx="458.8" cy="91" r="1.9"/><circle cx="465.1" cy="91" r="1.9"/><circle cx="471.5" cy="91" r="1.9"/><circle cx="477.9" cy="91" r="1.9"/><circle cx="484.2" cy="91" r="1.9"/><circle cx="461.9" cy="92.8" r="1.9"/><circle cx="468.3" cy="92.8" r="1.9"/><circle cx="474.7" cy="92.8" r="1.9"/><circle cx="481.1" cy="92.8" r="1.9"/><circle cx="465.1" cy="94.6" r="1.9"/><circle cx="471.5" cy="94.6" r="1.9"/><circle cx="477.9" cy="94.6" r="1.9"/><circle cx="468.3" cy="96.4" r="1.9"/><circle cx="474.7" cy="96.4" r="1.9"/><circle cx="471.5" cy="98.2" r="1.9"/></g></g>
<g><g fill="url(#d_orange)"><circle cx="471.5" cy="49.6" r="1.9"/><circle cx="468.3" cy="51.4" r="1.9"/><circle cx="474.7" cy="51.4" r="1.9"/><circle cx="465.1" cy="53.2" r="1.9"/><circle cx="471.5" cy="53.2" r="1.9"/><circle cx="477.9" cy="53.2" r="1.9"/><circle cx="461.9" cy="55" r="1.9"/><circle cx="468.3" cy="55" r="1.9"/><circle cx="474.7" cy="55" r="1.9"/><circle cx="481.1" cy="55" r="1.9"/><circle cx="458.8" cy="56.8" r="1.9"/><circle cx="465.1" cy="56.8" r="1.9"/><circle cx="471.5" cy="56.8" r="1.9"/><circle cx="477.9" cy="56.8" r="1.9"/><circle cx="484.2" cy="56.8" r="1.9"/><circle cx="455.6" cy="58.6" r="1.9"/><circle cx="461.9" cy="58.6" r="1.9"/><circle cx="468.3" cy="58.6" r="1.9"/><circle cx="474.7" cy="58.6" r="1.9"/><circle cx="481.1" cy="58.6" r="1.9"/><circle cx="487.4" cy="58.6" r="1.9"/><circle cx="452.4" cy="60.4" r="1.9"/><circle cx="458.8" cy="60.4" r="1.9"/><circle cx="465.1" cy="60.4" r="1.9"/><circle cx="471.5" cy="60.4" r="1.9"/><circle cx="477.9" cy="60.4" r="1.9"/><circle cx="484.2" cy="60.4" r="1.9"/><circle cx="490.6" cy="60.4" r="1.9"/><circle cx="449.2" cy="62.2" r="1.9"/><circle cx="455.6" cy="62.2" r="1.9"/><circle cx="461.9" cy="62.2" r="1.9"/><circle cx="468.3" cy="62.2" r="1.9"/><circle cx="474.7" cy="62.2" r="1.9"/><circle cx="481.1" cy="62.2" r="1.9"/><circle cx="487.4" cy="62.2" r="1.9"/><circle cx="493.8" cy="62.2" r="1.9"/><circle cx="446" cy="64" r="1.9"/><circle cx="452.4" cy="64" r="1.9"/><circle cx="458.8" cy="64" r="1.9"/><circle cx="465.1" cy="64" r="1.9"/><circle cx="471.5" cy="64" r="1.9"/><circle cx="477.9" cy="64" r="1.9"/><circle cx="484.2" cy="64" r="1.9"/><circle cx="490.6" cy="64" r="1.9"/><circle cx="497" cy="64" r="1.9"/><circle cx="442.9" cy="65.8" r="1.9"/><circle cx="449.2" cy="65.8" r="1.9"/><circle cx="455.6" cy="65.8" r="1.9"/><circle cx="461.9" cy="65.8" r="1.9"/><circle cx="468.3" cy="65.8" r="1.9"/><circle cx="474.7" cy="65.8" r="1.9"/><circle cx="481.1" cy="65.8" r="1.9"/><circle cx="487.4" cy="65.8" r="1.9"/><circle cx="493.8" cy="65.8" r="1.9"/><circle cx="500.1" cy="65.8" r="1.9"/><circle cx="446" cy="67.6" r="1.9"/><circle cx="452.4" cy="67.6" r="1.9"/><circle cx="458.8" cy="67.6" r="1.9"/><circle cx="465.1" cy="67.6" r="1.9"/><circle cx="471.5" cy="67.6" r="1.9"/><circle cx="477.9" cy="67.6" r="1.9"/><circle cx="484.2" cy="67.6" r="1.9"/><circle cx="490.6" cy="67.6" r="1.9"/><circle cx="497" cy="67.6" r="1.9"/><circle cx="449.2" cy="69.4" r="1.9"/><circle cx="455.6" cy="69.4" r="1.9"/><circle cx="461.9" cy="69.4" r="1.9"/><circle cx="468.3" cy="69.4" r="1.9"/><circle cx="474.7" cy="69.4" r="1.9"/><circle cx="481.1" cy="69.4" r="1.9"/><circle cx="487.4" cy="69.4" r="1.9"/><circle cx="493.8" cy="69.4" r="1.9"/><circle cx="452.4" cy="71.2" r="1.9"/><circle cx="458.8" cy="71.2" r="1.9"/><circle cx="465.1" cy="71.2" r="1.9"/><circle cx="471.5" cy="71.2" r="1.9"/><circle cx="477.9" cy="71.2" r="1.9"/><circle cx="484.2" cy="71.2" r="1.9"/><circle cx="490.6" cy="71.2" r="1.9"/><circle cx="455.6" cy="73" r="1.9"/><circle cx="461.9" cy="73" r="1.9"/><circle cx="468.3" cy="73" r="1.9"/><circle cx="474.7" cy="73" r="1.9"/><circle cx="481.1" cy="73" r="1.9"/><circle cx="487.4" cy="73" r="1.9"/><circle cx="458.8" cy="74.8" r="1.9"/><circle cx="465.1" cy="74.8" r="1.9"/><circle cx="471.5" cy="74.8" r="1.9"/><circle cx="477.9" cy="74.8" r="1.9"/><circle cx="484.2" cy="74.8" r="1.9"/><circle cx="461.9" cy="76.6" r="1.9"/><circle cx="468.3" cy="76.6" r="1.9"/><circle cx="474.7" cy="76.6" r="1.9"/><circle cx="481.1" cy="76.6" r="1.9"/><circle cx="465.1" cy="78.4" r="1.9"/><circle cx="471.5" cy="78.4" r="1.9"/><circle cx="477.9" cy="78.4" r="1.9"/><circle cx="468.3" cy="80.2" r="1.9"/><circle cx="474.7" cy="80.2" r="1.9"/><circle cx="471.5" cy="82" r="1.9"/></g><g fill="url(#d_orange)"><circle cx="471.5" cy="46.6" r="1.9"/><circle cx="468.3" cy="48.4" r="1.9"/><circle cx="474.7" cy="48.4" r="1.9"/><circle cx="465.1" cy="50.2" r="1.9"/><circle cx="471.5" cy="50.2" r="1.9"/><circle cx="477.9" cy="50.2" r="1.9"/><circle cx="461.9" cy="52" r="1.9"/><circle cx="468.3" cy="52" r="1.9"/><circle cx="474.7" cy="52" r="1.9"/><circle cx="481.1" cy="52" r="1.9"/><circle cx="458.8" cy="53.8" r="1.9"/><circle cx="465.1" cy="53.8" r="1.9"/><circle cx="471.5" cy="53.8" r="1.9"/><circle cx="477.9" cy="53.8" r="1.9"/><circle cx="484.2" cy="53.8" r="1.9"/><circle cx="455.6" cy="55.6" r="1.9"/><circle cx="461.9" cy="55.6" r="1.9"/><circle cx="468.3" cy="55.6" r="1.9"/><circle cx="474.7" cy="55.6" r="1.9"/><circle cx="481.1" cy="55.6" r="1.9"/><circle cx="487.4" cy="55.6" r="1.9"/><circle cx="452.4" cy="57.4" r="1.9"/><circle cx="458.8" cy="57.4" r="1.9"/><circle cx="465.1" cy="57.4" r="1.9"/><circle cx="471.5" cy="57.4" r="1.9"/><circle cx="477.9" cy="57.4" r="1.9"/><circle cx="484.2" cy="57.4" r="1.9"/><circle cx="490.6" cy="57.4" r="1.9"/><circle cx="449.2" cy="59.2" r="1.9"/><circle cx="455.6" cy="59.2" r="1.9"/><circle cx="461.9" cy="59.2" r="1.9"/><circle cx="468.3" cy="59.2" r="1.9"/><circle cx="474.7" cy="59.2" r="1.9"/><circle cx="481.1" cy="59.2" r="1.9"/><circle cx="487.4" cy="59.2" r="1.9"/><circle cx="493.8" cy="59.2" r="1.9"/><circle cx="446" cy="61" r="1.9"/><circle cx="452.4" cy="61" r="1.9"/><circle cx="458.8" cy="61" r="1.9"/><circle cx="465.1" cy="61" r="1.9"/><circle cx="471.5" cy="61" r="1.9"/><circle cx="477.9" cy="61" r="1.9"/><circle cx="484.2" cy="61" r="1.9"/><circle cx="490.6" cy="61" r="1.9"/><circle cx="497" cy="61" r="1.9"/><circle cx="449.2" cy="62.8" r="1.9"/><circle cx="455.6" cy="62.8" r="1.9"/><circle cx="461.9" cy="62.8" r="1.9"/><circle cx="468.3" cy="62.8" r="1.9"/><circle cx="474.7" cy="62.8" r="1.9"/><circle cx="481.1" cy="62.8" r="1.9"/><circle cx="487.4" cy="62.8" r="1.9"/><circle cx="493.8" cy="62.8" r="1.9"/><circle cx="452.4" cy="64.6" r="1.9"/><circle cx="458.8" cy="64.6" r="1.9"/><circle cx="465.1" cy="64.6" r="1.9"/><circle cx="471.5" cy="64.6" r="1.9"/><circle cx="477.9" cy="64.6" r="1.9"/><circle cx="484.2" cy="64.6" r="1.9"/><circle cx="490.6" cy="64.6" r="1.9"/><circle cx="455.6" cy="66.4" r="1.9"/><circle cx="461.9" cy="66.4" r="1.9"/><circle cx="468.3" cy="66.4" r="1.9"/><circle cx="474.7" cy="66.4" r="1.9"/><circle cx="481.1" cy="66.4" r="1.9"/><circle cx="487.4" cy="66.4" r="1.9"/><circle cx="458.8" cy="68.2" r="1.9"/><circle cx="465.1" cy="68.2" r="1.9"/><circle cx="471.5" cy="68.2" r="1.9"/><circle cx="477.9" cy="68.2" r="1.9"/><circle cx="484.2" cy="68.2" r="1.9"/><circle cx="461.9" cy="70" r="1.9"/><circle cx="468.3" cy="70" r="1.9"/><circle cx="474.7" cy="70" r="1.9"/><circle cx="481.1" cy="70" r="1.9"/><circle cx="465.1" cy="71.8" r="1.9"/><circle cx="471.5" cy="71.8" r="1.9"/><circle cx="477.9" cy="71.8" r="1.9"/><circle cx="468.3" cy="73.6" r="1.9"/><circle cx="474.7" cy="73.6" r="1.9"/><circle cx="471.5" cy="75.4" r="1.9"/></g><g fill="url(#s_orange)"><circle cx="471.5" cy="40" r="1.9"/><circle cx="468.3" cy="41.8" r="1.9"/><circle cx="474.7" cy="41.8" r="1.9"/><circle cx="465.1" cy="43.6" r="1.9"/><circle cx="471.5" cy="43.6" r="1.9"/><circle cx="477.9" cy="43.6" r="1.9"/><circle cx="461.9" cy="45.4" r="1.9"/><circle cx="468.3" cy="45.4" r="1.9"/><circle cx="474.7" cy="45.4" r="1.9"/><circle cx="481.1" cy="45.4" r="1.9"/><circle cx="458.8" cy="47.2" r="1.9"/><circle cx="465.1" cy="47.2" r="1.9"/><circle cx="471.5" cy="47.2" r="1.9"/><circle cx="477.9" cy="47.2" r="1.9"/><circle cx="484.2" cy="47.2" r="1.9"/><circle cx="455.6" cy="49" r="1.9"/><circle cx="461.9" cy="49" r="1.9"/><circle cx="468.3" cy="49" r="1.9"/><circle cx="474.7" cy="49" r="1.9"/><circle cx="481.1" cy="49" r="1.9"/><circle cx="487.4" cy="49" r="1.9"/><circle cx="452.4" cy="50.8" r="1.9"/><circle cx="458.8" cy="50.8" r="1.9"/><circle cx="465.1" cy="50.8" r="1.9"/><circle cx="471.5" cy="50.8" r="1.9"/><circle cx="477.9" cy="50.8" r="1.9"/><circle cx="484.2" cy="50.8" r="1.9"/><circle cx="490.6" cy="50.8" r="1.9"/><circle cx="449.2" cy="52.6" r="1.9"/><circle cx="455.6" cy="52.6" r="1.9"/><circle cx="461.9" cy="52.6" r="1.9"/><circle cx="468.3" cy="52.6" r="1.9"/><circle cx="474.7" cy="52.6" r="1.9"/><circle cx="481.1" cy="52.6" r="1.9"/><circle cx="487.4" cy="52.6" r="1.9"/><circle cx="493.8" cy="52.6" r="1.9"/><circle cx="446" cy="54.4" r="1.9"/><circle cx="452.4" cy="54.4" r="1.9"/><circle cx="458.8" cy="54.4" r="1.9"/><circle cx="465.1" cy="54.4" r="1.9"/><circle cx="471.5" cy="54.4" r="1.9"/><circle cx="477.9" cy="54.4" r="1.9"/><circle cx="484.2" cy="54.4" r="1.9"/><circle cx="490.6" cy="54.4" r="1.9"/><circle cx="497" cy="54.4" r="1.9"/><circle cx="442.9" cy="56.2" r="1.9"/><circle cx="449.2" cy="56.2" r="1.9"/><circle cx="455.6" cy="56.2" r="1.9"/><circle cx="461.9" cy="56.2" r="1.9"/><circle cx="468.3" cy="56.2" r="1.9"/><circle cx="474.7" cy="56.2" r="1.9"/><circle cx="481.1" cy="56.2" r="1.9"/><circle cx="487.4" cy="56.2" r="1.9"/><circle cx="493.8" cy="56.2" r="1.9"/><circle cx="500.1" cy="56.2" r="1.9"/><circle cx="446" cy="58" r="1.9"/><circle cx="452.4" cy="58" r="1.9"/><circle cx="458.8" cy="58" r="1.9"/><circle cx="465.1" cy="58" r="1.9"/><circle cx="471.5" cy="58" r="1.9"/><circle cx="477.9" cy="58" r="1.9"/><circle cx="484.2" cy="58" r="1.9"/><circle cx="490.6" cy="58" r="1.9"/><circle cx="497" cy="58" r="1.9"/><circle cx="449.2" cy="59.8" r="1.9"/><circle cx="455.6" cy="59.8" r="1.9"/><circle cx="461.9" cy="59.8" r="1.9"/><circle cx="468.3" cy="59.8" r="1.9"/><circle cx="474.7" cy="59.8" r="1.9"/><circle cx="481.1" cy="59.8" r="1.9"/><circle cx="487.4" cy="59.8" r="1.9"/><circle cx="493.8" cy="59.8" r="1.9"/><circle cx="452.4" cy="61.6" r="1.9"/><circle cx="458.8" cy="61.6" r="1.9"/><circle cx="465.1" cy="61.6" r="1.9"/><circle cx="471.5" cy="61.6" r="1.9"/><circle cx="477.9" cy="61.6" r="1.9"/><circle cx="484.2" cy="61.6" r="1.9"/><circle cx="490.6" cy="61.6" r="1.9"/><circle cx="455.6" cy="63.4" r="1.9"/><circle cx="461.9" cy="63.4" r="1.9"/><circle cx="468.3" cy="63.4" r="1.9"/><circle cx="474.7" cy="63.4" r="1.9"/><circle cx="481.1" cy="63.4" r="1.9"/><circle cx="487.4" cy="63.4" r="1.9"/><circle cx="458.8" cy="65.2" r="1.9"/><circle cx="465.1" cy="65.2" r="1.9"/><circle cx="471.5" cy="65.2" r="1.9"/><circle cx="477.9" cy="65.2" r="1.9"/><circle cx="484.2" cy="65.2" r="1.9"/><circle cx="461.9" cy="67" r="1.9"/><circle cx="468.3" cy="67" r="1.9"/><circle cx="474.7" cy="67" r="1.9"/><circle cx="481.1" cy="67" r="1.9"/><circle cx="465.1" cy="68.8" r="1.9"/><circle cx="471.5" cy="68.8" r="1.9"/><circle cx="477.9" cy="68.8" r="1.9"/><circle cx="468.3" cy="70.6" r="1.9"/><circle cx="474.7" cy="70.6" r="1.9"/><circle cx="471.5" cy="72.5" r="1.9"/></g></g>
<g><g fill="url(#d_orange)"><circle cx="471.5" cy="23.9" r="1.9"/><circle cx="468.3" cy="25.7" r="1.9"/><circle cx="474.7" cy="25.7" r="1.9"/><circle cx="465.1" cy="27.5" r="1.9"/><circle cx="471.5" cy="27.5" r="1.9"/><circle cx="477.9" cy="27.5" r="1.9"/><circle cx="461.9" cy="29.3" r="1.9"/><circle cx="468.3" cy="29.3" r="1.9"/><circle cx="474.7" cy="29.3" r="1.9"/><circle cx="481.1" cy="29.3" r="1.9"/><circle cx="458.8" cy="31.1" r="1.9"/><circle cx="465.1" cy="31.1" r="1.9"/><circle cx="471.5" cy="31.1" r="1.9"/><circle cx="477.9" cy="31.1" r="1.9"/><circle cx="484.2" cy="31.1" r="1.9"/><circle cx="455.6" cy="32.9" r="1.9"/><circle cx="461.9" cy="32.9" r="1.9"/><circle cx="468.3" cy="32.9" r="1.9"/><circle cx="474.7" cy="32.9" r="1.9"/><circle cx="481.1" cy="32.9" r="1.9"/><circle cx="487.4" cy="32.9" r="1.9"/><circle cx="452.4" cy="34.7" r="1.9"/><circle cx="458.8" cy="34.7" r="1.9"/><circle cx="465.1" cy="34.7" r="1.9"/><circle cx="471.5" cy="34.7" r="1.9"/><circle cx="477.9" cy="34.7" r="1.9"/><circle cx="484.2" cy="34.7" r="1.9"/><circle cx="490.6" cy="34.7" r="1.9"/><circle cx="449.2" cy="36.5" r="1.9"/><circle cx="455.6" cy="36.5" r="1.9"/><circle cx="461.9" cy="36.5" r="1.9"/><circle cx="468.3" cy="36.5" r="1.9"/><circle cx="474.7" cy="36.5" r="1.9"/><circle cx="481.1" cy="36.5" r="1.9"/><circle cx="487.4" cy="36.5" r="1.9"/><circle cx="493.8" cy="36.5" r="1.9"/><circle cx="446" cy="38.3" r="1.9"/><circle cx="452.4" cy="38.3" r="1.9"/><circle cx="458.8" cy="38.3" r="1.9"/><circle cx="465.1" cy="38.3" r="1.9"/><circle cx="471.5" cy="38.3" r="1.9"/><circle cx="477.9" cy="38.3" r="1.9"/><circle cx="484.2" cy="38.3" r="1.9"/><circle cx="490.6" cy="38.3" r="1.9"/><circle cx="497" cy="38.3" r="1.9"/><circle cx="442.9" cy="40.1" r="1.9"/><circle cx="449.2" cy="40.1" r="1.9"/><circle cx="455.6" cy="40.1" r="1.9"/><circle cx="461.9" cy="40.1" r="1.9"/><circle cx="468.3" cy="40.1" r="1.9"/><circle cx="474.7" cy="40.1" r="1.9"/><circle cx="481.1" cy="40.1" r="1.9"/><circle cx="487.4" cy="40.1" r="1.9"/><circle cx="493.8" cy="40.1" r="1.9"/><circle cx="500.1" cy="40.1" r="1.9"/><circle cx="446" cy="41.9" r="1.9"/><circle cx="452.4" cy="41.9" r="1.9"/><circle cx="458.8" cy="41.9" r="1.9"/><circle cx="465.1" cy="41.9" r="1.9"/><circle cx="471.5" cy="41.9" r="1.9"/><circle cx="477.9" cy="41.9" r="1.9"/><circle cx="484.2" cy="41.9" r="1.9"/><circle cx="490.6" cy="41.9" r="1.9"/><circle cx="497" cy="41.9" r="1.9"/><circle cx="449.2" cy="43.7" r="1.9"/><circle cx="455.6" cy="43.7" r="1.9"/><circle cx="461.9" cy="43.7" r="1.9"/><circle cx="468.3" cy="43.7" r="1.9"/><circle cx="474.7" cy="43.7" r="1.9"/><circle cx="481.1" cy="43.7" r="1.9"/><circle cx="487.4" cy="43.7" r="1.9"/><circle cx="493.8" cy="43.7" r="1.9"/><circle cx="452.4" cy="45.5" r="1.9"/><circle cx="458.8" cy="45.5" r="1.9"/><circle cx="465.1" cy="45.5" r="1.9"/><circle cx="471.5" cy="45.5" r="1.9"/><circle cx="477.9" cy="45.5" r="1.9"/><circle cx="484.2" cy="45.5" r="1.9"/><circle cx="490.6" cy="45.5" r="1.9"/><circle cx="455.6" cy="47.3" r="1.9"/><circle cx="461.9" cy="47.3" r="1.9"/><circle cx="468.3" cy="47.3" r="1.9"/><circle cx="474.7" cy="47.3" r="1.9"/><circle cx="481.1" cy="47.3" r="1.9"/><circle cx="487.4" cy="47.3" r="1.9"/><circle cx="458.8" cy="49.1" r="1.9"/><circle cx="465.1" cy="49.1" r="1.9"/><circle cx="471.5" cy="49.1" r="1.9"/><circle cx="477.9" cy="49.1" r="1.9"/><circle cx="484.2" cy="49.1" r="1.9"/><circle cx="461.9" cy="50.9" r="1.9"/><circle cx="468.3" cy="50.9" r="1.9"/><circle cx="474.7" cy="50.9" r="1.9"/><circle cx="481.1" cy="50.9" r="1.9"/><circle cx="465.1" cy="52.7" r="1.9"/><circle cx="471.5" cy="52.7" r="1.9"/><circle cx="477.9" cy="52.7" r="1.9"/><circle cx="468.3" cy="54.5" r="1.9"/><circle cx="474.7" cy="54.5" r="1.9"/><circle cx="471.5" cy="56.4" r="1.9"/></g><g fill="url(#d_orange)"><circle cx="471.5" cy="20.9" r="1.9"/><circle cx="468.3" cy="22.7" r="1.9"/><circle cx="474.7" cy="22.7" r="1.9"/><circle cx="465.1" cy="24.5" r="1.9"/><circle cx="471.5" cy="24.5" r="1.9"/><circle cx="477.9" cy="24.5" r="1.9"/><circle cx="461.9" cy="26.3" r="1.9"/><circle cx="468.3" cy="26.3" r="1.9"/><circle cx="474.7" cy="26.3" r="1.9"/><circle cx="481.1" cy="26.3" r="1.9"/><circle cx="458.8" cy="28.1" r="1.9"/><circle cx="465.1" cy="28.1" r="1.9"/><circle cx="471.5" cy="28.1" r="1.9"/><circle cx="477.9" cy="28.1" r="1.9"/><circle cx="484.2" cy="28.1" r="1.9"/><circle cx="455.6" cy="29.9" r="1.9"/><circle cx="461.9" cy="29.9" r="1.9"/><circle cx="468.3" cy="29.9" r="1.9"/><circle cx="474.7" cy="29.9" r="1.9"/><circle cx="481.1" cy="29.9" r="1.9"/><circle cx="487.4" cy="29.9" r="1.9"/><circle cx="452.4" cy="31.7" r="1.9"/><circle cx="458.8" cy="31.7" r="1.9"/><circle cx="465.1" cy="31.7" r="1.9"/><circle cx="471.5" cy="31.7" r="1.9"/><circle cx="477.9" cy="31.7" r="1.9"/><circle cx="484.2" cy="31.7" r="1.9"/><circle cx="490.6" cy="31.7" r="1.9"/><circle cx="449.2" cy="33.5" r="1.9"/><circle cx="455.6" cy="33.5" r="1.9"/><circle cx="461.9" cy="33.5" r="1.9"/><circle cx="468.3" cy="33.5" r="1.9"/><circle cx="474.7" cy="33.5" r="1.9"/><circle cx="481.1" cy="33.5" r="1.9"/><circle cx="487.4" cy="33.5" r="1.9"/><circle cx="493.8" cy="33.5" r="1.9"/><circle cx="446" cy="35.3" r="1.9"/><circle cx="452.4" cy="35.3" r="1.9"/><circle cx="458.8" cy="35.3" r="1.9"/><circle cx="465.1" cy="35.3" r="1.9"/><circle cx="471.5" cy="35.3" r="1.9"/><circle cx="477.9" cy="35.3" r="1.9"/><circle cx="484.2" cy="35.3" r="1.9"/><circle cx="490.6" cy="35.3" r="1.9"/><circle cx="497" cy="35.3" r="1.9"/><circle cx="449.2" cy="37.1" r="1.9"/><circle cx="455.6" cy="37.1" r="1.9"/><circle cx="461.9" cy="37.1" r="1.9"/><circle cx="468.3" cy="37.1" r="1.9"/><circle cx="474.7" cy="37.1" r="1.9"/><circle cx="481.1" cy="37.1" r="1.9"/><circle cx="487.4" cy="37.1" r="1.9"/><circle cx="493.8" cy="37.1" r="1.9"/><circle cx="452.4" cy="38.9" r="1.9"/><circle cx="458.8" cy="38.9" r="1.9"/><circle cx="465.1" cy="38.9" r="1.9"/><circle cx="471.5" cy="38.9" r="1.9"/><circle cx="477.9" cy="38.9" r="1.9"/><circle cx="484.2" cy="38.9" r="1.9"/><circle cx="490.6" cy="38.9" r="1.9"/><circle cx="455.6" cy="40.7" r="1.9"/><circle cx="461.9" cy="40.7" r="1.9"/><circle cx="468.3" cy="40.7" r="1.9"/><circle cx="474.7" cy="40.7" r="1.9"/><circle cx="481.1" cy="40.7" r="1.9"/><circle cx="487.4" cy="40.7" r="1.9"/><circle cx="458.8" cy="42.5" r="1.9"/><circle cx="465.1" cy="42.5" r="1.9"/><circle cx="471.5" cy="42.5" r="1.9"/><circle cx="477.9" cy="42.5" r="1.9"/><circle cx="484.2" cy="42.5" r="1.9"/><circle cx="461.9" cy="44.3" r="1.9"/><circle cx="468.3" cy="44.3" r="1.9"/><circle cx="474.7" cy="44.3" r="1.9"/><circle cx="481.1" cy="44.3" r="1.9"/><circle cx="465.1" cy="46.1" r="1.9"/><circle cx="471.5" cy="46.1" r="1.9"/><circle cx="477.9" cy="46.1" r="1.9"/><circle cx="468.3" cy="47.9" r="1.9"/><circle cx="474.7" cy="47.9" r="1.9"/><circle cx="471.5" cy="49.7" r="1.9"/></g><g fill="url(#s_orange)"><circle cx="471.5" cy="14.2" r="1.9"/><circle cx="468.3" cy="16.1" r="1.9"/><circle cx="474.7" cy="16.1" r="1.9"/><circle cx="465.1" cy="17.9" r="1.9"/><circle cx="471.5" cy="17.9" r="1.9"/><circle cx="477.9" cy="17.9" r="1.9"/><circle cx="461.9" cy="19.7" r="1.9"/><circle cx="468.3" cy="19.7" r="1.9"/><circle cx="474.7" cy="19.7" r="1.9"/><circle cx="481.1" cy="19.7" r="1.9"/><circle cx="458.8" cy="21.5" r="1.9"/><circle cx="465.1" cy="21.5" r="1.9"/><circle cx="471.5" cy="21.5" r="1.9"/><circle cx="477.9" cy="21.5" r="1.9"/><circle cx="484.2" cy="21.5" r="1.9"/><circle cx="455.6" cy="23.3" r="1.9"/><circle cx="461.9" cy="23.3" r="1.9"/><circle cx="468.3" cy="23.3" r="1.9"/><circle cx="474.7" cy="23.3" r="1.9"/><circle cx="481.1" cy="23.3" r="1.9"/><circle cx="487.4" cy="23.3" r="1.9"/><circle cx="452.4" cy="25.1" r="1.9"/><circle cx="458.8" cy="25.1" r="1.9"/><circle cx="465.1" cy="25.1" r="1.9"/><circle cx="471.5" cy="25.1" r="1.9"/><circle cx="477.9" cy="25.1" r="1.9"/><circle cx="484.2" cy="25.1" r="1.9"/><circle cx="490.6" cy="25.1" r="1.9"/><circle cx="449.2" cy="26.9" r="1.9"/><circle cx="455.6" cy="26.9" r="1.9"/><circle cx="461.9" cy="26.9" r="1.9"/><circle cx="468.3" cy="26.9" r="1.9"/><circle cx="474.7" cy="26.9" r="1.9"/><circle cx="481.1" cy="26.9" r="1.9"/><circle cx="487.4" cy="26.9" r="1.9"/><circle cx="493.8" cy="26.9" r="1.9"/><circle cx="446" cy="28.7" r="1.9"/><circle cx="452.4" cy="28.7" r="1.9"/><circle cx="458.8" cy="28.7" r="1.9"/><circle cx="465.1" cy="28.7" r="1.9"/><circle cx="471.5" cy="28.7" r="1.9"/><circle cx="477.9" cy="28.7" r="1.9"/><circle cx="484.2" cy="28.7" r="1.9"/><circle cx="490.6" cy="28.7" r="1.9"/><circle cx="497" cy="28.7" r="1.9"/><circle cx="442.9" cy="30.5" r="1.9"/><circle cx="449.2" cy="30.5" r="1.9"/><circle cx="455.6" cy="30.5" r="1.9"/><circle cx="461.9" cy="30.5" r="1.9"/><circle cx="468.3" cy="30.5" r="1.9"/><circle cx="474.7" cy="30.5" r="1.9"/><circle cx="481.1" cy="30.5" r="1.9"/><circle cx="487.4" cy="30.5" r="1.9"/><circle cx="493.8" cy="30.5" r="1.9"/><circle cx="500.1" cy="30.5" r="1.9"/><circle cx="446" cy="32.3" r="1.9"/><circle cx="452.4" cy="32.3" r="1.9"/><circle cx="458.8" cy="32.3" r="1.9"/><circle cx="465.1" cy="32.3" r="1.9"/><circle cx="471.5" cy="32.3" r="1.9"/><circle cx="477.9" cy="32.3" r="1.9"/><circle cx="484.2" cy="32.3" r="1.9"/><circle cx="490.6" cy="32.3" r="1.9"/><circle cx="497" cy="32.3" r="1.9"/><circle cx="449.2" cy="34.1" r="1.9"/><circle cx="455.6" cy="34.1" r="1.9"/><circle cx="461.9" cy="34.1" r="1.9"/><circle cx="468.3" cy="34.1" r="1.9"/><circle cx="474.7" cy="34.1" r="1.9"/><circle cx="481.1" cy="34.1" r="1.9"/><circle cx="487.4" cy="34.1" r="1.9"/><circle cx="493.8" cy="34.1" r="1.9"/><circle cx="452.4" cy="35.9" r="1.9"/><circle cx="458.8" cy="35.9" r="1.9"/><circle cx="465.1" cy="35.9" r="1.9"/><circle cx="471.5" cy="35.9" r="1.9"/><circle cx="477.9" cy="35.9" r="1.9"/><circle cx="484.2" cy="35.9" r="1.9"/><circle cx="490.6" cy="35.9" r="1.9"/><circle cx="455.6" cy="37.7" r="1.9"/><circle cx="461.9" cy="37.7" r="1.9"/><circle cx="468.3" cy="37.7" r="1.9"/><circle cx="474.7" cy="37.7" r="1.9"/><circle cx="481.1" cy="37.7" r="1.9"/><circle cx="487.4" cy="37.7" r="1.9"/><circle cx="458.8" cy="39.5" r="1.9"/><circle cx="465.1" cy="39.5" r="1.9"/><circle cx="471.5" cy="39.5" r="1.9"/><circle cx="477.9" cy="39.5" r="1.9"/><circle cx="484.2" cy="39.5" r="1.9"/><circle cx="461.9" cy="41.3" r="1.9"/><circle cx="468.3" cy="41.3" r="1.9"/><circle cx="474.7" cy="41.3" r="1.9"/><circle cx="481.1" cy="41.3" r="1.9"/><circle cx="465.1" cy="43.1" r="1.9"/><circle cx="471.5" cy="43.1" r="1.9"/><circle cx="477.9" cy="43.1" r="1.9"/><circle cx="468.3" cy="44.9" r="1.9"/><circle cx="474.7" cy="44.9" r="1.9"/><circle cx="471.5" cy="46.8" r="1.9"/></g></g>
<line x1="324" y1="34.6" x2="338.7" y2="34.6" stroke="#111" stroke-width="1"/>
<polygon points="341.7,34.6 337.7,32.6 337.7,36.6" fill="#111"/>
<line x1="418.6" y1="33.8" x2="433.7" y2="33.8" stroke="#111" stroke-width="1"/>
<polygon points="436.7,33.8 432.7,31.8 432.7,35.8" fill="#111"/>
<text transform="translate(302,13.5) rotate(30)" font-size="3.2" fill="#902020">PbI<tspan font-size="2.2">2</tspan></text>
<text transform="translate(395,13.5) rotate(30)" font-size="3.2" fill="#902020">PbI<tspan font-size="2.2">2</tspan></text>
<text transform="translate(272,106) rotate(30)" font-size="3.2" fill="#28285a">PbBr<tspan font-size="2.2">2</tspan></text>
<text transform="translate(365,106) rotate(30)" font-size="3.2" fill="#28285a">PbBr<tspan font-size="2.2">2</tspan></text>
<text transform="translate(252.8,78.5) rotate(-90)" font-size="3" fill="#3a3a5a">Br⁻ free</text>
<line x1="255.6" y1="68" x2="255.6" y2="81" stroke="#28285a" stroke-width="0.4"/>
<text transform="translate(318.5,67) rotate(90)" font-size="3" fill="#a02828">I⁻ free</text>
<line x1="316.8" y1="67" x2="316.8" y2="80" stroke="#a02828" stroke-width="0.4"/>
<text transform="translate(341,82) rotate(-90)" font-size="3" fill="#20a060">Br-I</text>
<text transform="translate(344.5,82) rotate(-90)" font-size="3" fill="#20a060">mix</text>
<text transform="translate(433,84) rotate(-90)" font-size="3" fill="#20a060">Br-I</text>
<text transform="translate(436.5,84) rotate(-90)" font-size="3" fill="#20a060">mix</text>
<text transform="translate(413.5,36) rotate(90)" font-size="3" fill="#c05a2a">Interdiffusion</text>
<text transform="translate(417.2,44) rotate(90)" font-size="3" fill="#c05a2a">I-rich</text>
<text transform="translate(506,32) rotate(90)" font-size="3" fill="#c05a2a">Interdiffusion and</text>
<text transform="translate(509.8,38) rotate(90)" font-size="3" fill="#c05a2a">I-rich phase</text>
<defs><filter id="blm" x="-10%" y="-10%" width="120%" height="120%"><feGaussianBlur stdDeviation="0.9"/></filter><filter id="blg" x="-50%" y="-50%" width="200%" height="200%"><feGaussianBlur stdDeviation="4"/></filter></defs>
<svg x="243.2" y="127.4" width="48" height="47.9" viewBox="0 0 48 47.9" overflow="hidden"><rect width="48" height="48" fill="#559c3c"/><g filter="url(#blm)"><polygon points="31,-2 50,-2 50,13" fill="#2c6c64" opacity="0.9"/><polygon points="2,25.5 23,15.6 39,8.4 50,6.2 50,18.6 40,20 23,29 5,37.6 -2,40 -2,28" fill="#a66a34"/><polygon points="24,19 39,11 48,8.5 48,14 40,16 24,24" fill="#c08848" opacity="0.6"/><polygon points="5,37 23,28.5 40,19.5 50,18.4 50,50 12,50" fill="#62a040"/><polygon points="-2,44 9,37 12,50 -2,50" fill="#4a2c6a"/></g><path d="M2,25.5 L23,15.4 L39,8.2 L47.5,6.2" fill="none" stroke="#f0e0b0" stroke-width="0.5" stroke-dasharray="0.7,0.9" opacity="0.85"/><path d="M5,37.2 L14,32.6 L23,28.7 L32,24.4 L40,19.8 L47.5,18.6" fill="none" stroke="#f0e8b8" stroke-width="0.55" stroke-dasharray="0.7,0.9" opacity="0.9"/><rect x="16" y="44.1" width="30.5" height="1.2" fill="#f4f0d8"/><circle cx="2.6" cy="2.6" r="0.9" fill="#fff"/><text x="13" y="12" font-size="2.5" fill="#b0d090">i</text><circle cx="25.5" cy="36" r="1.6" fill="#9ab0a8" opacity="0.7"/><text x="13" y="29" font-size="2.5" fill="#e0b070">het</text></svg>
<svg x="293.6" y="127.4" width="48" height="47.9" viewBox="0 0 48 47.9" overflow="hidden"><rect width="48" height="48" fill="#b0143e"/><ellipse cx="46" cy="4" rx="12" ry="9" fill="#f03060" filter="url(#blg)"/><g filter="url(#blm)"><polygon points="31,-2 50,-2 50,13" fill="#e02850" opacity="0.9"/><polygon points="2,25.5 23,15.6 39,8.4 50,6.2 50,18.6 40,20 23,29 5,37.6 -2,40 -2,28" fill="#641c40"/><polygon points="5,37 23,28.5 40,19.5 50,18.4 50,50 12,50" fill="#62248e"/><ellipse cx="40" cy="38" rx="12" ry="10" fill="#7a3aa8" opacity="0.6"/><polygon points="-2,44 9,37 12,50 -2,50" fill="#9a1030"/></g><path d="M2,25.5 L23,15.4 L39,8.2 L47.5,6.2" fill="none" stroke="#f0e0b0" stroke-width="0.5" stroke-dasharray="0.7,0.9" opacity="0.85"/><path d="M5,37.2 L14,32.6 L23,28.7 L32,24.4 L40,19.8 L47.5,18.6" fill="none" stroke="#f0e8b8" stroke-width="0.55" stroke-dasharray="0.7,0.9" opacity="0.9"/><rect x="16" y="44.1" width="30.5" height="1.2" fill="#e8c0f0"/><circle cx="23" cy="21.4" r="2.4" fill="none" stroke="#fff" stroke-width="0.6"/><circle cx="23" cy="21.4" r="0.9" fill="#2a0a1a"/><rect x="1" y="1" width="1" height="2" fill="#fff"/></svg>
<svg x="343.9" y="127.4" width="48" height="47.9" viewBox="0 0 48 47.9" overflow="hidden"><rect width="48" height="48" fill="#b81830"/><ellipse cx="46" cy="4" rx="12" ry="9" fill="#ee2a40" filter="url(#blg)"/><g filter="url(#blm)"><polygon points="31,-2 50,-2 50,13" fill="#d82040" opacity="0.9"/><polygon points="2,25.5 23,15.6 39,8.4 50,6.2 50,18.6 40,20 23,29 5,37.6 -2,40 -2,28" fill="#40a040"/><polygon points="24,19 39,11 48,8.5 48,14 40,16 24,24" fill="#60b860" opacity="0.6"/><polygon points="5,37 23,28.5 40,19.5 50,18.4 50,50 12,50" fill="#3c2058"/><ellipse cx="40" cy="38" rx="12" ry="10" fill="#4a2e6a" opacity="0.6"/><polygon points="-2,44 9,37 12,50 -2,50" fill="#5a1020"/></g><path d="M2,25.5 L23,15.4 L39,8.2 L47.5,6.2" fill="none" stroke="#f0e0b0" stroke-width="0.5" stroke-dasharray="0.7,0.9" opacity="0.85"/><path d="M5,37.2 L14,32.6 L23,28.7 L32,24.4 L40,19.8 L47.5,18.6" fill="none" stroke="#f0e8b8" stroke-width="0.55" stroke-dasharray="0.7,0.9" opacity="0.9"/><rect x="16" y="44.1" width="30.5" height="1.2" fill="#e8c8f0"/><rect x="1.5" y="1.5" width="2" height="1.4" fill="#fff"/><circle cx="4" cy="40" r="1.6" fill="#e0a080" opacity="0.8"/></svg>
<svg x="394.1" y="127.4" width="48" height="47.9" viewBox="0 0 48 47.9" overflow="hidden"><rect width="48" height="48" fill="#b3142c"/><ellipse cx="46" cy="4" rx="12" ry="9" fill="#ee3040" filter="url(#blg)"/><g filter="url(#blm)"><polygon points="31,-2 50,-2 50,13" fill="#e02a40" opacity="0.9"/><polygon points="2,25.5 23,15.6 39,8.4 50,6.2 50,18.6 40,20 23,29 5,37.6 -2,40 -2,28" fill="#2aa84a"/><polygon points="24,19 39,11 48,8.5 48,14 40,16 24,24" fill="#40c060" opacity="0.6"/><polygon points="5,37 23,28.5 40,19.5 50,18.4 50,50 12,50" fill="#3a1c48"/><ellipse cx="40" cy="38" rx="12" ry="10" fill="#503060" opacity="0.6"/><polygon points="-2,44 9,37 12,50 -2,50" fill="#4a0e18"/></g><path d="M2,25.5 L23,15.4 L39,8.2 L47.5,6.2" fill="none" stroke="#f0e0b0" stroke-width="0.5" stroke-dasharray="0.7,0.9" opacity="0.85"/><path d="M5,37.2 L14,32.6 L23,28.7 L32,24.4 L40,19.8 L47.5,18.6" fill="none" stroke="#f0e8b8" stroke-width="0.55" stroke-dasharray="0.7,0.9" opacity="0.9"/><rect x="16" y="44.1" width="30.5" height="1.2" fill="#e8c8f0"/><rect x="1.5" y="1.5" width="1.6" height="1.6" fill="#fff"/></svg>
<g>
<rect x="455.2" y="123" width="61" height="47" fill="none" stroke="#777" stroke-width="0.5"/>
<text x="456.6" y="175" font-size="3.4" fill="#333" text-anchor="middle">400</text>
<text x="466.2" y="175" font-size="3.4" fill="#333" text-anchor="middle">450</text>
<text x="475.7" y="175" font-size="3.4" fill="#333" text-anchor="middle">500</text>
<text x="485.3" y="175" font-size="3.4" fill="#333" text-anchor="middle">550</text>
<text x="494.9" y="175" font-size="3.4" fill="#333" text-anchor="middle">600</text>
<text x="504.4" y="175" font-size="3.4" fill="#333" text-anchor="middle">650</text>
<text x="514" y="175" font-size="3.4" fill="#333" text-anchor="middle">700</text>
<text x="483.7" y="180.6" font-size="3.6" fill="#333" text-anchor="middle">Wavelength (nm)</text>
<text transform="translate(452.8,149) rotate(-90)" font-size="3.4" fill="#333" text-anchor="middle">PL intensity (a.u.)</text>
<path d="M454.8,168.4 455.2,168.3 455.6,168.1 456,167.9 456.4,167.7 456.8,167.3 457.2,167 457.6,166.8 458,166.7 458.4,167 458.8,167.3 459.2,167.6 459.6,167.9 460,168 460.4,168.2 460.8,168.3 461.2,168.3 461.6,168.4 462,168.4 462.4,168.4 462.8,168.4 463.2,168.5 463.6,168.5 464,168.5 464.4,168.5 464.8,168.5 465.2,168.4 465.6,168.4 466,168.4 466.4,168.4 466.8,168.4 467.2,168.4 467.6,168.4 468,168.3 468.4,168.3 468.8,168.3 469.2,168.2 469.6,168.2 470,168.2 470.4,168.1 470.8,168.1 471.2,168 471.6,168 472,167.9 472.4,167.8 472.8,167.7 473.2,167.6 473.6,167.5 474,167.3 474.4,167.1 474.8,166.9 475.2,166.7 475.6,166.4 476,166 476.4,165.7 476.8,165.2 477.2,164.8 477.6,164.5 478,164.2 478.4,164.1 478.8,164.2 479.2,164.5 479.6,164.8 480,165.2 480.4,165.5 480.8,165.8 481.2,166.1 481.6,166.2 482,166.4 482.4,166.5 482.8,166.6 483.2,166.7 483.6,166.7 484,166.7 484.4,166.7 484.8,166.6 485.2,166.6 485.6,166.5 486,166.5 486.4,166.4 486.8,166.2 487.2,166.1 487.6,166 488,165.8 488.4,165.6 488.8,165.4 489.2,165.1 489.6,164.9 490,164.5 490.4,164.2 490.8,163.8 491.2,163.3 491.6,162.8 492,162.2 492.4,161.5 492.8,160.7 493.2,159.7 493.6,158.6 494,157.4 494.4,155.9 494.8,154.1 495.2,152.1 495.6,149.7 496,147 496.4,143.9 496.8,140.5 497.2,137 497.6,133.6 498,130.7 498.4,128.6 498.8,127.9 499.2,128.7 499.6,130.7 500,133.6 500.4,137 500.8,140.6 501.2,143.9 501.6,147 502,149.8 502.4,152.1 502.8,154.2 503.2,155.9 503.6,157.4 504,158.7 504.4,159.8 504.8,160.8 505.2,161.6 505.6,162.3 506,162.9 506.4,163.4 506.8,163.9 507.2,164.3 507.6,164.7 508,165 508.4,165.3 508.8,165.6 509.2,165.8 509.6,166 510,166.2 510.4,166.4 510.8,166.6 511.2,166.7 511.6,166.8 512,167 512.4,167.1 512.8,167.2 513.2,167.3 513.6,167.4 514,167.4 514.4,167.5 514.8,167.6 515.2,167.7 515.6,167.7 516,167.8 516.4,167.8" fill="none" stroke="#eaa890" stroke-width="0.9"/>
<path d="M454.8,168 455.2,167.9 455.6,167.7 456,167.4 456.4,167 456.8,166.5 457.2,166 457.6,165.6 458,165.6 458.4,165.9 458.8,166.4 459.2,166.9 459.6,167.2 460,167.5 460.4,167.7 460.8,167.8 461.2,167.9 461.6,167.9 462,168 462.4,168 462.8,168 463.2,168 463.6,168 464,168 464.4,168 464.8,168 465.2,167.9 465.6,167.9 466,167.9 466.4,167.8 466.8,167.7 467.2,167.7 467.6,167.6 468,167.5 468.4,167.5 468.8,167.4 469.2,167.2 469.6,167.1 470,167 470.4,166.8 470.8,166.6 471.2,166.4 471.6,166.2 472,165.9 472.4,165.6 472.8,165.2 473.2,164.8 473.6,164.3 474,163.7 474.4,162.9 474.8,162.1 475.2,161 475.6,159.8 476,158.3 476.4,156.6 476.8,154.9 477.2,153.1 477.6,151.5 478,150.5 478.4,150.3 478.8,150.9 479.2,152.1 479.6,153.8 480,155.5 480.4,157.2 480.8,158.7 481.2,160 481.6,161.1 482,162 482.4,162.7 482.8,163.3 483.2,163.8 483.6,164.2 484,164.5 484.4,164.8 484.8,165 485.2,165.2 485.6,165.3 486,165.4 486.4,165.4 486.8,165.5 487.2,165.4 487.6,165.4 488,165.4 488.4,165.3 488.8,165.1 489.2,165 489.6,164.8 490,164.6 490.4,164.4 490.8,164.1 491.2,163.7 491.6,163.3 492,162.8 492.4,162.3 492.8,161.6 493.2,160.9 493.6,160 494,159 494.4,157.7 494.8,156.3 495.2,154.6 495.6,152.7 496,150.4 496.4,147.9 496.8,145.1 497.2,142.2 497.6,139.4 498,136.9 498.4,135.3 498.8,134.7 499.2,135.3 499.6,137 500,139.4 500.4,142.3 500.8,145.2 501.2,148 501.6,150.6 502,152.9 502.4,154.9 502.8,156.6 503.2,158 503.6,159.3 504,160.3 504.4,161.2 504.8,162 505.2,162.7 505.6,163.3 506,163.8 506.4,164.3 506.8,164.7 507.2,165 507.6,165.3 508,165.6 508.4,165.8 508.8,166.1 509.2,166.3 509.6,166.4 510,166.6 510.4,166.7 510.8,166.9 511.2,167 511.6,167.1 512,167.2 512.4,167.3 512.8,167.4 513.2,167.5 513.6,167.6 514,167.6 514.4,167.7 514.8,167.8 515.2,167.8 515.6,167.9 516,167.9 516.4,168" fill="none" stroke="#d4b050" stroke-width="0.8"/>
<path d="M454.8,168 455.2,167.8 455.6,167.5 456,167.1 456.4,166.6 456.8,166 457.2,165.3 457.6,164.8 458,164.8 458.4,165.3 458.8,166 459.2,166.6 459.6,167.1 460,167.4 460.4,167.7 460.8,167.9 461.2,168 461.6,168.1 462,168.2 462.4,168.2 462.8,168.3 463.2,168.3 463.6,168.3 464,168.3 464.4,168.4 464.8,168.4 465.2,168.3 465.6,168.3 466,168.3 466.4,168.3 466.8,168.3 467.2,168.3 467.6,168.2 468,168.2 468.4,168.2 468.8,168.1 469.2,168.1 469.6,168 470,168 470.4,167.9 470.8,167.8 471.2,167.7 471.6,167.6 472,167.5 472.4,167.4 472.8,167.2 473.2,167 473.6,166.8 474,166.5 474.4,166.1 474.8,165.8 475.2,165.3 475.6,164.7 476,164.1 476.4,163.3 476.8,162.5 477.2,161.7 477.6,161 478,160.6 478.4,160.5 478.8,160.7 479.2,161.3 479.6,162 480,162.8 480.4,163.5 480.8,164.2 481.2,164.7 481.6,165.2 482,165.6 482.4,165.9 482.8,166.2 483.2,166.4 483.6,166.5 484,166.7 484.4,166.8 484.8,166.8 485.2,166.9 485.6,166.9 486,166.9 486.4,166.9 486.8,166.9 487.2,166.9 487.6,166.8 488,166.7 488.4,166.6 488.8,166.5 489.2,166.4 489.6,166.3 490,166.1 490.4,165.9 490.8,165.7 491.2,165.4 491.6,165.1 492,164.8 492.4,164.4 492.8,163.9 493.2,163.4 493.6,162.8 494,162 494.4,161.2 494.8,160.2 495.2,159 495.6,157.6 496,156 496.4,154.2 496.8,152.2 497.2,150.2 497.6,148.2 498,146.5 498.4,145.3 498.8,144.9 499.2,145.3 499.6,146.5 500,148.2 500.4,150.2 500.8,152.3 501.2,154.3 501.6,156.1 502,157.7 502.4,159.1 502.8,160.3 503.2,161.3 503.6,162.2 504,162.9 504.4,163.6 504.8,164.1 505.2,164.6 505.6,165 506,165.4 506.4,165.7 506.8,166 507.2,166.2 507.6,166.4 508,166.6 508.4,166.8 508.8,167 509.2,167.1 509.6,167.2 510,167.3 510.4,167.4 510.8,167.5 511.2,167.6 511.6,167.7 512,167.8 512.4,167.8 512.8,167.9 513.2,168 513.6,168 514,168.1 514.4,168.1 514.8,168.1 515.2,168.2 515.6,168.2 516,168.3 516.4,168.3" fill="none" stroke="#e070a8" stroke-width="0.8"/>
<path d="M454.8,168.2 455.2,168.1 455.6,167.8 456,167.6 456.4,167.2 456.8,166.7 457.2,166.2 457.6,165.8 458,165.8 458.4,166.2 458.8,166.7 459.2,167.1 459.6,167.5 460,167.8 460.4,168 460.8,168.1 461.2,168.2 461.6,168.3 462,168.3 462.4,168.4 462.8,168.4 463.2,168.4 463.6,168.4 464,168.5 464.4,168.5 464.8,168.5 465.2,168.4 465.6,168.4 466,168.4 466.4,168.4 466.8,168.4 467.2,168.4 467.6,168.4 468,168.3 468.4,168.3 468.8,168.3 469.2,168.2 469.6,168.2 470,168.1 470.4,168.1 470.8,168 471.2,167.9 471.6,167.9 472,167.8 472.4,167.7 472.8,167.5 473.2,167.4 473.6,167.2 474,167 474.4,166.7 474.8,166.4 475.2,166.1 475.6,165.7 476,165.2 476.4,164.6 476.8,164 477.2,163.4 477.6,162.9 478,162.5 478.4,162.4 478.8,162.6 479.2,163 479.6,163.6 480,164.1 480.4,164.7 480.8,165.2 481.2,165.6 481.6,165.9 482,166.2 482.4,166.4 482.8,166.6 483.2,166.7 483.6,166.9 484,166.9 484.4,167 484.8,167 485.2,167 485.6,167 486,167 486.4,167 486.8,166.9 487.2,166.9 487.6,166.8 488,166.7 488.4,166.6 488.8,166.5 489.2,166.4 489.6,166.2 490,166 490.4,165.8 490.8,165.5 491.2,165.3 491.6,164.9 492,164.5 492.4,164.1 492.8,163.6 493.2,163 493.6,162.3 494,161.5 494.4,160.6 494.8,159.5 495.2,158.2 495.6,156.7 496,155 496.4,153 496.8,150.9 497.2,148.6 497.6,146.5 498,144.6 498.4,143.4 498.8,142.9 499.2,143.4 499.6,144.6 500,146.5 500.4,148.7 500.8,150.9 501.2,153.1 501.6,155 502,156.8 502.4,158.3 502.8,159.6 503.2,160.7 503.6,161.6 504,162.4 504.4,163.1 504.8,163.7 505.2,164.3 505.6,164.7 506,165.1 506.4,165.4 506.8,165.7 507.2,166 507.6,166.2 508,166.5 508.4,166.6 508.8,166.8 509.2,167 509.6,167.1 510,167.2 510.4,167.3 510.8,167.4 511.2,167.5 511.6,167.6 512,167.7 512.4,167.8 512.8,167.8 513.2,167.9 513.6,167.9 514,168 514.4,168 514.8,168.1 515.2,168.1 515.6,168.2 516,168.2 516.4,168.2" fill="none" stroke="#b02a90" stroke-width="0.8"/>
<path d="M454.8,168 455.2,167.8 455.6,167.5 456,167.2 456.4,166.7 456.8,166 457.2,165.3 457.6,164.9 458,164.8 458.4,165.3 458.8,166 459.2,166.6 459.6,167.1 460,167.5 460.4,167.7 460.8,167.9 461.2,168.1 461.6,168.2 462,168.2 462.4,168.3 462.8,168.3 463.2,168.4 463.6,168.4 464,168.4 464.4,168.4 464.8,168.4 465.2,168.4 465.6,168.4 466,168.4 466.4,168.4 466.8,168.4 467.2,168.4 467.6,168.4 468,168.3 468.4,168.3 468.8,168.3 469.2,168.2 469.6,168.2 470,168.1 470.4,168.1 470.8,168 471.2,168 471.6,167.9 472,167.8 472.4,167.7 472.8,167.5 473.2,167.4 473.6,167.2 474,167 474.4,166.8 474.8,166.5 475.2,166.1 475.6,165.7 476,165.2 476.4,164.6 476.8,164 477.2,163.4 477.6,162.9 478,162.6 478.4,162.5 478.8,162.7 479.2,163.1 479.6,163.6 480,164.2 480.4,164.7 480.8,165.2 481.2,165.6 481.6,166 482,166.3 482.4,166.5 482.8,166.7 483.2,166.8 483.6,166.9 484,167 484.4,167.1 484.8,167.1 485.2,167.1 485.6,167.1 486,167.1 486.4,167.1 486.8,167.1 487.2,167 487.6,166.9 488,166.9 488.4,166.8 488.8,166.7 489.2,166.5 489.6,166.4 490,166.2 490.4,166 490.8,165.8 491.2,165.5 491.6,165.2 492,164.9 492.4,164.5 492.8,164 493.2,163.5 493.6,162.8 494,162.1 494.4,161.2 494.8,160.2 495.2,159 495.6,157.6 496,156 496.4,154.2 496.8,152.3 497.2,150.2 497.6,148.2 498,146.5 498.4,145.3 498.8,144.9 499.2,145.3 499.6,146.5 500,148.2 500.4,150.2 500.8,152.3 501.2,154.3 501.6,156.1 502,157.7 502.4,159.1 502.8,160.3 503.2,161.3 503.6,162.2 504,162.9 504.4,163.6 504.8,164.1 505.2,164.6 505.6,165 506,165.4 506.4,165.7 506.8,166 507.2,166.2 507.6,166.5 508,166.6 508.4,166.8 508.8,167 509.2,167.1 509.6,167.2 510,167.3 510.4,167.5 510.8,167.5 511.2,167.6 511.6,167.7 512,167.8 512.4,167.8 512.8,167.9 513.2,168 513.6,168 514,168.1 514.4,168.1 514.8,168.2 515.2,168.2 515.6,168.2 516,168.3 516.4,168.3" fill="none" stroke="#3a2a80" stroke-width="0.8"/>
<path d="M454.8,168.5 455.2,168.5 455.6,168.5 456,168.5 456.4,168.5 456.8,168.4 457.2,168.4 457.6,168.4 458,168.4 458.4,168.4 458.8,168.3 459.2,168.3 459.6,168.3 460,168.2 460.4,168.2 460.8,168.2 461.2,168.2 461.6,168.1 462,168.1 462.4,168 462.8,168 463.2,167.9 463.6,167.9 464,167.8 464.4,167.8 464.8,167.7 465.2,167.6 465.6,167.6 466,167.5 466.4,167.4 466.8,167.3 467.2,167.2 467.6,167 468,166.9 468.4,166.7 468.8,166.6 469.2,166.4 469.6,166.2 470,165.9 470.4,165.7 470.8,165.3 471.2,165 471.6,164.6 472,164.1 472.4,163.5 472.8,162.9 473.2,162.1 473.6,161.2 474,160.1 474.4,158.9 474.8,157.3 475.2,155.5 475.6,153.3 476,150.7 476.4,147.8 476.8,144.6 477.2,141.5 477.6,138.8 478,137 478.4,136.6 478.8,137.7 479.2,140 479.6,142.9 480,146.1 480.4,149.1 480.8,151.8 481.2,154.2 481.6,156.2 482,157.8 482.4,159.2 482.8,160.3 483.2,161.3 483.6,162 484,162.7 484.4,163.2 484.8,163.7 485.2,164.1 485.6,164.4 486,164.7 486.4,164.9 486.8,165.1 487.2,165.2 487.6,165.3 488,165.4 488.4,165.5 488.8,165.5 489.2,165.5 489.6,165.5 490,165.4 490.4,165.3 490.8,165.2 491.2,165.1 491.6,164.9 492,164.6 492.4,164.3 492.8,164 493.2,163.6 493.6,163.1 494,162.5 494.4,161.8 494.8,161 495.2,160.1 495.6,158.9 496,157.6 496.4,156.2 496.8,154.5 497.2,152.8 497.6,151.2 498,149.8 498.4,148.8 498.8,148.5 499.2,148.9 499.6,149.9 500,151.3 500.4,153 500.8,154.7 501.2,156.4 501.6,157.9 502,159.3 502.4,160.4 502.8,161.4 503.2,162.3 503.6,163 504,163.7 504.4,164.2 504.8,164.7 505.2,165.1 505.6,165.5 506,165.8 506.4,166 506.8,166.3 507.2,166.5 507.6,166.7 508,166.8 508.4,167 508.8,167.1 509.2,167.2 509.6,167.3 510,167.4 510.4,167.5 510.8,167.6 511.2,167.7 511.6,167.8 512,167.8 512.4,167.9 512.8,167.9 513.2,168 513.6,168 514,168.1 514.4,168.1 514.8,168.2 515.2,168.2 515.6,168.2 516,168.3 516.4,168.3" fill="none" stroke="#3a3a3a" stroke-width="0.8"/>
<path d="M454.8,168.5 455.2,168.4 455.6,168.4 456,168.3 456.4,168.1 456.8,168 457.2,167.8 457.6,167.7 458,167.7 458.4,167.8 458.8,167.9 459.2,168.1 459.6,168.2 460,168.3 460.4,168.3 460.8,168.3 461.2,168.4 461.6,168.4 462,168.4 462.4,168.4 462.8,168.4 463.2,168.4 463.6,168.4 464,168.3 464.4,168.3 464.8,168.3 465.2,168.3 465.6,168.3 466,168.2 466.4,168.2 466.8,168.2 467.2,168.1 467.6,168.1 468,168 468.4,168 468.8,167.9 469.2,167.8 469.6,167.8 470,167.7 470.4,167.6 470.8,167.5 471.2,167.4 471.6,167.2 472,167.1 472.4,166.9 472.8,166.7 473.2,166.4 473.6,166.1 474,165.8 474.4,165.3 474.8,164.9 475.2,164.3 475.6,163.6 476,162.7 476.4,161.8 476.8,160.8 477.2,159.8 477.6,158.9 478,158.4 478.4,158.2 478.8,158.5 479.2,159.2 479.6,160.1 480,161 480.4,162 480.8,162.8 481.2,163.5 481.6,164 482,164.5 482.4,164.9 482.8,165.2 483.2,165.4 483.6,165.6 484,165.8 484.4,165.9 484.8,165.9 485.2,166 485.6,166 486,166 486.4,166 486.8,165.9 487.2,165.8 487.6,165.7 488,165.6 488.4,165.5 488.8,165.3 489.2,165.1 489.6,164.8 490,164.6 490.4,164.3 490.8,163.9 491.2,163.5 491.6,163 492,162.5 492.4,161.8 492.8,161.1 493.2,160.2 493.6,159.2 494,158.1 494.4,156.7 494.8,155.1 495.2,153.2 495.6,151 496,148.5 496.4,145.6 496.8,142.5 497.2,139.2 497.6,136.1 498,133.4 498.4,131.5 498.8,130.8 499.2,131.5 499.6,133.4 500,136.1 500.4,139.3 500.8,142.6 501.2,145.7 501.6,148.6 502,151.1 502.4,153.3 502.8,155.2 503.2,156.8 503.6,158.2 504,159.4 504.4,160.4 504.8,161.3 505.2,162.1 505.6,162.7 506,163.3 506.4,163.8 506.8,164.2 507.2,164.6 507.6,165 508,165.3 508.4,165.5 508.8,165.8 509.2,166 509.6,166.2 510,166.4 510.4,166.6 510.8,166.7 511.2,166.8 511.6,167 512,167.1 512.4,167.2 512.8,167.3 513.2,167.4 513.6,167.4 514,167.5 514.4,167.6 514.8,167.7 515.2,167.7 515.6,167.8 516,167.8 516.4,167.9" fill="none" stroke="#c89878" stroke-width="0.7"/>
<line x1="456.3" y1="124.6" x2="462.3" y2="124.6" stroke="#e8a890" stroke-width="0.6"/>
<text x="463.8" y="125.6" font-size="2.9" fill="#222" stroke="#222" stroke-width="0.08">Room temperature</text>
<line x1="456.3" y1="127.8" x2="462.3" y2="127.8" stroke="#e070a8" stroke-width="0.6"/>
<text x="463.8" y="128.8" font-size="2.9" fill="#222" stroke="#222" stroke-width="0.08">100 °C 10 min</text>
<line x1="456.3" y1="131" x2="462.3" y2="131" stroke="#b02a90" stroke-width="0.6"/>
<text x="463.8" y="132" font-size="2.9" fill="#222" stroke="#222" stroke-width="0.08">100 °C 20 min</text>
<line x1="456.3" y1="134.2" x2="462.3" y2="134.2" stroke="#3a2a80" stroke-width="0.6"/>
<text x="463.8" y="135.2" font-size="2.9" fill="#222" stroke="#222" stroke-width="0.08">100 °C 30 min</text>
<line x1="493" y1="124.6" x2="499" y2="124.6" stroke="#d8b050" stroke-width="0.6"/>
<text x="500.5" y="125.6" font-size="2.9" fill="#222" stroke="#222" stroke-width="0.08">100 °C 1 h</text>
<line x1="493" y1="127.8" x2="499" y2="127.8" stroke="#c89878" stroke-width="0.6"/>
<text x="500.5" y="128.8" font-size="2.9" fill="#222" stroke="#222" stroke-width="0.08">100 °C 2 h</text>
</g>
<defs><filter id="bl07" x="-20%" y="-20%" width="140%" height="140%"><feGaussianBlur stdDeviation="0.7"/></filter></defs>
<text class="sf" x="238.5" y="192" font-size="15.8" fill="#111" stroke="#111" stroke-width="0.25">(c)</text>
<rect x="257" y="187.8" width="49.8" height="10.4" fill="#e8e8e8"/>
<text x="282.2" y="195.4" font-size="5.9" font-weight="bold" fill="#1a1a1a" text-anchor="middle">411 – 446 nm</text>
<rect x="309.2" y="187.8" width="49.8" height="10.4" fill="#e8e8e8"/>
<text x="334.4" y="195.4" font-size="5.9" font-weight="bold" fill="#1a1a1a" text-anchor="middle">446 – 482 nm</text>
<rect x="362" y="187.8" width="49.8" height="10.4" fill="#e8e8e8"/>
<text x="387.2" y="195.4" font-size="5.9" font-weight="bold" fill="#1a1a1a" text-anchor="middle">482 – 517 nm</text>
<rect x="415" y="187.8" width="49.8" height="10.4" fill="#e8e8e8"/>
<text x="440.2" y="195.4" font-size="5.9" font-weight="bold" fill="#1a1a1a" text-anchor="middle">517 – 553 nm</text>
<rect x="468" y="187.8" width="49.8" height="10.4" fill="#e8e8e8"/>
<text x="493.2" y="195.4" font-size="5.9" font-weight="bold" fill="#1a1a1a" text-anchor="middle">Merged</text>
<rect x="241.4" y="200.8" width="11.2" height="50.4" fill="#efefef"/>
<rect x="241.4" y="254.4" width="11.2" height="51" fill="#efefef"/>
<text transform="translate(249,225.5) rotate(-90)" font-size="5.4" font-weight="bold" fill="#1a1a1a" text-anchor="middle">RT</text>
<text transform="translate(249,279.2) rotate(-90)" font-size="5.4" font-weight="bold" fill="#1a1a1a" text-anchor="middle">100 °C 30 mins</text>
<defs><radialGradient id="mg1" cx="0.5" cy="0.5" r="0.7"><stop offset="0" stop-color="#9a3ab4"/><stop offset="0.7" stop-color="#b448c4"/><stop offset="1" stop-color="#cc66d4"/></radialGradient><radialGradient id="mg2" cx="0.5" cy="0.5" r="0.7"><stop offset="0" stop-color="#b848c8"/><stop offset="1" stop-color="#cc5cd0"/></radialGradient></defs>
<svg x="257" y="201.4" width="50.4" height="50.2" viewBox="0 0 50.4 50.2" overflow="hidden"><rect width="50.4" height="50.2" fill="#050305"/><polygon points="11.3,16.8 31.3,11.6 38,31.3 17.6,39.3" fill="#6a2070" opacity="0.5" filter="url(#bl2)"/><polygon points="11.3,16.8 31.3,11.6 38,31.3 17.6,39.3" fill="url(#mg1)" filter="url(#bl07)"/><line x1="8.8" y1="14.5" x2="30.2" y2="8" stroke="#f0f0f0" stroke-width="1.1" stroke-dasharray="1.1,1.4"/><text transform="translate(17,9.2) rotate(-16.9)" font-size="4.3" font-weight="bold" fill="#cfcfcf" text-anchor="middle">6.1 μm</text><line x1="33.2" y1="9.1" x2="42.2" y2="28.1" stroke="#f0f0f0" stroke-width="1.1" stroke-dasharray="1.1,1.4"/><text transform="translate(39.4,15.9) rotate(64.7)" font-size="4.3" font-weight="bold" fill="#cfcfcf" text-anchor="middle">6.9 μm</text><rect x="28.6" y="45.4" width="19" height="1.3" fill="#eeeeee"/></svg>
<svg x="309.2" y="201.4" width="50.4" height="50.2" viewBox="0 0 50.4 50.2" overflow="hidden"><rect width="50.4" height="50.2" fill="#050308"/><polygon points="11.3,16.8 31.3,11.2 38,31.3 17.6,39.3" fill="#20205e" filter="url(#bl07)"/><line x1="8.8" y1="14.5" x2="30.2" y2="8" stroke="#f0f0f0" stroke-width="1.1" stroke-dasharray="1.1,1.4"/><text transform="translate(17,9.2) rotate(-16.9)" font-size="4.3" font-weight="bold" fill="#cfcfcf" text-anchor="middle">6.1 μm</text><line x1="33.2" y1="9.1" x2="42.2" y2="28.1" stroke="#f0f0f0" stroke-width="1.1" stroke-dasharray="1.1,1.4"/><text transform="translate(39.4,15.9) rotate(64.7)" font-size="4.3" font-weight="bold" fill="#cfcfcf" text-anchor="middle">6.9 μm</text><rect x="28.6" y="45.4" width="19" height="1.3" fill="#eeeeee"/></svg>
<svg x="362" y="201.4" width="50.4" height="50.2" viewBox="0 0 50.4 50.2" overflow="hidden"><rect width="50.4" height="50.2" fill="#040604"/><g filter="url(#bl07)"><polygon points="3.3,17.2 34.5,3.9 46.6,30.8 17,44.5" fill="#3ce03c"/><polygon points="11.8,17.2 30.8,10.9 39,29.8 19.5,37.8" fill="#050505"/></g><line x1="2.2" y1="15.2" x2="34.5" y2="1.6" stroke="#f0f0f0" stroke-width="1.1" stroke-dasharray="1.1,1.4"/><text transform="translate(14.7,7) rotate(-22.8)" font-size="4.3" font-weight="bold" fill="#cfcfcf" text-anchor="middle">10.2 μm</text><line x1="36.6" y1="2.6" x2="48.6" y2="29.5" stroke="#f0f0f0" stroke-width="1.1" stroke-dasharray="1.1,1.4"/><text transform="translate(44.1,12.8) rotate(66)" font-size="4.3" font-weight="bold" fill="#cfcfcf" text-anchor="middle">9.3 μm</text><rect x="28.6" y="45.4" width="19" height="1.3" fill="#eeeeee"/></svg>
<svg x="415" y="201.4" width="50.4" height="50.2" viewBox="0 0 50.4 50.2" overflow="hidden"><rect width="50.4" height="50.2" fill="#060303"/><g filter="url(#bl07)"><polygon points="3.3,17.2 34.5,3.9 46.6,30.8 17,44.5" fill="#e42424"/><polygon points="11.8,17.2 30.8,10.9 39,29.8 19.5,37.8" fill="#050505"/></g><line x1="2.2" y1="15.2" x2="34.5" y2="1.6" stroke="#f0f0f0" stroke-width="1.1" stroke-dasharray="1.1,1.4"/><text transform="translate(14.7,7) rotate(-22.8)" font-size="4.3" font-weight="bold" fill="#cfcfcf" text-anchor="middle">10.0 μm</text><line x1="36.6" y1="2.6" x2="48.6" y2="29.5" stroke="#f0f0f0" stroke-width="1.1" stroke-dasharray="1.1,1.4"/><text transform="translate(44.1,12.8) rotate(66)" font-size="4.3" font-weight="bold" fill="#cfcfcf" text-anchor="middle">9.3 μm</text><rect x="28.6" y="45.4" width="19" height="1.3" fill="#eeeeee"/></svg>
<svg x="468" y="201.4" width="50.4" height="50.2" viewBox="0 0 50.4 50.2" overflow="hidden"><rect width="50.4" height="50.2" fill="#050505"/><g filter="url(#bl05)"><polygon points="2.4,17.2 34,2.8 46.6,31.7 15,45.2" fill="#7cd646"/><polygon points="4.6,17.9 33,4.9 44.4,31 15.9,43.1" fill="none" stroke="#2a5a20" stroke-width="0.6"/><polygon points="2.4,17.2 6.5,15.3 19.1,43.4 15,45.2" fill="#d0a030" opacity="0.75"/><line x1="4" y1="16.5" x2="16.6" y2="44.5" stroke="#e83a18" stroke-width="1.2" stroke-dasharray="1.5,1.2"/><line x1="33.6" y1="4.6" x2="36.8" y2="11.9" stroke="#d88a30" stroke-width="1.6" opacity="0.8"/><polygon points="11,15.4 31,9 37.5,31.6 16.5,38.8" fill="#b44cc6"/><polygon points="11,15.4 31,9 37.5,31.6 16.5,38.8" fill="#c070d0" opacity="0.5" transform="translate(2,1) scale(0.9)"/></g><circle cx="20" cy="33" r="3" fill="none" stroke="#b0f090" stroke-width="0.7"/><line x1="21" y1="27" x2="28" y2="23.5" stroke="#f0f0f0" stroke-width="0.8" stroke-dasharray="1,0.8"/><rect x="28.6" y="45.4" width="19" height="1.3" fill="#eeeeee"/></svg>
<svg x="257" y="253.8" width="50.4" height="50.2" viewBox="0 0 50.4 50.2" overflow="hidden"><rect width="50.4" height="50.2" fill="#160816"/><polygon points="7.8,15.9 30.4,9 40.2,31.6 18.6,41.4" fill="#7a2a80" opacity="0.5" filter="url(#bl2)"/><polygon points="7.8,15.9 30.4,9 40.2,31.6 18.6,41.4" fill="url(#mg2)" filter="url(#bl07)"/><line x1="5.5" y1="14" x2="29.5" y2="6.6" stroke="#f0f0f0" stroke-width="1.1" stroke-dasharray="1.1,1.4"/><text transform="translate(14.8,8.3) rotate(-17.1)" font-size="4.3" font-weight="bold" fill="#cfcfcf" text-anchor="middle">7.1 μm</text><line x1="32.6" y1="7.6" x2="42.8" y2="31.2" stroke="#f0f0f0" stroke-width="1.1" stroke-dasharray="1.1,1.4"/><text transform="translate(39.4,16.4) rotate(66.6)" font-size="4.3" font-weight="bold" fill="#cfcfcf" text-anchor="middle">7.5 μm</text><rect x="28.6" y="45.4" width="19" height="1.3" fill="#eeeeee"/></svg>
<svg x="309.2" y="253.8" width="50.4" height="50.2" viewBox="0 0 50.4 50.2" overflow="hidden"><rect width="50.4" height="50.2" fill="#05050e"/><polygon points="9.6,14.9 32.1,7.4 41.9,28.6 17.4,40.4" fill="#20206a" opacity="0.5" filter="url(#bl2)"/><polygon points="9.6,14.9 32.1,7.4 41.9,28.6 17.4,40.4" fill="#3434a6" filter="url(#bl07)"/><line x1="5.5" y1="14" x2="29.5" y2="6.6" stroke="#f0f0f0" stroke-width="1.1" stroke-dasharray="1.1,1.4"/><text transform="translate(14.8,8.3) rotate(-17.1)" font-size="4.3" font-weight="bold" fill="#cfcfcf" text-anchor="middle">7.2 μm</text><line x1="32.6" y1="7.6" x2="42.8" y2="31.2" stroke="#f0f0f0" stroke-width="1.1" stroke-dasharray="1.1,1.4"/><text transform="translate(39.4,16.4) rotate(66.6)" font-size="4.3" font-weight="bold" fill="#cfcfcf" text-anchor="middle">7.5 μm</text><rect x="28.6" y="45.4" width="19" height="1.3" fill="#eeeeee"/></svg>
<svg x="362" y="253.8" width="50.4" height="50.2" viewBox="0 0 50.4 50.2" overflow="hidden"><rect width="50.4" height="50.2" fill="#040604"/><g filter="url(#bl07)"><polygon points="3.3,17.8 35.4,3.6 47.5,31.4 17.3,45" fill="#3ce03c"/><polygon points="11.8,16.6 31.8,10 39.8,30 19.8,38.2" fill="#050505"/></g><line x1="2.2" y1="15.5" x2="35.2" y2="1.4" stroke="#f0f0f0" stroke-width="1.1" stroke-dasharray="1.1,1.4"/><text transform="translate(15,7.1) rotate(-23.1)" font-size="4.3" font-weight="bold" fill="#cfcfcf" text-anchor="middle">10.2 μm</text><line x1="37.5" y1="2.4" x2="49.2" y2="30" stroke="#f0f0f0" stroke-width="1.1" stroke-dasharray="1.1,1.4"/><text transform="translate(44.9,12.9) rotate(67)" font-size="4.3" font-weight="bold" fill="#cfcfcf" text-anchor="middle">9.3 μm</text><rect x="28.6" y="45.4" width="19" height="1.3" fill="#eeeeee"/></svg>
<svg x="415" y="253.8" width="50.4" height="50.2" viewBox="0 0 50.4 50.2" overflow="hidden"><rect width="50.4" height="50.2" fill="#060303"/><g filter="url(#bl07)"><polygon points="3.3,17.8 35.4,3.6 47.5,31.4 17.3,45" fill="#e42424"/><polygon points="11.8,16.6 31.8,10 39.8,30 19.8,38.2" fill="#050505"/></g><line x1="2.2" y1="15.5" x2="35.2" y2="1.4" stroke="#f0f0f0" stroke-width="1.1" stroke-dasharray="1.1,1.4"/><text transform="translate(15,7.1) rotate(-23.1)" font-size="4.3" font-weight="bold" fill="#cfcfcf" text-anchor="middle">10.1 μm</text><line x1="37.5" y1="2.4" x2="49.2" y2="30" stroke="#f0f0f0" stroke-width="1.1" stroke-dasharray="1.1,1.4"/><text transform="translate(44.9,12.9) rotate(67)" font-size="4.3" font-weight="bold" fill="#cfcfcf" text-anchor="middle">9.0 μm</text><rect x="28.6" y="45.4" width="19" height="1.3" fill="#eeeeee"/></svg>
<svg x="468" y="253.8" width="50.4" height="50.2" viewBox="0 0 50.4 50.2" overflow="hidden"><rect width="50.4" height="50.2" fill="#0a050c"/><g filter="url(#bl05)"><polygon points="3.3,17.8 35.4,3.6 47.5,31.4 17.3,45" fill="#7cd646"/><polygon points="5.6,18.5 34.4,5.7 45.3,30.7 18.2,42.9" fill="none" stroke="#2a5a20" stroke-width="0.6"/><polygon points="3.3,17.8 7.5,16 21.2,43.2 17.3,45" fill="#d0a030" opacity="0.75"/><line x1="4.9" y1="17.1" x2="18.8" y2="44.3" stroke="#e83a18" stroke-width="1.2" stroke-dasharray="1.5,1.2"/><line x1="35" y1="5.4" x2="38" y2="12.3" stroke="#d88a30" stroke-width="1.6" opacity="0.8"/><polygon points="10.5,15 32.2,7.6 40.3,30.5 17.7,38.6" fill="#b44cc6"/><polygon points="10.5,15 32.2,7.6 40.3,30.5 17.7,38.6" fill="#c070d0" opacity="0.5" transform="translate(2,1) scale(0.9)"/></g><circle cx="19.5" cy="33" r="3" fill="none" stroke="#b0f090" stroke-width="0.7"/><line x1="20.5" y1="27" x2="27.5" y2="23.5" stroke="#f0f0f0" stroke-width="0.8" stroke-dasharray="1,0.8"/><rect x="28.6" y="45.4" width="19" height="1.3" fill="#eeeeee"/></svg>
</svg></body></html>
